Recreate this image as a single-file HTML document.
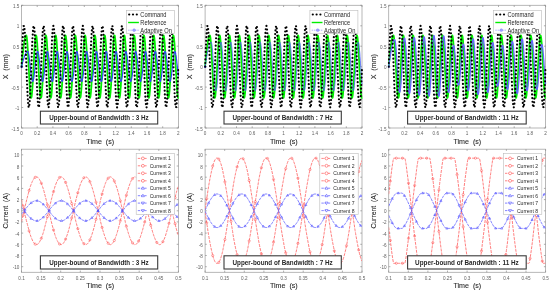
<!DOCTYPE html><html><head><meta charset="utf-8"><style>
html,body{margin:0;padding:0;background:#fff;width:550px;height:293px;overflow:hidden}
svg{display:block;will-change:transform}
text{font-family:"Liberation Sans", sans-serif}
.tk{font-size:4.6px;fill:#606060}
.lab{font-size:7.6px;fill:#2a2a2a;stroke:#2a2a2a;stroke-width:0.1px}
.lg{font-size:6.6px;fill:#2a2a2a}
.lg2{font-size:6.0px;fill:#2a2a2a}
.bx{font-size:6.5px;font-weight:bold;fill:#282828}
</style></head><body>
<svg width="550" height="293" viewBox="0 0 550 293">
<defs>
<filter id="soft" x="0" y="0" width="550" height="293" filterUnits="userSpaceOnUse" color-interpolation-filters="sRGB"><feConvolveMatrix order="3" kernelMatrix="1 2 1 2 4 2 1 2 1" divisor="16" edgeMode="duplicate"/></filter>
<clipPath id="ct0"><rect x="20.5" y="5.3" width="158.9" height="122.7"/></clipPath>
<clipPath id="cb0"><rect x="21.5" y="149.2" width="156.9" height="123.1"/></clipPath>
<clipPath id="ct1"><rect x="204.1" y="5.3" width="158.9" height="122.7"/></clipPath>
<clipPath id="cb1"><rect x="205.1" y="149.2" width="156.9" height="123.1"/></clipPath>
<clipPath id="ct2"><rect x="387.7" y="5.3" width="158.9" height="122.7"/></clipPath>
<clipPath id="cb2"><rect x="388.7" y="149.2" width="156.9" height="123.1"/></clipPath>
</defs>
<g>
<rect width="550" height="293" fill="#fff"/>
<rect x="21.5" y="5.3" width="156.9" height="122.7" fill="none" stroke="#a6a6a6" stroke-width="0.8"/>
<path d="M21.5 128 v-1.7 M21.5 5.3 v1.7 M37.2 128 v-1.7 M37.2 5.3 v1.7 M52.9 128 v-1.7 M52.9 5.3 v1.7 M68.6 128 v-1.7 M68.6 5.3 v1.7 M84.3 128 v-1.7 M84.3 5.3 v1.7 M100 128 v-1.7 M100 5.3 v1.7 M115.6 128 v-1.7 M115.6 5.3 v1.7 M131.3 128 v-1.7 M131.3 5.3 v1.7 M147 128 v-1.7 M147 5.3 v1.7 M162.7 128 v-1.7 M162.7 5.3 v1.7 M178.4 128 v-1.7 M178.4 5.3 v1.7 M21.5 128 h1.7 M178.4 128 h-1.7 M21.5 107.5 h1.7 M178.4 107.5 h-1.7 M21.5 87.1 h1.7 M178.4 87.1 h-1.7 M21.5 66.7 h1.7 M178.4 66.7 h-1.7 M21.5 46.2 h1.7 M178.4 46.2 h-1.7 M21.5 25.8 h1.7 M178.4 25.8 h-1.7 M21.5 5.3 h1.7 M178.4 5.3 h-1.7" stroke="#8c8c8c" stroke-width="0.7" fill="none"/>
<text x="21.5" y="135.3" text-anchor="middle" class="tk">0</text>
<text x="37.2" y="135.3" text-anchor="middle" class="tk">0.2</text>
<text x="52.9" y="135.3" text-anchor="middle" class="tk">0.4</text>
<text x="68.6" y="135.3" text-anchor="middle" class="tk">0.6</text>
<text x="84.3" y="135.3" text-anchor="middle" class="tk">0.8</text>
<text x="100" y="135.3" text-anchor="middle" class="tk">1</text>
<text x="115.6" y="135.3" text-anchor="middle" class="tk">1.2</text>
<text x="131.3" y="135.3" text-anchor="middle" class="tk">1.4</text>
<text x="147" y="135.3" text-anchor="middle" class="tk">1.6</text>
<text x="162.7" y="135.3" text-anchor="middle" class="tk">1.8</text>
<text x="178.4" y="135.3" text-anchor="middle" class="tk">2</text>
<text x="19.3" y="130.5" text-anchor="end" class="tk">-1.5</text>
<text x="19.3" y="110" text-anchor="end" class="tk">-1</text>
<text x="19.3" y="89.6" text-anchor="end" class="tk">-0.5</text>
<text x="19.3" y="69.2" text-anchor="end" class="tk">0</text>
<text x="19.3" y="48.7" text-anchor="end" class="tk">0.5</text>
<text x="19.3" y="28.2" text-anchor="end" class="tk">1</text>
<text x="19.3" y="7.8" text-anchor="end" class="tk">1.5</text>
<text x="100.2" y="144.1" text-anchor="middle" class="lab" textLength="27.8" lengthAdjust="spacingAndGlyphs">Time&#160;&#160;(s)</text>
<text transform="translate(8.3 66.7) rotate(-90)" text-anchor="middle" class="lab" textLength="25.3" lengthAdjust="spacingAndGlyphs">X&#160;&#160;(mm)</text>
<g clip-path="url(#ct0)">
<path d="M21.5 66.7 L21.7 64.1 L22 61.6 L22.2 59.1 L22.5 56.6 L22.7 54.3 L23 52 L23.2 49.8 L23.5 47.7 L23.7 45.7 L24 43.9 L24.2 42.2 L24.4 40.7 L24.7 39.4 L24.9 38.2 L25.2 37.2 L25.4 36.5 L25.7 35.9 L25.9 35.5 L26.2 35.4 L26.4 35.6 L26.6 36.5 L26.9 38.2 L27.1 40.6 L27.4 43.6 L27.6 47.2 L27.9 51.2 L28.1 55.7 L28.4 60.4 L28.6 65.3 L28.9 70.2 L29.1 75 L29.3 79.6 L29.6 83.9 L29.8 87.8 L30.1 91.1 L30.3 93.9 L30.6 96 L30.8 97.3 L31.1 97.9 L31.3 97.7 L31.6 96.8 L31.8 95.1 L32 92.7 L32.3 89.7 L32.5 86.1 L32.8 82.1 L33 77.6 L33.3 72.9 L33.5 68 L33.8 63.1 L34 58.3 L34.2 53.7 L34.5 49.4 L34.7 45.5 L35 42.2 L35.2 39.4 L35.5 37.3 L35.7 36 L36 35.4 L36.2 35.6 L36.5 36.5 L36.7 38.2 L36.9 40.6 L37.2 43.6 L37.4 47.2 L37.7 51.2 L37.9 55.7 L38.2 60.4 L38.4 65.3 L38.7 70.2 L38.9 75 L39.2 79.6 L39.4 83.9 L39.6 87.8 L39.9 91.1 L40.1 93.9 L40.4 96 L40.6 97.3 L40.9 97.9 L41.1 97.7 L41.4 96.8 L41.6 95.1 L41.8 92.7 L42.1 89.7 L42.3 86.1 L42.6 82.1 L42.8 77.6 L43.1 72.9 L43.3 68 L43.6 63.1 L43.8 58.3 L44.1 53.7 L44.3 49.4 L44.5 45.5 L44.8 42.2 L45 39.4 L45.3 37.3 L45.5 36 L45.8 35.4 L46 35.6 L46.3 36.5 L46.5 38.2 L46.8 40.6 L47 43.6 L47.2 47.2 L47.5 51.2 L47.7 55.7 L48 60.4 L48.2 65.3 L48.5 70.2 L48.7 75 L49 79.6 L49.2 83.9 L49.4 87.8 L49.7 91.1 L49.9 93.9 L50.2 96 L50.4 97.3 L50.7 97.9 L50.9 97.7 L51.2 96.8 L51.4 95.1 L51.7 92.7 L51.9 89.7 L52.1 86.1 L52.4 82.1 L52.6 77.6 L52.9 72.9 L53.1 68 L53.4 63.1 L53.6 58.3 L53.9 53.7 L54.1 49.4 L54.4 45.5 L54.6 42.2 L54.8 39.4 L55.1 37.3 L55.3 36 L55.6 35.4 L55.8 35.6 L56.1 36.5 L56.3 38.2 L56.6 40.6 L56.8 43.6 L57 47.2 L57.3 51.2 L57.5 55.7 L57.8 60.4 L58 65.3 L58.3 70.2 L58.5 75 L58.8 79.6 L59 83.9 L59.3 87.8 L59.5 91.1 L59.7 93.9 L60 96 L60.2 97.3 L60.5 97.9 L60.7 97.7 L61 96.8 L61.2 95.1 L61.5 92.7 L61.7 89.7 L62 86.1 L62.2 82.1 L62.4 77.6 L62.7 72.9 L62.9 68 L63.2 63.1 L63.4 58.3 L63.7 53.7 L63.9 49.4 L64.2 45.5 L64.4 42.2 L64.6 39.4 L64.9 37.3 L65.1 36 L65.4 35.4 L65.6 35.6 L65.9 36.5 L66.1 38.2 L66.4 40.6 L66.6 43.6 L66.9 47.2 L67.1 51.2 L67.3 55.7 L67.6 60.4 L67.8 65.3 L68.1 70.2 L68.3 75 L68.6 79.6 L68.8 83.9 L69.1 87.8 L69.3 91.1 L69.6 93.9 L69.8 96 L70 97.3 L70.3 97.9 L70.5 97.7 L70.8 96.8 L71 95.1 L71.3 92.7 L71.5 89.7 L71.8 86.1 L72 82.1 L72.2 77.6 L72.5 72.9 L72.7 68 L73 63.1 L73.2 58.3 L73.5 53.7 L73.7 49.4 L74 45.5 L74.2 42.2 L74.5 39.4 L74.7 37.3 L74.9 36 L75.2 35.4 L75.4 35.6 L75.7 36.5 L75.9 38.2 L76.2 40.6 L76.4 43.6 L76.7 47.2 L76.9 51.2 L77.2 55.7 L77.4 60.4 L77.6 65.3 L77.9 70.2 L78.1 75 L78.4 79.6 L78.6 83.9 L78.9 87.8 L79.1 91.1 L79.4 93.9 L79.6 96 L79.8 97.3 L80.1 97.9 L80.3 97.7 L80.6 96.8 L80.8 95.1 L81.1 92.7 L81.3 89.7 L81.6 86.1 L81.8 82.1 L82.1 77.6 L82.3 72.9 L82.5 68 L82.8 63.1 L83 58.3 L83.3 53.7 L83.5 49.4 L83.8 45.5 L84 42.2 L84.3 39.4 L84.5 37.3 L84.8 36 L85 35.4 L85.2 35.6 L85.5 36.5 L85.7 38.2 L86 40.6 L86.2 43.6 L86.5 47.2 L86.7 51.2 L87 55.7 L87.2 60.4 L87.4 65.3 L87.7 70.2 L87.9 75 L88.2 79.6 L88.4 83.9 L88.7 87.8 L88.9 91.1 L89.2 93.9 L89.4 96 L89.7 97.3 L89.9 97.9 L90.1 97.7 L90.4 96.8 L90.6 95.1 L90.9 92.7 L91.1 89.7 L91.4 86.1 L91.6 82.1 L91.9 77.6 L92.1 72.9 L92.4 68 L92.6 63.1 L92.8 58.3 L93.1 53.7 L93.3 49.4 L93.6 45.5 L93.8 42.2 L94.1 39.4 L94.3 37.3 L94.6 36 L94.8 35.4 L95 35.6 L95.3 36.5 L95.5 38.2 L95.8 40.6 L96 43.6 L96.3 47.2 L96.5 51.2 L96.8 55.7 L97 60.4 L97.3 65.3 L97.5 70.2 L97.7 75 L98 79.6 L98.2 83.9 L98.5 87.8 L98.7 91.1 L99 93.9 L99.2 96 L99.5 97.3 L99.7 97.9 L100 97.7 L100.2 96.8 L100.4 95.1 L100.7 92.7 L100.9 89.7 L101.2 86.1 L101.4 82.1 L101.7 77.6 L101.9 72.9 L102.2 68 L102.4 63.1 L102.6 58.3 L102.9 53.7 L103.1 49.4 L103.4 45.5 L103.6 42.2 L103.9 39.4 L104.1 37.3 L104.4 36 L104.6 35.4 L104.9 35.6 L105.1 36.5 L105.3 38.2 L105.6 40.6 L105.8 43.6 L106.1 47.2 L106.3 51.2 L106.6 55.7 L106.8 60.4 L107.1 65.3 L107.3 70.2 L107.5 75 L107.8 79.6 L108 83.9 L108.3 87.8 L108.5 91.1 L108.8 93.9 L109 96 L109.3 97.3 L109.5 97.9 L109.8 97.7 L110 96.8 L110.2 95.1 L110.5 92.7 L110.7 89.7 L111 86.1 L111.2 82.1 L111.5 77.6 L111.7 72.9 L112 68 L112.2 63.1 L112.5 58.3 L112.7 53.7 L112.9 49.4 L113.2 45.5 L113.4 42.2 L113.7 39.4 L113.9 37.3 L114.2 36 L114.4 35.4 L114.7 35.6 L114.9 36.5 L115.1 38.2 L115.4 40.6 L115.6 43.6 L115.9 47.2 L116.1 51.2 L116.4 55.7 L116.6 60.4 L116.9 65.3 L117.1 70.2 L117.4 75 L117.6 79.6 L117.8 83.9 L118.1 87.8 L118.3 91.1 L118.6 93.9 L118.8 96 L119.1 97.3 L119.3 97.9 L119.6 97.7 L119.8 96.8 L120.1 95.1 L120.3 92.7 L120.5 89.7 L120.8 86.1 L121 82.1 L121.3 77.6 L121.5 72.9 L121.8 68 L122 63.1 L122.3 58.3 L122.5 53.7 L122.7 49.4 L123 45.5 L123.2 42.2 L123.5 39.4 L123.7 37.3 L124 36 L124.2 35.4 L124.5 35.6 L124.7 36.5 L125 38.2 L125.2 40.6 L125.4 43.6 L125.7 47.2 L125.9 51.2 L126.2 55.7 L126.4 60.4 L126.7 65.3 L126.9 70.2 L127.2 75 L127.4 79.6 L127.7 83.9 L127.9 87.8 L128.1 91.1 L128.4 93.9 L128.6 96 L128.9 97.3 L129.1 97.9 L129.4 97.7 L129.6 96.8 L129.9 95.1 L130.1 92.7 L130.3 89.7 L130.6 86.1 L130.8 82.1 L131.1 77.6 L131.3 72.9 L131.6 68 L131.8 63.1 L132.1 58.3 L132.3 53.7 L132.6 49.4 L132.8 45.5 L133 42.2 L133.3 39.4 L133.5 37.3 L133.8 36 L134 35.4 L134.3 35.6 L134.5 36.5 L134.8 38.2 L135 40.6 L135.3 43.6 L135.5 47.2 L135.7 51.2 L136 55.7 L136.2 60.4 L136.5 65.3 L136.7 70.2 L137 75 L137.2 79.6 L137.5 83.9 L137.7 87.8 L137.9 91.1 L138.2 93.9 L138.4 96 L138.7 97.3 L138.9 97.9 L139.2 97.7 L139.4 96.8 L139.7 95.1 L139.9 92.7 L140.2 89.7 L140.4 86.1 L140.6 82.1 L140.9 77.6 L141.1 72.9 L141.4 68 L141.6 63.1 L141.9 58.3 L142.1 53.7 L142.4 49.4 L142.6 45.5 L142.9 42.2 L143.1 39.4 L143.3 37.3 L143.6 36 L143.8 35.4 L144.1 35.6 L144.3 36.5 L144.6 38.2 L144.8 40.6 L145.1 43.6 L145.3 47.2 L145.5 51.2 L145.8 55.7 L146 60.4 L146.3 65.3 L146.5 70.2 L146.8 75 L147 79.6 L147.3 83.9 L147.5 87.8 L147.8 91.1 L148 93.9 L148.2 96 L148.5 97.3 L148.7 97.9 L149 97.7 L149.2 96.8 L149.5 95.1 L149.7 92.7 L150 89.7 L150.2 86.1 L150.5 82.1 L150.7 77.6 L150.9 72.9 L151.2 68 L151.4 63.1 L151.7 58.3 L151.9 53.7 L152.2 49.4 L152.4 45.5 L152.7 42.2 L152.9 39.4 L153.1 37.3 L153.4 36 L153.6 35.4 L153.9 35.6 L154.1 36.5 L154.4 38.2 L154.6 40.6 L154.9 43.6 L155.1 47.2 L155.4 51.2 L155.6 55.7 L155.8 60.4 L156.1 65.3 L156.3 70.2 L156.6 75 L156.8 79.6 L157.1 83.9 L157.3 87.8 L157.6 91.1 L157.8 93.9 L158.1 96 L158.3 97.3 L158.5 97.9 L158.8 97.7 L159 96.8 L159.3 95.1 L159.5 92.7 L159.8 89.7 L160 86.1 L160.3 82.1 L160.5 77.6 L160.7 72.9 L161 68 L161.2 63.1 L161.5 58.3 L161.7 53.7 L162 49.4 L162.2 45.5 L162.5 42.2 L162.7 39.4 L163 37.3 L163.2 36 L163.4 35.4 L163.7 35.6 L163.9 36.5 L164.2 38.2 L164.4 40.6 L164.7 43.6 L164.9 47.2 L165.2 51.2 L165.4 55.7 L165.7 60.4 L165.9 65.3 L166.1 70.2 L166.4 75 L166.6 79.6 L166.9 83.9 L167.1 87.8 L167.4 91.1 L167.6 93.9 L167.9 96 L168.1 97.3 L168.3 97.9 L168.6 97.7 L168.8 96.8 L169.1 95.1 L169.3 92.7 L169.6 89.7 L169.8 86.1 L170.1 82.1 L170.3 77.6 L170.6 72.9 L170.8 68 L171 63.1 L171.3 58.3 L171.5 53.7 L171.8 49.4 L172 45.5 L172.3 42.2 L172.5 39.4 L172.8 37.3 L173 36 L173.3 35.4 L173.5 35.6 L173.7 36.5 L174 38.2 L174.2 40.6 L174.5 43.6 L174.7 47.2 L175 51.2 L175.2 55.7 L175.5 60.4 L175.7 65.3 L175.9 70.2 L176.2 75 L176.4 79.6 L176.7 83.9 L176.9 87.8 L177.2 91.1 L177.4 93.9 L177.7 96 L177.9 97.3 L178.2 97.9 L178.4 97.7" stroke="#00ee00" stroke-width="1.8" fill="none" stroke-linejoin="round"/>
<path d="M21.5 66.7 L21.7 65.7 L22 64.8 L22.2 63.9 L22.5 63 L22.7 62.1 L23 61.2 L23.2 60.4 L23.5 59.5 L23.7 58.7 L24 58 L24.2 57.2 L24.4 56.5 L24.7 55.8 L24.9 55.2 L25.2 54.6 L25.4 54.1 L25.7 53.6 L25.9 53.2 L26.2 52.8 L26.4 52.4 L26.6 52.1 L26.9 51.9 L27.1 51.7 L27.4 51.6 L27.6 51.5 L27.9 51.5 L28.1 51.8 L28.4 52.5 L28.6 53.5 L28.9 54.9 L29.1 56.5 L29.3 58.4 L29.6 60.5 L29.8 62.7 L30.1 65 L30.3 67.4 L30.6 69.7 L30.8 71.9 L31.1 74 L31.3 75.9 L31.6 77.6 L31.8 79 L32 80.1 L32.3 80.9 L32.5 81.3 L32.8 81.4 L33 81.1 L33.3 80.4 L33.5 79.4 L33.8 78.1 L34 76.5 L34.2 74.7 L34.5 72.7 L34.7 70.5 L35 68.2 L35.2 65.9 L35.5 63.5 L35.7 61.3 L36 59.1 L36.2 57.2 L36.5 55.4 L36.7 54 L36.9 52.8 L37.2 52 L37.4 51.6 L37.7 51.5 L37.9 51.8 L38.2 52.5 L38.4 53.5 L38.7 54.9 L38.9 56.5 L39.2 58.4 L39.4 60.5 L39.6 62.7 L39.9 65 L40.1 67.4 L40.4 69.7 L40.6 71.9 L40.9 74 L41.1 75.9 L41.4 77.6 L41.6 79 L41.8 80.1 L42.1 80.9 L42.3 81.3 L42.6 81.4 L42.8 81.1 L43.1 80.4 L43.3 79.4 L43.6 78.1 L43.8 76.5 L44.1 74.7 L44.3 72.7 L44.5 70.5 L44.8 68.2 L45 65.9 L45.3 63.5 L45.5 61.3 L45.8 59.1 L46 57.2 L46.3 55.4 L46.5 54 L46.8 52.8 L47 52 L47.2 51.6 L47.5 51.5 L47.7 51.8 L48 52.5 L48.2 53.5 L48.5 54.9 L48.7 56.5 L49 58.4 L49.2 60.5 L49.4 62.7 L49.7 65 L49.9 67.4 L50.2 69.7 L50.4 71.9 L50.7 74 L50.9 75.9 L51.2 77.6 L51.4 79 L51.7 80.1 L51.9 80.9 L52.1 81.3 L52.4 81.4 L52.6 81.1 L52.9 80.4 L53.1 79.4 L53.4 78.1 L53.6 76.5 L53.9 74.7 L54.1 72.7 L54.4 70.5 L54.6 68.2 L54.8 65.9 L55.1 63.5 L55.3 61.3 L55.6 59.1 L55.8 57.2 L56.1 55.4 L56.3 54 L56.6 52.8 L56.8 52 L57 51.6 L57.3 51.5 L57.5 51.8 L57.8 52.5 L58 53.5 L58.3 54.9 L58.5 56.5 L58.8 58.4 L59 60.5 L59.3 62.7 L59.5 65 L59.7 67.4 L60 69.7 L60.2 71.9 L60.5 74 L60.7 75.9 L61 77.6 L61.2 79 L61.5 80.1 L61.7 80.9 L62 81.3 L62.2 81.4 L62.4 81.1 L62.7 80.4 L62.9 79.4 L63.2 78.1 L63.4 76.5 L63.7 74.7 L63.9 72.7 L64.2 70.5 L64.4 68.2 L64.6 65.9 L64.9 63.5 L65.1 61.3 L65.4 59.1 L65.6 57.2 L65.9 55.4 L66.1 54 L66.4 52.8 L66.6 52 L66.9 51.6 L67.1 51.5 L67.3 51.8 L67.6 52.5 L67.8 53.5 L68.1 54.9 L68.3 56.5 L68.6 58.4 L68.8 60.5 L69.1 62.7 L69.3 65 L69.6 67.4 L69.8 69.7 L70 71.9 L70.3 74 L70.5 75.9 L70.8 77.6 L71 79 L71.3 80.1 L71.5 80.9 L71.8 81.3 L72 81.4 L72.2 81.1 L72.5 80.4 L72.7 79.4 L73 78.1 L73.2 76.5 L73.5 74.7 L73.7 72.7 L74 70.5 L74.2 68.2 L74.5 65.9 L74.7 63.5 L74.9 61.3 L75.2 59.1 L75.4 57.2 L75.7 55.4 L75.9 54 L76.2 52.8 L76.4 52 L76.7 51.6 L76.9 51.5 L77.2 51.8 L77.4 52.5 L77.6 53.5 L77.9 54.9 L78.1 56.5 L78.4 58.4 L78.6 60.5 L78.9 62.7 L79.1 65 L79.4 67.4 L79.6 69.7 L79.8 71.9 L80.1 74 L80.3 75.9 L80.6 77.6 L80.8 79 L81.1 80.1 L81.3 80.9 L81.6 81.3 L81.8 81.4 L82.1 81.1 L82.3 80.4 L82.5 79.4 L82.8 78.1 L83 76.5 L83.3 74.7 L83.5 72.7 L83.8 70.5 L84 68.2 L84.3 65.9 L84.5 63.5 L84.8 61.3 L85 59.1 L85.2 57.2 L85.5 55.4 L85.7 54 L86 52.8 L86.2 52 L86.5 51.6 L86.7 51.5 L87 51.8 L87.2 52.5 L87.4 53.5 L87.7 54.9 L87.9 56.5 L88.2 58.4 L88.4 60.5 L88.7 62.7 L88.9 65 L89.2 67.4 L89.4 69.7 L89.7 71.9 L89.9 74 L90.1 75.9 L90.4 77.6 L90.6 79 L90.9 80.1 L91.1 80.9 L91.4 81.3 L91.6 81.4 L91.9 81.1 L92.1 80.4 L92.4 79.4 L92.6 78.1 L92.8 76.5 L93.1 74.7 L93.3 72.7 L93.6 70.5 L93.8 68.2 L94.1 65.9 L94.3 63.5 L94.6 61.3 L94.8 59.1 L95 57.2 L95.3 55.4 L95.5 54 L95.8 52.8 L96 52 L96.3 51.6 L96.5 51.5 L96.8 51.8 L97 52.5 L97.3 53.5 L97.5 54.9 L97.7 56.5 L98 58.4 L98.2 60.5 L98.5 62.7 L98.7 65 L99 67.4 L99.2 69.7 L99.5 71.9 L99.7 74 L100 75.9 L100.2 77.6 L100.4 79 L100.7 80.1 L100.9 80.9 L101.2 81.3 L101.4 81.4 L101.7 81.1 L101.9 80.4 L102.2 79.4 L102.4 78.1 L102.6 76.5 L102.9 74.7 L103.1 72.7 L103.4 70.5 L103.6 68.2 L103.9 65.9 L104.1 63.5 L104.4 61.3 L104.6 59.1 L104.9 57.2 L105.1 55.4 L105.3 54 L105.6 52.8 L105.8 52 L106.1 51.6 L106.3 51.5 L106.6 51.8 L106.8 52.5 L107.1 53.5 L107.3 54.9 L107.5 56.5 L107.8 58.4 L108 60.5 L108.3 62.7 L108.5 65 L108.8 67.4 L109 69.7 L109.3 71.9 L109.5 74 L109.8 75.9 L110 77.6 L110.2 79 L110.5 80.1 L110.7 80.9 L111 81.3 L111.2 81.4 L111.5 81.1 L111.7 80.4 L112 79.4 L112.2 78.1 L112.5 76.5 L112.7 74.7 L112.9 72.7 L113.2 70.5 L113.4 68.2 L113.7 65.9 L113.9 63.5 L114.2 61.3 L114.4 59.1 L114.7 57.2 L114.9 55.4 L115.1 54 L115.4 52.8 L115.6 52 L115.9 51.6 L116.1 51.5 L116.4 51.8 L116.6 52.5 L116.9 53.5 L117.1 54.9 L117.4 56.5 L117.6 58.4 L117.8 60.5 L118.1 62.7 L118.3 65 L118.6 67.4 L118.8 69.7 L119.1 71.9 L119.3 74 L119.6 75.9 L119.8 77.6 L120.1 79 L120.3 80.1 L120.5 80.9 L120.8 81.3 L121 81.4 L121.3 81.1 L121.5 80.4 L121.8 79.4 L122 78.1 L122.3 76.5 L122.5 74.7 L122.7 72.7 L123 70.5 L123.2 68.2 L123.5 65.9 L123.7 63.5 L124 61.3 L124.2 59.1 L124.5 57.2 L124.7 55.4 L125 54 L125.2 52.8 L125.4 52 L125.7 51.6 L125.9 51.5 L126.2 51.8 L126.4 52.5 L126.7 53.5 L126.9 54.9 L127.2 56.5 L127.4 58.4 L127.7 60.5 L127.9 62.7 L128.1 65 L128.4 67.4 L128.6 69.7 L128.9 71.9 L129.1 74 L129.4 75.9 L129.6 77.6 L129.9 79 L130.1 80.1 L130.3 80.9 L130.6 81.3 L130.8 81.4 L131.1 81.1 L131.3 80.4 L131.6 79.4 L131.8 78.1 L132.1 76.5 L132.3 74.7 L132.6 72.7 L132.8 70.5 L133 68.2 L133.3 65.9 L133.5 63.5 L133.8 61.3 L134 59.1 L134.3 57.2 L134.5 55.4 L134.8 54 L135 52.8 L135.3 52 L135.5 51.6 L135.7 51.5 L136 51.8 L136.2 52.5 L136.5 53.5 L136.7 54.9 L137 56.5 L137.2 58.4 L137.5 60.5 L137.7 62.7 L137.9 65 L138.2 67.4 L138.4 69.7 L138.7 71.9 L138.9 74 L139.2 75.9 L139.4 77.6 L139.7 79 L139.9 80.1 L140.2 80.9 L140.4 81.3 L140.6 81.4 L140.9 81.1 L141.1 80.4 L141.4 79.4 L141.6 78.1 L141.9 76.5 L142.1 74.7 L142.4 72.7 L142.6 70.5 L142.9 68.2 L143.1 65.9 L143.3 63.5 L143.6 61.3 L143.8 59.1 L144.1 57.2 L144.3 55.4 L144.6 54 L144.8 52.8 L145.1 52 L145.3 51.6 L145.5 51.5 L145.8 51.8 L146 52.5 L146.3 53.5 L146.5 54.9 L146.8 56.5 L147 58.4 L147.3 60.5 L147.5 62.7 L147.8 65 L148 67.4 L148.2 69.7 L148.5 71.9 L148.7 74 L149 75.9 L149.2 77.6 L149.5 79 L149.7 80.1 L150 80.9 L150.2 81.3 L150.5 81.4 L150.7 81.1 L150.9 80.4 L151.2 79.4 L151.4 78.1 L151.7 76.5 L151.9 74.7 L152.2 72.7 L152.4 70.5 L152.7 68.2 L152.9 65.9 L153.1 63.5 L153.4 61.3 L153.6 59.1 L153.9 57.2 L154.1 55.4 L154.4 54 L154.6 52.8 L154.9 52 L155.1 51.6 L155.4 51.5 L155.6 51.8 L155.8 52.5 L156.1 53.5 L156.3 54.9 L156.6 56.5 L156.8 58.4 L157.1 60.5 L157.3 62.7 L157.6 65 L157.8 67.4 L158.1 69.7 L158.3 71.9 L158.5 74 L158.8 75.9 L159 77.6 L159.3 79 L159.5 80.1 L159.8 80.9 L160 81.3 L160.3 81.4 L160.5 81.1 L160.7 80.4 L161 79.4 L161.2 78.1 L161.5 76.5 L161.7 74.7 L162 72.7 L162.2 70.5 L162.5 68.2 L162.7 65.9 L163 63.5 L163.2 61.3 L163.4 59.1 L163.7 57.2 L163.9 55.4 L164.2 54 L164.4 52.8 L164.7 52 L164.9 51.6 L165.2 51.5 L165.4 51.8 L165.7 52.5 L165.9 53.5 L166.1 54.9 L166.4 56.5 L166.6 58.4 L166.9 60.5 L167.1 62.7 L167.4 65 L167.6 67.4 L167.9 69.7 L168.1 71.9 L168.3 74 L168.6 75.9 L168.8 77.6 L169.1 79 L169.3 80.1 L169.6 80.9 L169.8 81.3 L170.1 81.4 L170.3 81.1 L170.6 80.4 L170.8 79.4 L171 78.1 L171.3 76.5 L171.5 74.7 L171.8 72.7 L172 70.5 L172.3 68.2 L172.5 65.9 L172.8 63.5 L173 61.3 L173.3 59.1 L173.5 57.2 L173.7 55.4 L174 54 L174.2 52.8 L174.5 52 L174.7 51.6 L175 51.5 L175.2 51.8 L175.5 52.5 L175.7 53.5 L175.9 54.9 L176.2 56.5 L176.4 58.4 L176.7 60.5 L176.9 62.7 L177.2 65 L177.4 67.4 L177.7 69.7 L177.9 71.9 L178.2 74 L178.4 75.9" stroke="#3040ff" stroke-width="1.1" fill="none" stroke-linejoin="round"/>
<circle cx="21.5" cy="66.7" r="1.3" fill="#3040ff"/>
<path d="M21.5 66.7 L21.7 60.3 L22 54 L22.2 48.1 L22.5 42.6 L22.7 37.7 L23 33.6 L23.2 30.2 L23.5 27.8 L23.7 26.3 L24 25.8 L24.2 26.3 L24.4 27.8 L24.7 30.2 L24.9 33.6 L25.2 37.7 L25.4 42.6 L25.7 48.1 L25.9 54 L26.2 60.3 L26.4 66.6 L26.6 73 L26.9 79.3 L27.1 85.2 L27.4 90.7 L27.6 95.6 L27.9 99.7 L28.1 103.1 L28.4 105.5 L28.6 107 L28.9 107.5 L29.1 107 L29.3 105.5 L29.6 103.1 L29.8 99.7 L30.1 95.6 L30.3 90.7 L30.6 85.2 L30.8 79.3 L31.1 73 L31.3 66.7 L31.6 60.3 L31.8 54 L32 48.1 L32.3 42.6 L32.5 37.7 L32.8 33.6 L33 30.2 L33.3 27.8 L33.5 26.3 L33.8 25.8 L34 26.3 L34.2 27.8 L34.5 30.2 L34.7 33.6 L35 37.7 L35.2 42.6 L35.5 48.1 L35.7 54 L36 60.3 L36.2 66.6 L36.5 73 L36.7 79.3 L36.9 85.2 L37.2 90.7 L37.4 95.6 L37.7 99.7 L37.9 103.1 L38.2 105.5 L38.4 107 L38.7 107.5 L38.9 107 L39.2 105.5 L39.4 103.1 L39.6 99.7 L39.9 95.6 L40.1 90.7 L40.4 85.2 L40.6 79.3 L40.9 73 L41.1 66.7 L41.4 60.3 L41.6 54 L41.8 48.1 L42.1 42.6 L42.3 37.7 L42.6 33.6 L42.8 30.2 L43.1 27.8 L43.3 26.3 L43.6 25.8 L43.8 26.3 L44.1 27.8 L44.3 30.2 L44.5 33.6 L44.8 37.7 L45 42.6 L45.3 48.1 L45.5 54 L45.8 60.3 L46 66.6 L46.3 73 L46.5 79.3 L46.8 85.2 L47 90.7 L47.2 95.6 L47.5 99.7 L47.7 103.1 L48 105.5 L48.2 107 L48.5 107.5 L48.7 107 L49 105.5 L49.2 103.1 L49.4 99.7 L49.7 95.6 L49.9 90.7 L50.2 85.2 L50.4 79.3 L50.7 73 L50.9 66.7 L51.2 60.3 L51.4 54 L51.7 48.1 L51.9 42.6 L52.1 37.7 L52.4 33.6 L52.6 30.2 L52.9 27.8 L53.1 26.3 L53.4 25.8 L53.6 26.3 L53.9 27.8 L54.1 30.2 L54.4 33.6 L54.6 37.7 L54.8 42.6 L55.1 48.1 L55.3 54 L55.6 60.3 L55.8 66.6 L56.1 73 L56.3 79.3 L56.6 85.2 L56.8 90.7 L57 95.6 L57.3 99.7 L57.5 103.1 L57.8 105.5 L58 107 L58.3 107.5 L58.5 107 L58.8 105.5 L59 103.1 L59.3 99.7 L59.5 95.6 L59.7 90.7 L60 85.2 L60.2 79.3 L60.5 73 L60.7 66.7 L61 60.3 L61.2 54 L61.5 48.1 L61.7 42.6 L62 37.7 L62.2 33.6 L62.4 30.2 L62.7 27.8 L62.9 26.3 L63.2 25.8 L63.4 26.3 L63.7 27.8 L63.9 30.2 L64.2 33.6 L64.4 37.7 L64.6 42.6 L64.9 48.1 L65.1 54 L65.4 60.3 L65.6 66.6 L65.9 73 L66.1 79.3 L66.4 85.2 L66.6 90.7 L66.9 95.6 L67.1 99.7 L67.3 103.1 L67.6 105.5 L67.8 107 L68.1 107.5 L68.3 107 L68.6 105.5 L68.8 103.1 L69.1 99.7 L69.3 95.6 L69.6 90.7 L69.8 85.2 L70 79.3 L70.3 73 L70.5 66.7 L70.8 60.3 L71 54 L71.3 48.1 L71.5 42.6 L71.8 37.7 L72 33.6 L72.2 30.2 L72.5 27.8 L72.7 26.3 L73 25.8 L73.2 26.3 L73.5 27.8 L73.7 30.2 L74 33.6 L74.2 37.7 L74.5 42.6 L74.7 48.1 L74.9 54 L75.2 60.3 L75.4 66.6 L75.7 73 L75.9 79.3 L76.2 85.2 L76.4 90.7 L76.7 95.6 L76.9 99.7 L77.2 103.1 L77.4 105.5 L77.6 107 L77.9 107.5 L78.1 107 L78.4 105.5 L78.6 103.1 L78.9 99.7 L79.1 95.6 L79.4 90.7 L79.6 85.2 L79.8 79.3 L80.1 73 L80.3 66.7 L80.6 60.3 L80.8 54 L81.1 48.1 L81.3 42.6 L81.6 37.7 L81.8 33.6 L82.1 30.2 L82.3 27.8 L82.5 26.3 L82.8 25.8 L83 26.3 L83.3 27.8 L83.5 30.2 L83.8 33.6 L84 37.7 L84.3 42.6 L84.5 48.1 L84.8 54 L85 60.3 L85.2 66.7 L85.5 73 L85.7 79.3 L86 85.2 L86.2 90.7 L86.5 95.6 L86.7 99.7 L87 103.1 L87.2 105.5 L87.4 107 L87.7 107.5 L87.9 107 L88.2 105.5 L88.4 103.1 L88.7 99.7 L88.9 95.6 L89.2 90.7 L89.4 85.2 L89.7 79.3 L89.9 73 L90.1 66.7 L90.4 60.3 L90.6 54 L90.9 48.1 L91.1 42.6 L91.4 37.7 L91.6 33.6 L91.9 30.2 L92.1 27.8 L92.4 26.3 L92.6 25.8 L92.8 26.3 L93.1 27.8 L93.3 30.2 L93.6 33.6 L93.8 37.7 L94.1 42.6 L94.3 48.1 L94.6 54 L94.8 60.3 L95 66.6 L95.3 73 L95.5 79.3 L95.8 85.2 L96 90.7 L96.3 95.6 L96.5 99.7 L96.8 103.1 L97 105.5 L97.3 107 L97.5 107.5 L97.7 107 L98 105.5 L98.2 103.1 L98.5 99.7 L98.7 95.6 L99 90.7 L99.2 85.2 L99.5 79.3 L99.7 73 L100 66.7 L100.2 60.3 L100.4 54 L100.7 48.1 L100.9 42.6 L101.2 37.7 L101.4 33.6 L101.7 30.2 L101.9 27.8 L102.2 26.3 L102.4 25.8 L102.6 26.3 L102.9 27.8 L103.1 30.2 L103.4 33.6 L103.6 37.7 L103.9 42.6 L104.1 48.1 L104.4 54 L104.6 60.3 L104.9 66.7 L105.1 73 L105.3 79.3 L105.6 85.2 L105.8 90.7 L106.1 95.6 L106.3 99.7 L106.6 103.1 L106.8 105.5 L107.1 107 L107.3 107.5 L107.5 107 L107.8 105.5 L108 103.1 L108.3 99.7 L108.5 95.6 L108.8 90.7 L109 85.2 L109.3 79.3 L109.5 73 L109.8 66.7 L110 60.3 L110.2 54 L110.5 48.1 L110.7 42.6 L111 37.7 L111.2 33.6 L111.5 30.2 L111.7 27.8 L112 26.3 L112.2 25.8 L112.5 26.3 L112.7 27.8 L112.9 30.2 L113.2 33.6 L113.4 37.7 L113.7 42.6 L113.9 48.1 L114.2 54 L114.4 60.3 L114.7 66.6 L114.9 73 L115.1 79.3 L115.4 85.2 L115.6 90.7 L115.9 95.6 L116.1 99.7 L116.4 103.1 L116.6 105.5 L116.9 107 L117.1 107.5 L117.4 107 L117.6 105.5 L117.8 103.1 L118.1 99.7 L118.3 95.6 L118.6 90.7 L118.8 85.2 L119.1 79.3 L119.3 73 L119.6 66.7 L119.8 60.3 L120.1 54 L120.3 48.1 L120.5 42.6 L120.8 37.7 L121 33.6 L121.3 30.2 L121.5 27.8 L121.8 26.3 L122 25.8 L122.3 26.3 L122.5 27.8 L122.7 30.2 L123 33.6 L123.2 37.7 L123.5 42.6 L123.7 48.1 L124 54 L124.2 60.3 L124.5 66.7 L124.7 73 L125 79.3 L125.2 85.2 L125.4 90.7 L125.7 95.6 L125.9 99.7 L126.2 103.1 L126.4 105.5 L126.7 107 L126.9 107.5 L127.2 107 L127.4 105.5 L127.7 103.1 L127.9 99.7 L128.1 95.6 L128.4 90.7 L128.6 85.2 L128.9 79.3 L129.1 73 L129.4 66.7 L129.6 60.3 L129.9 54 L130.1 48.1 L130.3 42.6 L130.6 37.7 L130.8 33.6 L131.1 30.2 L131.3 27.8 L131.6 26.3 L131.8 25.8 L132.1 26.3 L132.3 27.8 L132.6 30.2 L132.8 33.6 L133 37.7 L133.3 42.6 L133.5 48.1 L133.8 54 L134 60.3 L134.3 66.6 L134.5 73 L134.8 79.3 L135 85.2 L135.3 90.7 L135.5 95.6 L135.7 99.7 L136 103.1 L136.2 105.5 L136.5 107 L136.7 107.5 L137 107 L137.2 105.5 L137.5 103.1 L137.7 99.7 L137.9 95.6 L138.2 90.7 L138.4 85.2 L138.7 79.3 L138.9 73 L139.2 66.7 L139.4 60.3 L139.7 54 L139.9 48.1 L140.2 42.6 L140.4 37.7 L140.6 33.6 L140.9 30.2 L141.1 27.8 L141.4 26.3 L141.6 25.8 L141.9 26.3 L142.1 27.8 L142.4 30.2 L142.6 33.6 L142.9 37.7 L143.1 42.6 L143.3 48.1 L143.6 54 L143.8 60.3 L144.1 66.7 L144.3 73 L144.6 79.3 L144.8 85.2 L145.1 90.7 L145.3 95.6 L145.5 99.7 L145.8 103.1 L146 105.5 L146.3 107 L146.5 107.5 L146.8 107 L147 105.5 L147.3 103.1 L147.5 99.7 L147.8 95.6 L148 90.7 L148.2 85.2 L148.5 79.3 L148.7 73 L149 66.6 L149.2 60.3 L149.5 54 L149.7 48.1 L150 42.6 L150.2 37.7 L150.5 33.6 L150.7 30.2 L150.9 27.8 L151.2 26.3 L151.4 25.8 L151.7 26.3 L151.9 27.8 L152.2 30.2 L152.4 33.6 L152.7 37.7 L152.9 42.6 L153.1 48.1 L153.4 54 L153.6 60.3 L153.9 66.6 L154.1 73 L154.4 79.3 L154.6 85.2 L154.9 90.7 L155.1 95.6 L155.4 99.7 L155.6 103.1 L155.8 105.5 L156.1 107 L156.3 107.5 L156.6 107 L156.8 105.5 L157.1 103.1 L157.3 99.7 L157.6 95.6 L157.8 90.7 L158.1 85.2 L158.3 79.3 L158.5 73 L158.8 66.7 L159 60.3 L159.3 54 L159.5 48.1 L159.8 42.6 L160 37.7 L160.3 33.6 L160.5 30.2 L160.7 27.8 L161 26.3 L161.2 25.8 L161.5 26.3 L161.7 27.8 L162 30.2 L162.2 33.6 L162.5 37.7 L162.7 42.6 L163 48.1 L163.2 54 L163.4 60.3 L163.7 66.7 L163.9 73 L164.2 79.3 L164.4 85.2 L164.7 90.7 L164.9 95.6 L165.2 99.7 L165.4 103.1 L165.7 105.5 L165.9 107 L166.1 107.5 L166.4 107 L166.6 105.5 L166.9 103.1 L167.1 99.7 L167.4 95.6 L167.6 90.7 L167.9 85.2 L168.1 79.3 L168.3 73 L168.6 66.7 L168.8 60.3 L169.1 54 L169.3 48.1 L169.6 42.6 L169.8 37.7 L170.1 33.6 L170.3 30.2 L170.6 27.8 L170.8 26.3 L171 25.8 L171.3 26.3 L171.5 27.8 L171.8 30.2 L172 33.6 L172.3 37.7 L172.5 42.6 L172.8 48.1 L173 54 L173.3 60.3 L173.5 66.6 L173.7 73 L174 79.3 L174.2 85.2 L174.5 90.7 L174.7 95.6 L175 99.7 L175.2 103.1 L175.5 105.5 L175.7 107 L175.9 107.5 L176.2 107 L176.4 105.5 L176.7 103.1 L176.9 99.7 L177.2 95.6 L177.4 90.7 L177.7 85.2 L177.9 79.3 L178.2 73 L178.4 66.7" stroke="#000" stroke-width="2.2" fill="none" stroke-linecap="round" stroke-dasharray="0 3.7"/>
</g>
<rect x="126.3" y="10.3" width="48" height="23.3" fill="#fff" stroke="#bbb" stroke-width="0.6"/>
<circle cx="129.2" cy="14.5" r="1.1" fill="#000"/>
<circle cx="133" cy="14.5" r="1.1" fill="#000"/>
<circle cx="136.8" cy="14.5" r="1.1" fill="#000"/>
<path d="M128.1 22.5 H138.9" stroke="#00ee00" stroke-width="1.4"/>
<path d="M128.1 30.2 H138.9" stroke="#8080ff" stroke-width="0.6" stroke-dasharray="1.5 0.8"/>
<circle cx="134.1" cy="30.2" r="1.4" fill="#a0a0ff" stroke="#8080ff" stroke-width="0.4"/>
<text x="140.3" y="16.8" class="lg" textLength="26.2" lengthAdjust="spacingAndGlyphs">Command</text>
<text x="140.3" y="24.8" class="lg" textLength="26.2" lengthAdjust="spacingAndGlyphs">Reference</text>
<text x="140.3" y="32.5" class="lg" textLength="31.6" lengthAdjust="spacingAndGlyphs">Adaptive On</text>
<rect x="40.4" y="111.2" width="117.3" height="12.8" fill="#fff" stroke="#3a3a3a" stroke-width="1.1"/>
<text x="99" y="120.3" text-anchor="middle" class="bx" textLength="99.3" lengthAdjust="spacingAndGlyphs">Upper-bound of Bandwidth : 3 Hz</text>
<rect x="21.5" y="149.2" width="156.9" height="123.1" fill="none" stroke="#a6a6a6" stroke-width="0.8"/>
<path d="M21.5 272.3 v-1.7 M21.5 149.2 v1.7 M41.1 272.3 v-1.7 M41.1 149.2 v1.7 M60.7 272.3 v-1.7 M60.7 149.2 v1.7 M80.3 272.3 v-1.7 M80.3 149.2 v1.7 M100 272.3 v-1.7 M100 149.2 v1.7 M119.6 272.3 v-1.7 M119.6 149.2 v1.7 M139.2 272.3 v-1.7 M139.2 149.2 v1.7 M158.8 272.3 v-1.7 M158.8 149.2 v1.7 M178.4 272.3 v-1.7 M178.4 149.2 v1.7 M21.5 266.7 h1.7 M178.4 266.7 h-1.7 M21.5 255.5 h1.7 M178.4 255.5 h-1.7 M21.5 244.3 h1.7 M178.4 244.3 h-1.7 M21.5 233.1 h1.7 M178.4 233.1 h-1.7 M21.5 221.9 h1.7 M178.4 221.9 h-1.7 M21.5 210.8 h1.7 M178.4 210.8 h-1.7 M21.5 199.6 h1.7 M178.4 199.6 h-1.7 M21.5 188.4 h1.7 M178.4 188.4 h-1.7 M21.5 177.2 h1.7 M178.4 177.2 h-1.7 M21.5 166 h1.7 M178.4 166 h-1.7 M21.5 154.8 h1.7 M178.4 154.8 h-1.7" stroke="#8c8c8c" stroke-width="0.7" fill="none"/>
<text x="21.5" y="279.6" text-anchor="middle" class="tk">0.1</text>
<text x="41.1" y="279.6" text-anchor="middle" class="tk">0.15</text>
<text x="60.7" y="279.6" text-anchor="middle" class="tk">0.2</text>
<text x="80.3" y="279.6" text-anchor="middle" class="tk">0.25</text>
<text x="100" y="279.6" text-anchor="middle" class="tk">0.3</text>
<text x="119.6" y="279.6" text-anchor="middle" class="tk">0.35</text>
<text x="139.2" y="279.6" text-anchor="middle" class="tk">0.4</text>
<text x="158.8" y="279.6" text-anchor="middle" class="tk">0.45</text>
<text x="178.4" y="279.6" text-anchor="middle" class="tk">0.5</text>
<text x="19.3" y="269.2" text-anchor="end" class="tk">-10</text>
<text x="19.3" y="258" text-anchor="end" class="tk">-8</text>
<text x="19.3" y="246.8" text-anchor="end" class="tk">-6</text>
<text x="19.3" y="235.6" text-anchor="end" class="tk">-4</text>
<text x="19.3" y="224.4" text-anchor="end" class="tk">-2</text>
<text x="19.3" y="213.2" text-anchor="end" class="tk">0</text>
<text x="19.3" y="202.1" text-anchor="end" class="tk">2</text>
<text x="19.3" y="190.9" text-anchor="end" class="tk">4</text>
<text x="19.3" y="179.7" text-anchor="end" class="tk">6</text>
<text x="19.3" y="168.5" text-anchor="end" class="tk">8</text>
<text x="19.3" y="157.3" text-anchor="end" class="tk">10</text>
<text x="100.2" y="288.4" text-anchor="middle" class="lab" textLength="27.8" lengthAdjust="spacingAndGlyphs">Time&#160;&#160;(s)</text>
<text transform="translate(8.3 210.8) rotate(-90)" text-anchor="middle" class="lab" textLength="35.6" lengthAdjust="spacingAndGlyphs">Current&#160;&#160;(A)</text>
<g clip-path="url(#cb0)">
<path d="M21.5 221.9 L22 219.8 L22.5 217.8 L23 215.7 L23.5 213.6 L24 211.5 L24.4 209.4 L24.9 207.3 L25.4 205.2 L25.9 203.1 L26.4 201 L26.9 199 L27.4 197.1 L27.9 195.2 L28.4 193.3 L28.9 191.5 L29.3 189.8 L29.8 188.2 L30.3 186.7 L30.8 185.2 L31.3 183.9 L31.8 182.7 L32.3 181.5 L32.8 180.5 L33.3 179.6 L33.8 178.9 L34.2 178.2 L34.7 177.7 L35.2 177.3 L35.7 177 L36.2 176.9 L36.7 176.9 L37.2 177.1 L37.7 177.3 L38.2 177.7 L38.7 178.2 L39.2 178.9 L39.6 179.7 L40.1 180.6 L40.6 181.6 L41.1 182.7 L41.6 184 L42.1 185.3 L42.6 186.8 L43.1 188.3 L43.6 189.9 L44.1 191.6 L44.5 193.4 L45 195.3 L45.5 197.2 L46 199.1 L46.5 201.1 L47 203.2 L47.5 205.3 L48 207.4 L48.5 209.5 L49 211.6 L49.4 213.7 L49.9 215.8 L50.4 217.9 L50.9 219.9 L51.4 222 L51.9 223.9 L52.4 225.9 L52.9 227.7 L53.4 229.5 L53.9 231.2 L54.4 232.9 L54.8 234.4 L55.3 235.9 L55.8 237.3 L56.3 238.5 L56.8 239.7 L57.3 240.7 L57.8 241.7 L58.3 242.5 L58.8 243.1 L59.3 243.7 L59.7 244.1 L60.2 244.4 L60.7 244.6 L61.2 244.6 L61.7 244.5 L62.2 244.3 L62.7 243.9 L63.2 243.4 L63.7 242.8 L64.2 242 L64.6 241.2 L65.1 240.2 L65.6 239.1 L66.1 237.9 L66.6 236.5 L67.1 235.1 L67.6 233.6 L68.1 232 L68.6 230.3 L69.1 228.5 L69.6 226.7 L70 224.8 L70.5 222.9 L71 220.9 L71.5 218.8 L72 216.8 L72.5 214.7 L73 212.6 L73.5 210.4 L74 208.3 L74.5 206.2 L74.9 204.1 L75.4 202.1 L75.9 200 L76.4 198.1 L76.9 196.1 L77.4 194.2 L77.9 192.4 L78.4 190.7 L78.9 189 L79.4 187.4 L79.8 186 L80.3 184.6 L80.8 183.3 L81.3 182.1 L81.8 181 L82.3 180.1 L82.8 179.2 L83.3 178.5 L83.8 177.9 L84.3 177.5 L84.8 177.2 L85.2 177 L85.7 176.9 L86.2 177 L86.7 177.2 L87.2 177.5 L87.7 178 L88.2 178.6 L88.7 179.3 L89.2 180.1 L89.7 181.1 L90.1 182.1 L90.6 183.3 L91.1 184.6 L91.6 186 L92.1 187.5 L92.6 189.1 L93.1 190.8 L93.6 192.5 L94.1 194.3 L94.6 196.2 L95 198.1 L95.5 200.1 L96 202.2 L96.5 204.2 L97 206.3 L97.5 208.4 L98 210.5 L98.5 212.6 L99 214.8 L99.5 216.8 L100 218.9 L100.4 221 L100.9 223 L101.4 224.9 L101.9 226.8 L102.4 228.6 L102.9 230.4 L103.4 232.1 L103.9 233.7 L104.4 235.2 L104.9 236.6 L105.3 237.9 L105.8 239.1 L106.3 240.2 L106.8 241.2 L107.3 242.1 L107.8 242.8 L108.3 243.4 L108.8 243.9 L109.3 244.3 L109.8 244.5 L110.2 244.6 L110.7 244.6 L111.2 244.4 L111.7 244.1 L112.2 243.7 L112.7 243.1 L113.2 242.4 L113.7 241.6 L114.2 240.7 L114.7 239.6 L115.1 238.5 L115.6 237.2 L116.1 235.8 L116.6 234.4 L117.1 232.8 L117.6 231.2 L118.1 229.4 L118.6 227.6 L119.1 225.8 L119.6 223.8 L120.1 221.9 L120.5 219.9 L121 217.8 L121.5 215.7 L122 213.6 L122.5 211.5 L123 209.4 L123.5 207.3 L124 205.2 L124.5 203.1 L125 201.1 L125.4 199 L125.9 197.1 L126.4 195.2 L126.9 193.3 L127.4 191.6 L127.9 189.8 L128.4 188.2 L128.9 186.7 L129.4 185.2 L129.9 183.9 L130.3 182.7 L130.8 181.5 L131.3 180.5 L131.8 179.6 L132.3 178.9 L132.8 178.2 L133.3 177.7 L133.8 177.3 L134.3 177 L134.8 176.9 L135.3 176.9 L135.7 177.1 L136.2 177.3 L136.7 177.7 L137.2 178.2 L137.7 178.9 L138.2 179.7 L138.7 180.6 L139.2 181.6 L139.7 182.7 L140.2 184 L140.6 185.3 L141.1 186.7 L141.6 188.3 L142.1 189.9 L142.6 191.6 L143.1 193.4 L143.6 195.3 L144.1 197.2 L144.6 199.1 L145.1 201.1 L145.5 203.2 L146 205.3 L146.5 207.4 L147 209.5 L147.5 211.6 L148 213.7 L148.5 215.8 L149 217.9 L149.5 219.9 L150 222 L150.5 223.9 L150.9 225.8 L151.4 227.7 L151.9 229.5 L152.4 231.2 L152.9 232.9 L153.4 234.4 L153.9 235.9 L154.4 237.3 L154.9 238.5 L155.4 239.7 L155.8 240.7 L156.3 241.6 L156.8 242.5 L157.3 243.1 L157.8 243.7 L158.3 244.1 L158.8 244.4 L159.3 244.6 L159.8 244.6 L160.3 244.5 L160.7 244.3 L161.2 243.9 L161.7 243.4 L162.2 242.8 L162.7 242 L163.2 241.2 L163.7 240.2 L164.2 239.1 L164.7 237.9 L165.2 236.5 L165.7 235.1 L166.1 233.6 L166.6 232 L167.1 230.3 L167.6 228.6 L168.1 226.7 L168.6 224.8 L169.1 222.9 L169.6 220.9 L170.1 218.8 L170.6 216.8 L171 214.7 L171.5 212.6 L172 210.4 L172.5 208.3 L173 206.2 L173.5 204.1 L174 202.1 L174.5 200.1 L175 198.1 L175.5 196.1 L175.9 194.2 L176.4 192.4 L176.9 190.7 L177.4 189 L177.9 187.4 L178.4 186" stroke="#ff7070" stroke-width="0.9" fill="none" stroke-dasharray="3 1"/>
<path d="M21.5 199.6 L22 201.7 L22.5 203.7 L23 205.8 L23.5 207.9 L24 210 L24.4 212.1 L24.9 214.2 L25.4 216.3 L25.9 218.4 L26.4 220.5 L26.9 222.5 L27.4 224.4 L27.9 226.3 L28.4 228.2 L28.9 230 L29.3 231.7 L29.8 233.3 L30.3 234.8 L30.8 236.3 L31.3 237.6 L31.8 238.8 L32.3 240 L32.8 241 L33.3 241.9 L33.8 242.6 L34.2 243.3 L34.7 243.8 L35.2 244.2 L35.7 244.5 L36.2 244.6 L36.7 244.6 L37.2 244.4 L37.7 244.2 L38.2 243.8 L38.7 243.3 L39.2 242.6 L39.6 241.8 L40.1 240.9 L40.6 239.9 L41.1 238.8 L41.6 237.5 L42.1 236.2 L42.6 234.7 L43.1 233.2 L43.6 231.6 L44.1 229.9 L44.5 228.1 L45 226.2 L45.5 224.3 L46 222.4 L46.5 220.4 L47 218.3 L47.5 216.2 L48 214.1 L48.5 212 L49 209.9 L49.4 207.8 L49.9 205.7 L50.4 203.6 L50.9 201.6 L51.4 199.5 L51.9 197.6 L52.4 195.6 L52.9 193.8 L53.4 192 L53.9 190.3 L54.4 188.6 L54.8 187.1 L55.3 185.6 L55.8 184.2 L56.3 183 L56.8 181.8 L57.3 180.8 L57.8 179.8 L58.3 179 L58.8 178.4 L59.3 177.8 L59.7 177.4 L60.2 177.1 L60.7 176.9 L61.2 176.9 L61.7 177 L62.2 177.2 L62.7 177.6 L63.2 178.1 L63.7 178.7 L64.2 179.5 L64.6 180.3 L65.1 181.3 L65.6 182.4 L66.1 183.6 L66.6 185 L67.1 186.4 L67.6 187.9 L68.1 189.5 L68.6 191.2 L69.1 193 L69.6 194.8 L70 196.7 L70.5 198.6 L71 200.6 L71.5 202.7 L72 204.7 L72.5 206.8 L73 208.9 L73.5 211.1 L74 213.2 L74.5 215.3 L74.9 217.4 L75.4 219.4 L75.9 221.5 L76.4 223.4 L76.9 225.4 L77.4 227.3 L77.9 229.1 L78.4 230.8 L78.9 232.5 L79.4 234.1 L79.8 235.5 L80.3 236.9 L80.8 238.2 L81.3 239.4 L81.8 240.5 L82.3 241.4 L82.8 242.3 L83.3 243 L83.8 243.6 L84.3 244 L84.8 244.3 L85.2 244.5 L85.7 244.6 L86.2 244.5 L86.7 244.3 L87.2 244 L87.7 243.5 L88.2 242.9 L88.7 242.2 L89.2 241.4 L89.7 240.4 L90.1 239.4 L90.6 238.2 L91.1 236.9 L91.6 235.5 L92.1 234 L92.6 232.4 L93.1 230.7 L93.6 229 L94.1 227.2 L94.6 225.3 L95 223.4 L95.5 221.4 L96 219.3 L96.5 217.3 L97 215.2 L97.5 213.1 L98 211 L98.5 208.9 L99 206.7 L99.5 204.7 L100 202.6 L100.4 200.5 L100.9 198.5 L101.4 196.6 L101.9 194.7 L102.4 192.9 L102.9 191.1 L103.4 189.4 L103.9 187.8 L104.4 186.3 L104.9 184.9 L105.3 183.6 L105.8 182.4 L106.3 181.3 L106.8 180.3 L107.3 179.4 L107.8 178.7 L108.3 178.1 L108.8 177.6 L109.3 177.2 L109.8 177 L110.2 176.9 L110.7 176.9 L111.2 177.1 L111.7 177.4 L112.2 177.8 L112.7 178.4 L113.2 179.1 L113.7 179.9 L114.2 180.8 L114.7 181.9 L115.1 183 L115.6 184.3 L116.1 185.7 L116.6 187.1 L117.1 188.7 L117.6 190.3 L118.1 192.1 L118.6 193.9 L119.1 195.7 L119.6 197.7 L120.1 199.6 L120.5 201.6 L121 203.7 L121.5 205.8 L122 207.9 L122.5 210 L123 212.1 L123.5 214.2 L124 216.3 L124.5 218.4 L125 220.4 L125.4 222.5 L125.9 224.4 L126.4 226.3 L126.9 228.2 L127.4 229.9 L127.9 231.7 L128.4 233.3 L128.9 234.8 L129.4 236.3 L129.9 237.6 L130.3 238.8 L130.8 240 L131.3 241 L131.8 241.9 L132.3 242.6 L132.8 243.3 L133.3 243.8 L133.8 244.2 L134.3 244.5 L134.8 244.6 L135.3 244.6 L135.7 244.4 L136.2 244.2 L136.7 243.8 L137.2 243.3 L137.7 242.6 L138.2 241.8 L138.7 240.9 L139.2 239.9 L139.7 238.8 L140.2 237.5 L140.6 236.2 L141.1 234.8 L141.6 233.2 L142.1 231.6 L142.6 229.9 L143.1 228.1 L143.6 226.2 L144.1 224.3 L144.6 222.4 L145.1 220.4 L145.5 218.3 L146 216.2 L146.5 214.1 L147 212 L147.5 209.9 L148 207.8 L148.5 205.7 L149 203.6 L149.5 201.6 L150 199.5 L150.5 197.6 L150.9 195.7 L151.4 193.8 L151.9 192 L152.4 190.3 L152.9 188.6 L153.4 187.1 L153.9 185.6 L154.4 184.2 L154.9 183 L155.4 181.8 L155.8 180.8 L156.3 179.9 L156.8 179 L157.3 178.4 L157.8 177.8 L158.3 177.4 L158.8 177.1 L159.3 176.9 L159.8 176.9 L160.3 177 L160.7 177.2 L161.2 177.6 L161.7 178.1 L162.2 178.7 L162.7 179.5 L163.2 180.3 L163.7 181.3 L164.2 182.4 L164.7 183.6 L165.2 185 L165.7 186.4 L166.1 187.9 L166.6 189.5 L167.1 191.2 L167.6 192.9 L168.1 194.8 L168.6 196.7 L169.1 198.6 L169.6 200.6 L170.1 202.7 L170.6 204.7 L171 206.8 L171.5 208.9 L172 211.1 L172.5 213.2 L173 215.3 L173.5 217.4 L174 219.4 L174.5 221.4 L175 223.4 L175.5 225.4 L175.9 227.3 L176.4 229.1 L176.9 230.8 L177.4 232.5 L177.9 234.1 L178.4 235.5" stroke="#ff7070" stroke-width="0.9" fill="none" stroke-dasharray="3 1"/>
<path d="M21.5 214.1 L22 213.5 L22.5 212.8 L23 212.2 L23.5 211.6 L24 211 L24.4 210.3 L24.9 209.7 L25.4 209.1 L25.9 208.5 L26.4 207.9 L26.9 207.3 L27.4 206.7 L27.9 206.1 L28.4 205.6 L28.9 205 L29.3 204.5 L29.8 204 L30.3 203.6 L30.8 203.2 L31.3 202.8 L31.8 202.4 L32.3 202.1 L32.8 201.8 L33.3 201.5 L33.8 201.3 L34.2 201.1 L34.7 200.9 L35.2 200.8 L35.7 200.7 L36.2 200.7 L36.7 200.7 L37.2 200.7 L37.7 200.8 L38.2 200.9 L38.7 201.1 L39.2 201.3 L39.6 201.5 L40.1 201.8 L40.6 202.1 L41.1 202.4 L41.6 202.8 L42.1 203.2 L42.6 203.6 L43.1 204.1 L43.6 204.6 L44.1 205.1 L44.5 205.6 L45 206.1 L45.5 206.7 L46 207.3 L46.5 207.9 L47 208.5 L47.5 209.1 L48 209.7 L48.5 210.4 L49 211 L49.4 211.6 L49.9 212.3 L50.4 212.9 L50.9 213.5 L51.4 214.1 L51.9 214.7 L52.4 215.2 L52.9 215.8 L53.4 216.3 L53.9 216.8 L54.4 217.3 L54.8 217.8 L55.3 218.2 L55.8 218.6 L56.3 219 L56.8 219.4 L57.3 219.7 L57.8 219.9 L58.3 220.2 L58.8 220.4 L59.3 220.5 L59.7 220.7 L60.2 220.8 L60.7 220.8 L61.2 220.8 L61.7 220.8 L62.2 220.7 L62.7 220.6 L63.2 220.5 L63.7 220.3 L64.2 220.1 L64.6 219.8 L65.1 219.5 L65.6 219.2 L66.1 218.8 L66.6 218.4 L67.1 218 L67.6 217.5 L68.1 217.1 L68.6 216.6 L69.1 216 L69.6 215.5 L70 214.9 L70.5 214.4 L71 213.8 L71.5 213.2 L72 212.5 L72.5 211.9 L73 211.3 L73.5 210.7 L74 210 L74.5 209.4 L74.9 208.8 L75.4 208.2 L75.9 207.6 L76.4 207 L76.9 206.4 L77.4 205.8 L77.9 205.3 L78.4 204.8 L78.9 204.3 L79.4 203.8 L79.8 203.4 L80.3 203 L80.8 202.6 L81.3 202.2 L81.8 201.9 L82.3 201.6 L82.8 201.4 L83.3 201.2 L83.8 201 L84.3 200.9 L84.8 200.8 L85.2 200.7 L85.7 200.7 L86.2 200.7 L86.7 200.8 L87.2 200.9 L87.7 201 L88.2 201.2 L88.7 201.4 L89.2 201.6 L89.7 201.9 L90.1 202.2 L90.6 202.6 L91.1 203 L91.6 203.4 L92.1 203.8 L92.6 204.3 L93.1 204.8 L93.6 205.3 L94.1 205.9 L94.6 206.4 L95 207 L95.5 207.6 L96 208.2 L96.5 208.8 L97 209.4 L97.5 210.1 L98 210.7 L98.5 211.3 L99 211.9 L99.5 212.6 L100 213.2 L100.4 213.8 L100.9 214.4 L101.4 215 L101.9 215.5 L102.4 216.1 L102.9 216.6 L103.4 217.1 L103.9 217.6 L104.4 218 L104.9 218.4 L105.3 218.8 L105.8 219.2 L106.3 219.5 L106.8 219.8 L107.3 220.1 L107.8 220.3 L108.3 220.5 L108.8 220.6 L109.3 220.7 L109.8 220.8 L110.2 220.8 L110.7 220.8 L111.2 220.8 L111.7 220.7 L112.2 220.5 L112.7 220.4 L113.2 220.2 L113.7 219.9 L114.2 219.7 L114.7 219.3 L115.1 219 L115.6 218.6 L116.1 218.2 L116.6 217.8 L117.1 217.3 L117.6 216.8 L118.1 216.3 L118.6 215.8 L119.1 215.2 L119.6 214.6 L120.1 214.1 L120.5 213.5 L121 212.8 L121.5 212.2 L122 211.6 L122.5 211 L123 210.3 L123.5 209.7 L124 209.1 L124.5 208.5 L125 207.9 L125.4 207.3 L125.9 206.7 L126.4 206.1 L126.9 205.6 L127.4 205 L127.9 204.5 L128.4 204 L128.9 203.6 L129.4 203.2 L129.9 202.8 L130.3 202.4 L130.8 202.1 L131.3 201.8 L131.8 201.5 L132.3 201.3 L132.8 201.1 L133.3 200.9 L133.8 200.8 L134.3 200.7 L134.8 200.7 L135.3 200.7 L135.7 200.7 L136.2 200.8 L136.7 200.9 L137.2 201.1 L137.7 201.3 L138.2 201.5 L138.7 201.8 L139.2 202.1 L139.7 202.4 L140.2 202.8 L140.6 203.2 L141.1 203.6 L141.6 204.1 L142.1 204.6 L142.6 205.1 L143.1 205.6 L143.6 206.1 L144.1 206.7 L144.6 207.3 L145.1 207.9 L145.5 208.5 L146 209.1 L146.5 209.7 L147 210.4 L147.5 211 L148 211.6 L148.5 212.3 L149 212.9 L149.5 213.5 L150 214.1 L150.5 214.7 L150.9 215.2 L151.4 215.8 L151.9 216.3 L152.4 216.8 L152.9 217.3 L153.4 217.8 L153.9 218.2 L154.4 218.6 L154.9 219 L155.4 219.4 L155.8 219.7 L156.3 219.9 L156.8 220.2 L157.3 220.4 L157.8 220.5 L158.3 220.7 L158.8 220.8 L159.3 220.8 L159.8 220.8 L160.3 220.8 L160.7 220.7 L161.2 220.6 L161.7 220.5 L162.2 220.3 L162.7 220.1 L163.2 219.8 L163.7 219.5 L164.2 219.2 L164.7 218.8 L165.2 218.4 L165.7 218 L166.1 217.6 L166.6 217.1 L167.1 216.6 L167.6 216 L168.1 215.5 L168.6 214.9 L169.1 214.4 L169.6 213.8 L170.1 213.2 L170.6 212.5 L171 211.9 L171.5 211.3 L172 210.7 L172.5 210 L173 209.4 L173.5 208.8 L174 208.2 L174.5 207.6 L175 207 L175.5 206.4 L175.9 205.8 L176.4 205.3 L176.9 204.8 L177.4 204.3 L177.9 203.8 L178.4 203.4" stroke="#5a5aff" stroke-width="0.8" fill="none" stroke-dasharray="3 0.9"/>
<path d="M21.5 207.4 L22 208 L22.5 208.7 L23 209.3 L23.5 209.9 L24 210.5 L24.4 211.2 L24.9 211.8 L25.4 212.4 L25.9 213 L26.4 213.6 L26.9 214.2 L27.4 214.8 L27.9 215.4 L28.4 215.9 L28.9 216.5 L29.3 217 L29.8 217.5 L30.3 217.9 L30.8 218.3 L31.3 218.7 L31.8 219.1 L32.3 219.4 L32.8 219.7 L33.3 220 L33.8 220.2 L34.2 220.4 L34.7 220.6 L35.2 220.7 L35.7 220.8 L36.2 220.8 L36.7 220.8 L37.2 220.8 L37.7 220.7 L38.2 220.6 L38.7 220.4 L39.2 220.2 L39.6 220 L40.1 219.7 L40.6 219.4 L41.1 219.1 L41.6 218.7 L42.1 218.3 L42.6 217.9 L43.1 217.4 L43.6 216.9 L44.1 216.4 L44.5 215.9 L45 215.4 L45.5 214.8 L46 214.2 L46.5 213.6 L47 213 L47.5 212.4 L48 211.8 L48.5 211.1 L49 210.5 L49.4 209.9 L49.9 209.2 L50.4 208.6 L50.9 208 L51.4 207.4 L51.9 206.8 L52.4 206.3 L52.9 205.7 L53.4 205.2 L53.9 204.7 L54.4 204.2 L54.8 203.7 L55.3 203.3 L55.8 202.9 L56.3 202.5 L56.8 202.1 L57.3 201.8 L57.8 201.6 L58.3 201.3 L58.8 201.1 L59.3 201 L59.7 200.8 L60.2 200.7 L60.7 200.7 L61.2 200.7 L61.7 200.7 L62.2 200.8 L62.7 200.9 L63.2 201 L63.7 201.2 L64.2 201.4 L64.6 201.7 L65.1 202 L65.6 202.3 L66.1 202.7 L66.6 203.1 L67.1 203.5 L67.6 204 L68.1 204.4 L68.6 204.9 L69.1 205.5 L69.6 206 L70 206.6 L70.5 207.1 L71 207.7 L71.5 208.3 L72 209 L72.5 209.6 L73 210.2 L73.5 210.8 L74 211.5 L74.5 212.1 L74.9 212.7 L75.4 213.3 L75.9 213.9 L76.4 214.5 L76.9 215.1 L77.4 215.7 L77.9 216.2 L78.4 216.7 L78.9 217.2 L79.4 217.7 L79.8 218.1 L80.3 218.5 L80.8 218.9 L81.3 219.3 L81.8 219.6 L82.3 219.9 L82.8 220.1 L83.3 220.3 L83.8 220.5 L84.3 220.6 L84.8 220.7 L85.2 220.8 L85.7 220.8 L86.2 220.8 L86.7 220.7 L87.2 220.6 L87.7 220.5 L88.2 220.3 L88.7 220.1 L89.2 219.9 L89.7 219.6 L90.1 219.3 L90.6 218.9 L91.1 218.5 L91.6 218.1 L92.1 217.7 L92.6 217.2 L93.1 216.7 L93.6 216.2 L94.1 215.6 L94.6 215.1 L95 214.5 L95.5 213.9 L96 213.3 L96.5 212.7 L97 212.1 L97.5 211.4 L98 210.8 L98.5 210.2 L99 209.6 L99.5 208.9 L100 208.3 L100.4 207.7 L100.9 207.1 L101.4 206.5 L101.9 206 L102.4 205.4 L102.9 204.9 L103.4 204.4 L103.9 203.9 L104.4 203.5 L104.9 203.1 L105.3 202.7 L105.8 202.3 L106.3 202 L106.8 201.7 L107.3 201.4 L107.8 201.2 L108.3 201 L108.8 200.9 L109.3 200.8 L109.8 200.7 L110.2 200.7 L110.7 200.7 L111.2 200.7 L111.7 200.8 L112.2 201 L112.7 201.1 L113.2 201.3 L113.7 201.6 L114.2 201.8 L114.7 202.2 L115.1 202.5 L115.6 202.9 L116.1 203.3 L116.6 203.7 L117.1 204.2 L117.6 204.7 L118.1 205.2 L118.6 205.7 L119.1 206.3 L119.6 206.9 L120.1 207.4 L120.5 208 L121 208.7 L121.5 209.3 L122 209.9 L122.5 210.5 L123 211.2 L123.5 211.8 L124 212.4 L124.5 213 L125 213.6 L125.4 214.2 L125.9 214.8 L126.4 215.4 L126.9 215.9 L127.4 216.5 L127.9 217 L128.4 217.5 L128.9 217.9 L129.4 218.3 L129.9 218.7 L130.3 219.1 L130.8 219.4 L131.3 219.7 L131.8 220 L132.3 220.2 L132.8 220.4 L133.3 220.6 L133.8 220.7 L134.3 220.8 L134.8 220.8 L135.3 220.8 L135.7 220.8 L136.2 220.7 L136.7 220.6 L137.2 220.4 L137.7 220.2 L138.2 220 L138.7 219.7 L139.2 219.4 L139.7 219.1 L140.2 218.7 L140.6 218.3 L141.1 217.9 L141.6 217.4 L142.1 216.9 L142.6 216.4 L143.1 215.9 L143.6 215.4 L144.1 214.8 L144.6 214.2 L145.1 213.6 L145.5 213 L146 212.4 L146.5 211.8 L147 211.1 L147.5 210.5 L148 209.9 L148.5 209.2 L149 208.6 L149.5 208 L150 207.4 L150.5 206.8 L150.9 206.3 L151.4 205.7 L151.9 205.2 L152.4 204.7 L152.9 204.2 L153.4 203.7 L153.9 203.3 L154.4 202.9 L154.9 202.5 L155.4 202.1 L155.8 201.8 L156.3 201.6 L156.8 201.3 L157.3 201.1 L157.8 201 L158.3 200.8 L158.8 200.7 L159.3 200.7 L159.8 200.7 L160.3 200.7 L160.7 200.8 L161.2 200.9 L161.7 201 L162.2 201.2 L162.7 201.4 L163.2 201.7 L163.7 202 L164.2 202.3 L164.7 202.7 L165.2 203.1 L165.7 203.5 L166.1 203.9 L166.6 204.4 L167.1 204.9 L167.6 205.5 L168.1 206 L168.6 206.6 L169.1 207.1 L169.6 207.7 L170.1 208.3 L170.6 209 L171 209.6 L171.5 210.2 L172 210.8 L172.5 211.5 L173 212.1 L173.5 212.7 L174 213.3 L174.5 213.9 L175 214.5 L175.5 215.1 L175.9 215.7 L176.4 216.2 L176.9 216.7 L177.4 217.2 L177.9 217.7 L178.4 218.1" stroke="#5a5aff" stroke-width="0.8" fill="none" stroke-dasharray="3 0.9"/>
<g fill="none" stroke="#ff5050" stroke-width="0.5"><circle cx="23.1" cy="215.3" r="1.1"/><circle cx="23.1" cy="206.2" r="1.1"/><circle cx="29.1" cy="190.5" r="1.1"/><circle cx="29.1" cy="231" r="1.1"/><circle cx="35.2" cy="177.3" r="1.1"/><circle cx="35.2" cy="244.2" r="1.1"/><circle cx="41.3" cy="183.2" r="1.1"/><circle cx="41.3" cy="238.3" r="1.1"/><circle cx="47.4" cy="204.9" r="1.1"/><circle cx="47.4" cy="216.6" r="1.1"/><circle cx="53.5" cy="229.9" r="1.1"/><circle cx="53.5" cy="191.6" r="1.1"/><circle cx="59.5" cy="244" r="1.1"/><circle cx="59.5" cy="177.5" r="1.1"/><circle cx="65.6" cy="239.1" r="1.1"/><circle cx="65.6" cy="182.4" r="1.1"/><circle cx="71.7" cy="218" r="1.1"/><circle cx="71.7" cy="203.5" r="1.1"/><circle cx="77.8" cy="192.8" r="1.1"/><circle cx="77.8" cy="228.7" r="1.1"/><circle cx="83.9" cy="177.8" r="1.1"/><circle cx="83.9" cy="243.7" r="1.1"/><circle cx="89.9" cy="181.7" r="1.1"/><circle cx="89.9" cy="239.8" r="1.1"/><circle cx="96" cy="202.2" r="1.1"/><circle cx="96" cy="219.3" r="1.1"/><circle cx="102.1" cy="227.5" r="1.1"/><circle cx="102.1" cy="194" r="1.1"/><circle cx="108.2" cy="243.3" r="1.1"/><circle cx="108.2" cy="178.2" r="1.1"/><circle cx="114.3" cy="240.5" r="1.1"/><circle cx="114.3" cy="181" r="1.1"/><circle cx="120.3" cy="220.7" r="1.1"/><circle cx="120.3" cy="200.8" r="1.1"/><circle cx="126.4" cy="195.2" r="1.1"/><circle cx="126.4" cy="226.3" r="1.1"/><circle cx="132.5" cy="178.6" r="1.1"/><circle cx="132.5" cy="242.9" r="1.1"/><circle cx="138.6" cy="180.4" r="1.1"/><circle cx="138.6" cy="241.1" r="1.1"/><circle cx="144.7" cy="199.5" r="1.1"/><circle cx="144.7" cy="222" r="1.1"/><circle cx="150.7" cy="225.1" r="1.1"/><circle cx="150.7" cy="196.4" r="1.1"/><circle cx="156.8" cy="242.5" r="1.1"/><circle cx="156.8" cy="179" r="1.1"/><circle cx="162.9" cy="241.7" r="1.1"/><circle cx="162.9" cy="179.8" r="1.1"/><circle cx="169" cy="223.3" r="1.1"/><circle cx="169" cy="198.2" r="1.1"/><circle cx="175.1" cy="197.7" r="1.1"/><circle cx="175.1" cy="223.8" r="1.1"/><circle cx="181.1" cy="179.6" r="1.1"/><circle cx="181.1" cy="241.9" r="1.1"/></g>
<path d="M25 208.4 l1.1 1.9 h-2.2 z M25 210.7 l1.1 1.9 h-2.2 z M31.1 201.7 l1.1 1.9 h-2.2 z M31.1 217.4 l1.1 1.9 h-2.2 z M37.2 199.5 l1.1 1.9 h-2.2 z M37.2 219.6 l1.1 1.9 h-2.2 z M43.3 203.1 l1.1 1.9 h-2.2 z M43.3 216 l1.1 1.9 h-2.2 z M49.3 210.3 l1.1 1.9 h-2.2 z M49.3 208.8 l1.1 1.9 h-2.2 z M55.4 217.1 l1.1 1.9 h-2.2 z M55.4 202 l1.1 1.9 h-2.2 z M61.5 219.6 l1.1 1.9 h-2.2 z M61.5 199.5 l1.1 1.9 h-2.2 z M67.6 216.3 l1.1 1.9 h-2.2 z M67.6 202.8 l1.1 1.9 h-2.2 z M73.7 209.2 l1.1 1.9 h-2.2 z M73.7 209.9 l1.1 1.9 h-2.2 z M79.7 202.3 l1.1 1.9 h-2.2 z M79.7 216.8 l1.1 1.9 h-2.2 z M85.8 199.5 l1.1 1.9 h-2.2 z M85.8 219.6 l1.1 1.9 h-2.2 z M91.9 202.5 l1.1 1.9 h-2.2 z M91.9 216.6 l1.1 1.9 h-2.2 z M98 209.5 l1.1 1.9 h-2.2 z M98 209.6 l1.1 1.9 h-2.2 z M104.1 216.6 l1.1 1.9 h-2.2 z M104.1 202.5 l1.1 1.9 h-2.2 z M110.1 219.6 l1.1 1.9 h-2.2 z M110.1 199.5 l1.1 1.9 h-2.2 z M116.2 216.9 l1.1 1.9 h-2.2 z M116.2 202.2 l1.1 1.9 h-2.2 z M122.3 210 l1.1 1.9 h-2.2 z M122.3 209.1 l1.1 1.9 h-2.2 z M128.4 202.8 l1.1 1.9 h-2.2 z M128.4 216.3 l1.1 1.9 h-2.2 z M134.5 199.5 l1.1 1.9 h-2.2 z M134.5 219.6 l1.1 1.9 h-2.2 z M140.5 201.9 l1.1 1.9 h-2.2 z M140.5 217.2 l1.1 1.9 h-2.2 z M146.6 208.7 l1.1 1.9 h-2.2 z M146.6 210.4 l1.1 1.9 h-2.2 z M152.7 215.9 l1.1 1.9 h-2.2 z M152.7 203.2 l1.1 1.9 h-2.2 z M158.8 219.6 l1.1 1.9 h-2.2 z M158.8 199.5 l1.1 1.9 h-2.2 z M164.9 217.5 l1.1 1.9 h-2.2 z M164.9 201.6 l1.1 1.9 h-2.2 z M170.9 210.8 l1.1 1.9 h-2.2 z M170.9 208.3 l1.1 1.9 h-2.2 z M177 203.5 l1.1 1.9 h-2.2 z M177 215.6 l1.1 1.9 h-2.2 z M183.1 199.6 l1.1 1.9 h-2.2 z M183.1 219.5 l1.1 1.9 h-2.2 z" fill="none" stroke="#4a4aff" stroke-width="0.5"/>
</g>
<rect x="136.2" y="153.5" width="38.4" height="60.8" fill="#fff" stroke="#bbb" stroke-width="0.6"/>
<path d="M137.8 158.4 H147" stroke="#ff5050" stroke-width="0.7" stroke-dasharray="2.4 0.8"/>
<circle cx="142.9" cy="158.4" r="1.45" fill="#fff" stroke="#ff5050" stroke-width="0.6"/>
<text x="149.7" y="160.4" class="lg2" textLength="21.2" lengthAdjust="spacingAndGlyphs">Current 1</text>
<path d="M137.8 165.8 H147" stroke="#ff5050" stroke-width="0.7" stroke-dasharray="2.4 0.8"/>
<circle cx="142.9" cy="165.8" r="1.45" fill="#fff" stroke="#ff5050" stroke-width="0.6"/>
<text x="149.7" y="167.8" class="lg2" textLength="21.2" lengthAdjust="spacingAndGlyphs">Current 2</text>
<path d="M137.8 173.3 H147" stroke="#ff5050" stroke-width="0.7" stroke-dasharray="2.4 0.8"/>
<circle cx="142.9" cy="173.3" r="1.45" fill="#fff" stroke="#ff5050" stroke-width="0.6"/>
<text x="149.7" y="175.3" class="lg2" textLength="21.2" lengthAdjust="spacingAndGlyphs">Current 3</text>
<path d="M137.8 180.8 H147" stroke="#ff5050" stroke-width="0.7" stroke-dasharray="2.4 0.8"/>
<circle cx="142.9" cy="180.8" r="1.45" fill="#fff" stroke="#ff5050" stroke-width="0.6"/>
<text x="149.7" y="182.8" class="lg2" textLength="21.2" lengthAdjust="spacingAndGlyphs">Current 4</text>
<path d="M137.8 188.2 H147" stroke="#5050ff" stroke-width="0.7" stroke-dasharray="2.4 0.8"/>
<path d="M142.9 186.7 l1.5 2.5 h-3 z" fill="#fff" stroke="#5050ff" stroke-width="0.6"/>
<text x="149.7" y="190.2" class="lg2" textLength="21.2" lengthAdjust="spacingAndGlyphs">Current 5</text>
<path d="M137.8 195.7 H147" stroke="#5050ff" stroke-width="0.7" stroke-dasharray="2.4 0.8"/>
<path d="M142.9 194.2 l1.5 2.5 h-3 z" fill="#fff" stroke="#5050ff" stroke-width="0.6"/>
<text x="149.7" y="197.7" class="lg2" textLength="21.2" lengthAdjust="spacingAndGlyphs">Current 6</text>
<path d="M137.8 203.1 H147" stroke="#5050ff" stroke-width="0.7" stroke-dasharray="2.4 0.8"/>
<path d="M142.9 204.6 l1.5 -2.5 h-3 z" fill="#fff" stroke="#5050ff" stroke-width="0.6"/>
<text x="149.7" y="205.1" class="lg2" textLength="21.2" lengthAdjust="spacingAndGlyphs">Current 7</text>
<path d="M137.8 210.6 H147" stroke="#5050ff" stroke-width="0.7" stroke-dasharray="2.4 0.8"/>
<path d="M142.9 212.1 l1.5 -2.5 h-3 z" fill="#fff" stroke="#5050ff" stroke-width="0.6"/>
<text x="149.7" y="212.6" class="lg2" textLength="21.2" lengthAdjust="spacingAndGlyphs">Current 8</text>
<rect x="40.4" y="255.8" width="117.3" height="13.2" fill="#fff" stroke="#3a3a3a" stroke-width="1.1"/>
<text x="99" y="265.1" text-anchor="middle" class="bx" textLength="99.3" lengthAdjust="spacingAndGlyphs">Upper-bound of Bandwidth : 3 Hz</text>
<rect x="205.1" y="5.3" width="156.9" height="122.7" fill="none" stroke="#a6a6a6" stroke-width="0.8"/>
<path d="M205.1 128 v-1.7 M205.1 5.3 v1.7 M220.8 128 v-1.7 M220.8 5.3 v1.7 M236.5 128 v-1.7 M236.5 5.3 v1.7 M252.2 128 v-1.7 M252.2 5.3 v1.7 M267.9 128 v-1.7 M267.9 5.3 v1.7 M283.6 128 v-1.7 M283.6 5.3 v1.7 M299.2 128 v-1.7 M299.2 5.3 v1.7 M314.9 128 v-1.7 M314.9 5.3 v1.7 M330.6 128 v-1.7 M330.6 5.3 v1.7 M346.3 128 v-1.7 M346.3 5.3 v1.7 M362 128 v-1.7 M362 5.3 v1.7 M205.1 128 h1.7 M362 128 h-1.7 M205.1 107.5 h1.7 M362 107.5 h-1.7 M205.1 87.1 h1.7 M362 87.1 h-1.7 M205.1 66.7 h1.7 M362 66.7 h-1.7 M205.1 46.2 h1.7 M362 46.2 h-1.7 M205.1 25.8 h1.7 M362 25.8 h-1.7 M205.1 5.3 h1.7 M362 5.3 h-1.7" stroke="#8c8c8c" stroke-width="0.7" fill="none"/>
<text x="205.1" y="135.3" text-anchor="middle" class="tk">0</text>
<text x="220.8" y="135.3" text-anchor="middle" class="tk">0.2</text>
<text x="236.5" y="135.3" text-anchor="middle" class="tk">0.4</text>
<text x="252.2" y="135.3" text-anchor="middle" class="tk">0.6</text>
<text x="267.9" y="135.3" text-anchor="middle" class="tk">0.8</text>
<text x="283.6" y="135.3" text-anchor="middle" class="tk">1</text>
<text x="299.2" y="135.3" text-anchor="middle" class="tk">1.2</text>
<text x="314.9" y="135.3" text-anchor="middle" class="tk">1.4</text>
<text x="330.6" y="135.3" text-anchor="middle" class="tk">1.6</text>
<text x="346.3" y="135.3" text-anchor="middle" class="tk">1.8</text>
<text x="362" y="135.3" text-anchor="middle" class="tk">2</text>
<text x="202.9" y="130.5" text-anchor="end" class="tk">-1.5</text>
<text x="202.9" y="110" text-anchor="end" class="tk">-1</text>
<text x="202.9" y="89.6" text-anchor="end" class="tk">-0.5</text>
<text x="202.9" y="69.2" text-anchor="end" class="tk">0</text>
<text x="202.9" y="48.7" text-anchor="end" class="tk">0.5</text>
<text x="202.9" y="28.2" text-anchor="end" class="tk">1</text>
<text x="202.9" y="7.8" text-anchor="end" class="tk">1.5</text>
<text x="283.8" y="144.1" text-anchor="middle" class="lab" textLength="27.8" lengthAdjust="spacingAndGlyphs">Time&#160;&#160;(s)</text>
<text transform="translate(191.9 66.7) rotate(-90)" text-anchor="middle" class="lab" textLength="25.3" lengthAdjust="spacingAndGlyphs">X&#160;&#160;(mm)</text>
<g clip-path="url(#ct1)">
<path d="M205.1 66.7 L205.3 64.1 L205.6 61.6 L205.8 59.1 L206.1 56.6 L206.3 54.3 L206.6 52 L206.8 49.8 L207.1 47.7 L207.3 45.7 L207.6 43.9 L207.8 42.2 L208 40.7 L208.3 39.4 L208.5 38.2 L208.8 37.2 L209 36.5 L209.3 35.9 L209.5 35.5 L209.8 35.4 L210 35.6 L210.2 36.5 L210.5 38.2 L210.7 40.6 L211 43.6 L211.2 47.2 L211.5 51.2 L211.7 55.7 L212 60.4 L212.2 65.3 L212.5 70.2 L212.7 75 L212.9 79.6 L213.2 83.9 L213.4 87.8 L213.7 91.1 L213.9 93.9 L214.2 96 L214.4 97.3 L214.7 97.9 L214.9 97.7 L215.2 96.8 L215.4 95.1 L215.6 92.7 L215.9 89.7 L216.1 86.1 L216.4 82.1 L216.6 77.6 L216.9 72.9 L217.1 68 L217.4 63.1 L217.6 58.3 L217.8 53.7 L218.1 49.4 L218.3 45.5 L218.6 42.2 L218.8 39.4 L219.1 37.3 L219.3 36 L219.6 35.4 L219.8 35.6 L220.1 36.5 L220.3 38.2 L220.5 40.6 L220.8 43.6 L221 47.2 L221.3 51.2 L221.5 55.7 L221.8 60.4 L222 65.3 L222.3 70.2 L222.5 75 L222.8 79.6 L223 83.9 L223.2 87.8 L223.5 91.1 L223.7 93.9 L224 96 L224.2 97.3 L224.5 97.9 L224.7 97.7 L225 96.8 L225.2 95.1 L225.4 92.7 L225.7 89.7 L225.9 86.1 L226.2 82.1 L226.4 77.6 L226.7 72.9 L226.9 68 L227.2 63.1 L227.4 58.3 L227.7 53.7 L227.9 49.4 L228.1 45.5 L228.4 42.2 L228.6 39.4 L228.9 37.3 L229.1 36 L229.4 35.4 L229.6 35.6 L229.9 36.5 L230.1 38.2 L230.4 40.6 L230.6 43.6 L230.8 47.2 L231.1 51.2 L231.3 55.7 L231.6 60.4 L231.8 65.3 L232.1 70.2 L232.3 75 L232.6 79.6 L232.8 83.9 L233 87.8 L233.3 91.1 L233.5 93.9 L233.8 96 L234 97.3 L234.3 97.9 L234.5 97.7 L234.8 96.8 L235 95.1 L235.3 92.7 L235.5 89.7 L235.7 86.1 L236 82.1 L236.2 77.6 L236.5 72.9 L236.7 68 L237 63.1 L237.2 58.3 L237.5 53.7 L237.7 49.4 L238 45.5 L238.2 42.2 L238.4 39.4 L238.7 37.3 L238.9 36 L239.2 35.4 L239.4 35.6 L239.7 36.5 L239.9 38.2 L240.2 40.6 L240.4 43.6 L240.6 47.2 L240.9 51.2 L241.1 55.7 L241.4 60.4 L241.6 65.3 L241.9 70.2 L242.1 75 L242.4 79.6 L242.6 83.9 L242.9 87.8 L243.1 91.1 L243.3 93.9 L243.6 96 L243.8 97.3 L244.1 97.9 L244.3 97.7 L244.6 96.8 L244.8 95.1 L245.1 92.7 L245.3 89.7 L245.6 86.1 L245.8 82.1 L246 77.6 L246.3 72.9 L246.5 68 L246.8 63.1 L247 58.3 L247.3 53.7 L247.5 49.4 L247.8 45.5 L248 42.2 L248.2 39.4 L248.5 37.3 L248.7 36 L249 35.4 L249.2 35.6 L249.5 36.5 L249.7 38.2 L250 40.6 L250.2 43.6 L250.5 47.2 L250.7 51.2 L250.9 55.7 L251.2 60.4 L251.4 65.3 L251.7 70.2 L251.9 75 L252.2 79.6 L252.4 83.9 L252.7 87.8 L252.9 91.1 L253.2 93.9 L253.4 96 L253.6 97.3 L253.9 97.9 L254.1 97.7 L254.4 96.8 L254.6 95.1 L254.9 92.7 L255.1 89.7 L255.4 86.1 L255.6 82.1 L255.8 77.6 L256.1 72.9 L256.3 68 L256.6 63.1 L256.8 58.3 L257.1 53.7 L257.3 49.4 L257.6 45.5 L257.8 42.2 L258.1 39.4 L258.3 37.3 L258.5 36 L258.8 35.4 L259 35.6 L259.3 36.5 L259.5 38.2 L259.8 40.6 L260 43.6 L260.3 47.2 L260.5 51.2 L260.8 55.7 L261 60.4 L261.2 65.3 L261.5 70.2 L261.7 75 L262 79.6 L262.2 83.9 L262.5 87.8 L262.7 91.1 L263 93.9 L263.2 96 L263.4 97.3 L263.7 97.9 L263.9 97.7 L264.2 96.8 L264.4 95.1 L264.7 92.7 L264.9 89.7 L265.2 86.1 L265.4 82.1 L265.7 77.6 L265.9 72.9 L266.1 68 L266.4 63.1 L266.6 58.3 L266.9 53.7 L267.1 49.4 L267.4 45.5 L267.6 42.2 L267.9 39.4 L268.1 37.3 L268.4 36 L268.6 35.4 L268.8 35.6 L269.1 36.5 L269.3 38.2 L269.6 40.6 L269.8 43.6 L270.1 47.2 L270.3 51.2 L270.6 55.7 L270.8 60.4 L271 65.3 L271.3 70.2 L271.5 75 L271.8 79.6 L272 83.9 L272.3 87.8 L272.5 91.1 L272.8 93.9 L273 96 L273.3 97.3 L273.5 97.9 L273.7 97.7 L274 96.8 L274.2 95.1 L274.5 92.7 L274.7 89.7 L275 86.1 L275.2 82.1 L275.5 77.6 L275.7 72.9 L276 68 L276.2 63.1 L276.4 58.3 L276.7 53.7 L276.9 49.4 L277.2 45.5 L277.4 42.2 L277.7 39.4 L277.9 37.3 L278.2 36 L278.4 35.4 L278.6 35.6 L278.9 36.5 L279.1 38.2 L279.4 40.6 L279.6 43.6 L279.9 47.2 L280.1 51.2 L280.4 55.7 L280.6 60.4 L280.9 65.3 L281.1 70.2 L281.3 75 L281.6 79.6 L281.8 83.9 L282.1 87.8 L282.3 91.1 L282.6 93.9 L282.8 96 L283.1 97.3 L283.3 97.9 L283.6 97.7 L283.8 96.8 L284 95.1 L284.3 92.7 L284.5 89.7 L284.8 86.1 L285 82.1 L285.3 77.6 L285.5 72.9 L285.8 68 L286 63.1 L286.2 58.3 L286.5 53.7 L286.7 49.4 L287 45.5 L287.2 42.2 L287.5 39.4 L287.7 37.3 L288 36 L288.2 35.4 L288.5 35.6 L288.7 36.5 L288.9 38.2 L289.2 40.6 L289.4 43.6 L289.7 47.2 L289.9 51.2 L290.2 55.7 L290.4 60.4 L290.7 65.3 L290.9 70.2 L291.1 75 L291.4 79.6 L291.6 83.9 L291.9 87.8 L292.1 91.1 L292.4 93.9 L292.6 96 L292.9 97.3 L293.1 97.9 L293.4 97.7 L293.6 96.8 L293.8 95.1 L294.1 92.7 L294.3 89.7 L294.6 86.1 L294.8 82.1 L295.1 77.6 L295.3 72.9 L295.6 68 L295.8 63.1 L296.1 58.3 L296.3 53.7 L296.5 49.4 L296.8 45.5 L297 42.2 L297.3 39.4 L297.5 37.3 L297.8 36 L298 35.4 L298.3 35.6 L298.5 36.5 L298.7 38.2 L299 40.6 L299.2 43.6 L299.5 47.2 L299.7 51.2 L300 55.7 L300.2 60.4 L300.5 65.3 L300.7 70.2 L301 75 L301.2 79.6 L301.4 83.9 L301.7 87.8 L301.9 91.1 L302.2 93.9 L302.4 96 L302.7 97.3 L302.9 97.9 L303.2 97.7 L303.4 96.8 L303.7 95.1 L303.9 92.7 L304.1 89.7 L304.4 86.1 L304.6 82.1 L304.9 77.6 L305.1 72.9 L305.4 68 L305.6 63.1 L305.9 58.3 L306.1 53.7 L306.3 49.4 L306.6 45.5 L306.8 42.2 L307.1 39.4 L307.3 37.3 L307.6 36 L307.8 35.4 L308.1 35.6 L308.3 36.5 L308.6 38.2 L308.8 40.6 L309 43.6 L309.3 47.2 L309.5 51.2 L309.8 55.7 L310 60.4 L310.3 65.3 L310.5 70.2 L310.8 75 L311 79.6 L311.3 83.9 L311.5 87.8 L311.7 91.1 L312 93.9 L312.2 96 L312.5 97.3 L312.7 97.9 L313 97.7 L313.2 96.8 L313.5 95.1 L313.7 92.7 L313.9 89.7 L314.2 86.1 L314.4 82.1 L314.7 77.6 L314.9 72.9 L315.2 68 L315.4 63.1 L315.7 58.3 L315.9 53.7 L316.2 49.4 L316.4 45.5 L316.6 42.2 L316.9 39.4 L317.1 37.3 L317.4 36 L317.6 35.4 L317.9 35.6 L318.1 36.5 L318.4 38.2 L318.6 40.6 L318.9 43.6 L319.1 47.2 L319.3 51.2 L319.6 55.7 L319.8 60.4 L320.1 65.3 L320.3 70.2 L320.6 75 L320.8 79.6 L321.1 83.9 L321.3 87.8 L321.5 91.1 L321.8 93.9 L322 96 L322.3 97.3 L322.5 97.9 L322.8 97.7 L323 96.8 L323.3 95.1 L323.5 92.7 L323.8 89.7 L324 86.1 L324.2 82.1 L324.5 77.6 L324.7 72.9 L325 68 L325.2 63.1 L325.5 58.3 L325.7 53.7 L326 49.4 L326.2 45.5 L326.5 42.2 L326.7 39.4 L326.9 37.3 L327.2 36 L327.4 35.4 L327.7 35.6 L327.9 36.5 L328.2 38.2 L328.4 40.6 L328.7 43.6 L328.9 47.2 L329.1 51.2 L329.4 55.7 L329.6 60.4 L329.9 65.3 L330.1 70.2 L330.4 75 L330.6 79.6 L330.9 83.9 L331.1 87.8 L331.4 91.1 L331.6 93.9 L331.8 96 L332.1 97.3 L332.3 97.9 L332.6 97.7 L332.8 96.8 L333.1 95.1 L333.3 92.7 L333.6 89.7 L333.8 86.1 L334.1 82.1 L334.3 77.6 L334.5 72.9 L334.8 68 L335 63.1 L335.3 58.3 L335.5 53.7 L335.8 49.4 L336 45.5 L336.3 42.2 L336.5 39.4 L336.7 37.3 L337 36 L337.2 35.4 L337.5 35.6 L337.7 36.5 L338 38.2 L338.2 40.6 L338.5 43.6 L338.7 47.2 L339 51.2 L339.2 55.7 L339.4 60.4 L339.7 65.3 L339.9 70.2 L340.2 75 L340.4 79.6 L340.7 83.9 L340.9 87.8 L341.2 91.1 L341.4 93.9 L341.7 96 L341.9 97.3 L342.1 97.9 L342.4 97.7 L342.6 96.8 L342.9 95.1 L343.1 92.7 L343.4 89.7 L343.6 86.1 L343.9 82.1 L344.1 77.6 L344.3 72.9 L344.6 68 L344.8 63.1 L345.1 58.3 L345.3 53.7 L345.6 49.4 L345.8 45.5 L346.1 42.2 L346.3 39.4 L346.6 37.3 L346.8 36 L347 35.4 L347.3 35.6 L347.5 36.5 L347.8 38.2 L348 40.6 L348.3 43.6 L348.5 47.2 L348.8 51.2 L349 55.7 L349.3 60.4 L349.5 65.3 L349.7 70.2 L350 75 L350.2 79.6 L350.5 83.9 L350.7 87.8 L351 91.1 L351.2 93.9 L351.5 96 L351.7 97.3 L351.9 97.9 L352.2 97.7 L352.4 96.8 L352.7 95.1 L352.9 92.7 L353.2 89.7 L353.4 86.1 L353.7 82.1 L353.9 77.6 L354.2 72.9 L354.4 68 L354.6 63.1 L354.9 58.3 L355.1 53.7 L355.4 49.4 L355.6 45.5 L355.9 42.2 L356.1 39.4 L356.4 37.3 L356.6 36 L356.9 35.4 L357.1 35.6 L357.3 36.5 L357.6 38.2 L357.8 40.6 L358.1 43.6 L358.3 47.2 L358.6 51.2 L358.8 55.7 L359.1 60.4 L359.3 65.3 L359.5 70.2 L359.8 75 L360 79.6 L360.3 83.9 L360.5 87.8 L360.8 91.1 L361 93.9 L361.3 96 L361.5 97.3 L361.8 97.9 L362 97.7" stroke="#00ee00" stroke-width="1.8" fill="none" stroke-linejoin="round"/>
<path d="M205.1 66.7 L205.3 65.1 L205.6 63.5 L205.8 62 L206.1 60.5 L206.3 59 L206.6 57.5 L206.8 56.1 L207.1 54.7 L207.3 53.4 L207.6 52.1 L207.8 50.9 L208 49.7 L208.3 48.6 L208.5 47.6 L208.8 46.6 L209 45.8 L209.3 45 L209.5 44.3 L209.8 43.7 L210 43.2 L210.2 42.8 L210.5 42.5 L210.7 42.3 L211 42.1 L211.2 42.1 L211.5 42.6 L211.7 43.7 L212 45.3 L212.2 47.5 L212.5 50.1 L212.7 53.1 L212.9 56.5 L213.2 60.1 L213.4 63.9 L213.7 67.7 L213.9 71.5 L214.2 75.1 L214.4 78.5 L214.7 81.7 L214.9 84.4 L215.2 86.8 L215.4 88.6 L215.6 89.9 L215.9 90.6 L216.1 90.8 L216.4 90.3 L216.6 89.2 L216.9 87.6 L217.1 85.5 L217.4 82.9 L217.6 80 L217.8 76.6 L218.1 73.1 L218.3 69.4 L218.6 65.6 L218.8 61.7 L219.1 58 L219.3 54.6 L219.6 51.4 L219.8 48.6 L220.1 46.2 L220.3 44.3 L220.5 43 L220.8 42.3 L221 42.1 L221.3 42.6 L221.5 43.7 L221.8 45.3 L222 47.5 L222.3 50.1 L222.5 53.1 L222.8 56.5 L223 60.1 L223.2 63.9 L223.5 67.7 L223.7 71.5 L224 75.1 L224.2 78.5 L224.5 81.7 L224.7 84.4 L225 86.8 L225.2 88.6 L225.4 89.9 L225.7 90.6 L225.9 90.8 L226.2 90.3 L226.4 89.2 L226.7 87.6 L226.9 85.5 L227.2 82.9 L227.4 80 L227.7 76.6 L227.9 73.1 L228.1 69.4 L228.4 65.6 L228.6 61.7 L228.9 58 L229.1 54.6 L229.4 51.4 L229.6 48.6 L229.9 46.2 L230.1 44.3 L230.4 43 L230.6 42.3 L230.8 42.1 L231.1 42.6 L231.3 43.7 L231.6 45.3 L231.8 47.5 L232.1 50.1 L232.3 53.1 L232.6 56.5 L232.8 60.1 L233 63.9 L233.3 67.7 L233.5 71.5 L233.8 75.1 L234 78.5 L234.3 81.7 L234.5 84.4 L234.8 86.8 L235 88.6 L235.3 89.9 L235.5 90.6 L235.7 90.8 L236 90.3 L236.2 89.2 L236.5 87.6 L236.7 85.5 L237 82.9 L237.2 80 L237.5 76.6 L237.7 73.1 L238 69.4 L238.2 65.6 L238.4 61.7 L238.7 58 L238.9 54.6 L239.2 51.4 L239.4 48.6 L239.7 46.2 L239.9 44.3 L240.2 43 L240.4 42.3 L240.6 42.1 L240.9 42.6 L241.1 43.7 L241.4 45.3 L241.6 47.5 L241.9 50.1 L242.1 53.1 L242.4 56.5 L242.6 60.1 L242.9 63.9 L243.1 67.7 L243.3 71.5 L243.6 75.1 L243.8 78.5 L244.1 81.7 L244.3 84.4 L244.6 86.8 L244.8 88.6 L245.1 89.9 L245.3 90.6 L245.6 90.8 L245.8 90.3 L246 89.2 L246.3 87.6 L246.5 85.5 L246.8 82.9 L247 80 L247.3 76.6 L247.5 73.1 L247.8 69.4 L248 65.6 L248.2 61.7 L248.5 58 L248.7 54.6 L249 51.4 L249.2 48.6 L249.5 46.2 L249.7 44.3 L250 43 L250.2 42.3 L250.5 42.1 L250.7 42.6 L250.9 43.7 L251.2 45.3 L251.4 47.5 L251.7 50.1 L251.9 53.1 L252.2 56.5 L252.4 60.1 L252.7 63.9 L252.9 67.7 L253.2 71.5 L253.4 75.1 L253.6 78.5 L253.9 81.7 L254.1 84.4 L254.4 86.8 L254.6 88.6 L254.9 89.9 L255.1 90.6 L255.4 90.8 L255.6 90.3 L255.8 89.2 L256.1 87.6 L256.3 85.5 L256.6 82.9 L256.8 80 L257.1 76.6 L257.3 73.1 L257.6 69.4 L257.8 65.6 L258.1 61.7 L258.3 58 L258.5 54.6 L258.8 51.4 L259 48.6 L259.3 46.2 L259.5 44.3 L259.8 43 L260 42.3 L260.3 42.1 L260.5 42.6 L260.8 43.7 L261 45.3 L261.2 47.5 L261.5 50.1 L261.7 53.1 L262 56.5 L262.2 60.1 L262.5 63.9 L262.7 67.7 L263 71.5 L263.2 75.1 L263.4 78.5 L263.7 81.7 L263.9 84.4 L264.2 86.8 L264.4 88.6 L264.7 89.9 L264.9 90.6 L265.2 90.8 L265.4 90.3 L265.7 89.2 L265.9 87.6 L266.1 85.5 L266.4 82.9 L266.6 80 L266.9 76.6 L267.1 73.1 L267.4 69.4 L267.6 65.6 L267.9 61.7 L268.1 58 L268.4 54.6 L268.6 51.4 L268.8 48.6 L269.1 46.2 L269.3 44.3 L269.6 43 L269.8 42.3 L270.1 42.1 L270.3 42.6 L270.6 43.7 L270.8 45.3 L271 47.5 L271.3 50.1 L271.5 53.1 L271.8 56.5 L272 60.1 L272.3 63.9 L272.5 67.7 L272.8 71.5 L273 75.1 L273.3 78.5 L273.5 81.7 L273.7 84.4 L274 86.8 L274.2 88.6 L274.5 89.9 L274.7 90.6 L275 90.8 L275.2 90.3 L275.5 89.2 L275.7 87.6 L276 85.5 L276.2 82.9 L276.4 80 L276.7 76.6 L276.9 73.1 L277.2 69.4 L277.4 65.6 L277.7 61.7 L277.9 58 L278.2 54.6 L278.4 51.4 L278.6 48.6 L278.9 46.2 L279.1 44.3 L279.4 43 L279.6 42.3 L279.9 42.1 L280.1 42.6 L280.4 43.7 L280.6 45.3 L280.9 47.5 L281.1 50.1 L281.3 53.1 L281.6 56.5 L281.8 60.1 L282.1 63.9 L282.3 67.7 L282.6 71.5 L282.8 75.1 L283.1 78.5 L283.3 81.7 L283.6 84.4 L283.8 86.8 L284 88.6 L284.3 89.9 L284.5 90.6 L284.8 90.8 L285 90.3 L285.3 89.2 L285.5 87.6 L285.8 85.5 L286 82.9 L286.2 80 L286.5 76.6 L286.7 73.1 L287 69.4 L287.2 65.6 L287.5 61.7 L287.7 58 L288 54.6 L288.2 51.4 L288.5 48.6 L288.7 46.2 L288.9 44.3 L289.2 43 L289.4 42.3 L289.7 42.1 L289.9 42.6 L290.2 43.7 L290.4 45.3 L290.7 47.5 L290.9 50.1 L291.1 53.1 L291.4 56.5 L291.6 60.1 L291.9 63.9 L292.1 67.7 L292.4 71.5 L292.6 75.1 L292.9 78.5 L293.1 81.7 L293.4 84.4 L293.6 86.8 L293.8 88.6 L294.1 89.9 L294.3 90.6 L294.6 90.8 L294.8 90.3 L295.1 89.2 L295.3 87.6 L295.6 85.5 L295.8 82.9 L296.1 80 L296.3 76.6 L296.5 73.1 L296.8 69.4 L297 65.6 L297.3 61.7 L297.5 58 L297.8 54.6 L298 51.4 L298.3 48.6 L298.5 46.2 L298.7 44.3 L299 43 L299.2 42.3 L299.5 42.1 L299.7 42.6 L300 43.7 L300.2 45.3 L300.5 47.5 L300.7 50.1 L301 53.1 L301.2 56.5 L301.4 60.1 L301.7 63.9 L301.9 67.7 L302.2 71.5 L302.4 75.1 L302.7 78.5 L302.9 81.7 L303.2 84.4 L303.4 86.8 L303.7 88.6 L303.9 89.9 L304.1 90.6 L304.4 90.8 L304.6 90.3 L304.9 89.2 L305.1 87.6 L305.4 85.5 L305.6 82.9 L305.9 80 L306.1 76.6 L306.3 73.1 L306.6 69.4 L306.8 65.6 L307.1 61.7 L307.3 58 L307.6 54.6 L307.8 51.4 L308.1 48.6 L308.3 46.2 L308.6 44.3 L308.8 43 L309 42.3 L309.3 42.1 L309.5 42.6 L309.8 43.7 L310 45.3 L310.3 47.5 L310.5 50.1 L310.8 53.1 L311 56.5 L311.3 60.1 L311.5 63.9 L311.7 67.7 L312 71.5 L312.2 75.1 L312.5 78.5 L312.7 81.7 L313 84.4 L313.2 86.8 L313.5 88.6 L313.7 89.9 L313.9 90.6 L314.2 90.8 L314.4 90.3 L314.7 89.2 L314.9 87.6 L315.2 85.5 L315.4 82.9 L315.7 80 L315.9 76.6 L316.2 73.1 L316.4 69.4 L316.6 65.6 L316.9 61.7 L317.1 58 L317.4 54.6 L317.6 51.4 L317.9 48.6 L318.1 46.2 L318.4 44.3 L318.6 43 L318.9 42.3 L319.1 42.1 L319.3 42.6 L319.6 43.7 L319.8 45.3 L320.1 47.5 L320.3 50.1 L320.6 53.1 L320.8 56.5 L321.1 60.1 L321.3 63.9 L321.5 67.7 L321.8 71.5 L322 75.1 L322.3 78.5 L322.5 81.7 L322.8 84.4 L323 86.8 L323.3 88.6 L323.5 89.9 L323.8 90.6 L324 90.8 L324.2 90.3 L324.5 89.2 L324.7 87.6 L325 85.5 L325.2 82.9 L325.5 80 L325.7 76.6 L326 73.1 L326.2 69.4 L326.5 65.6 L326.7 61.7 L326.9 58 L327.2 54.6 L327.4 51.4 L327.7 48.6 L327.9 46.2 L328.2 44.3 L328.4 43 L328.7 42.3 L328.9 42.1 L329.1 42.6 L329.4 43.7 L329.6 45.3 L329.9 47.5 L330.1 50.1 L330.4 53.1 L330.6 56.5 L330.9 60.1 L331.1 63.9 L331.4 67.7 L331.6 71.5 L331.8 75.1 L332.1 78.5 L332.3 81.7 L332.6 84.4 L332.8 86.8 L333.1 88.6 L333.3 89.9 L333.6 90.6 L333.8 90.8 L334.1 90.3 L334.3 89.2 L334.5 87.6 L334.8 85.5 L335 82.9 L335.3 80 L335.5 76.6 L335.8 73.1 L336 69.4 L336.3 65.6 L336.5 61.7 L336.7 58 L337 54.6 L337.2 51.4 L337.5 48.6 L337.7 46.2 L338 44.3 L338.2 43 L338.5 42.3 L338.7 42.1 L339 42.6 L339.2 43.7 L339.4 45.3 L339.7 47.5 L339.9 50.1 L340.2 53.1 L340.4 56.5 L340.7 60.1 L340.9 63.9 L341.2 67.7 L341.4 71.5 L341.7 75.1 L341.9 78.5 L342.1 81.7 L342.4 84.4 L342.6 86.8 L342.9 88.6 L343.1 89.9 L343.4 90.6 L343.6 90.8 L343.9 90.3 L344.1 89.2 L344.3 87.6 L344.6 85.5 L344.8 82.9 L345.1 80 L345.3 76.6 L345.6 73.1 L345.8 69.4 L346.1 65.6 L346.3 61.7 L346.6 58 L346.8 54.6 L347 51.4 L347.3 48.6 L347.5 46.2 L347.8 44.3 L348 43 L348.3 42.3 L348.5 42.1 L348.8 42.6 L349 43.7 L349.3 45.3 L349.5 47.5 L349.7 50.1 L350 53.1 L350.2 56.5 L350.5 60.1 L350.7 63.9 L351 67.7 L351.2 71.5 L351.5 75.1 L351.7 78.5 L351.9 81.7 L352.2 84.4 L352.4 86.8 L352.7 88.6 L352.9 89.9 L353.2 90.6 L353.4 90.8 L353.7 90.3 L353.9 89.2 L354.2 87.6 L354.4 85.5 L354.6 82.9 L354.9 80 L355.1 76.6 L355.4 73.1 L355.6 69.4 L355.9 65.6 L356.1 61.7 L356.4 58 L356.6 54.6 L356.9 51.4 L357.1 48.6 L357.3 46.2 L357.6 44.3 L357.8 43 L358.1 42.3 L358.3 42.1 L358.6 42.6 L358.8 43.7 L359.1 45.3 L359.3 47.5 L359.5 50.1 L359.8 53.1 L360 56.5 L360.3 60.1 L360.5 63.9 L360.8 67.7 L361 71.5 L361.3 75.1 L361.5 78.5 L361.8 81.7 L362 84.4" stroke="#4a5aff" stroke-width="0.8" fill="none" stroke-linejoin="round"/>
<circle cx="205.1" cy="66.7" r="1.3" fill="#3040ff"/>
<path d="M205.1 66.7 L205.3 60.3 L205.6 54 L205.8 48.1 L206.1 42.6 L206.3 37.7 L206.6 33.6 L206.8 30.2 L207.1 27.8 L207.3 26.3 L207.6 25.8 L207.8 26.3 L208 27.8 L208.3 30.2 L208.5 33.6 L208.8 37.7 L209 42.6 L209.3 48.1 L209.5 54 L209.8 60.3 L210 66.6 L210.2 73 L210.5 79.3 L210.7 85.2 L211 90.7 L211.2 95.6 L211.5 99.7 L211.7 103.1 L212 105.5 L212.2 107 L212.5 107.5 L212.7 107 L212.9 105.5 L213.2 103.1 L213.4 99.7 L213.7 95.6 L213.9 90.7 L214.2 85.2 L214.4 79.3 L214.7 73 L214.9 66.7 L215.2 60.3 L215.4 54 L215.6 48.1 L215.9 42.6 L216.1 37.7 L216.4 33.6 L216.6 30.2 L216.9 27.8 L217.1 26.3 L217.4 25.8 L217.6 26.3 L217.8 27.8 L218.1 30.2 L218.3 33.6 L218.6 37.7 L218.8 42.6 L219.1 48.1 L219.3 54 L219.6 60.3 L219.8 66.6 L220.1 73 L220.3 79.3 L220.5 85.2 L220.8 90.7 L221 95.6 L221.3 99.7 L221.5 103.1 L221.8 105.5 L222 107 L222.3 107.5 L222.5 107 L222.8 105.5 L223 103.1 L223.2 99.7 L223.5 95.6 L223.7 90.7 L224 85.2 L224.2 79.3 L224.5 73 L224.7 66.7 L225 60.3 L225.2 54 L225.4 48.1 L225.7 42.6 L225.9 37.7 L226.2 33.6 L226.4 30.2 L226.7 27.8 L226.9 26.3 L227.2 25.8 L227.4 26.3 L227.7 27.8 L227.9 30.2 L228.1 33.6 L228.4 37.7 L228.6 42.6 L228.9 48.1 L229.1 54 L229.4 60.3 L229.6 66.6 L229.9 73 L230.1 79.3 L230.4 85.2 L230.6 90.7 L230.8 95.6 L231.1 99.7 L231.3 103.1 L231.6 105.5 L231.8 107 L232.1 107.5 L232.3 107 L232.6 105.5 L232.8 103.1 L233 99.7 L233.3 95.6 L233.5 90.7 L233.8 85.2 L234 79.3 L234.3 73 L234.5 66.7 L234.8 60.3 L235 54 L235.3 48.1 L235.5 42.6 L235.7 37.7 L236 33.6 L236.2 30.2 L236.5 27.8 L236.7 26.3 L237 25.8 L237.2 26.3 L237.5 27.8 L237.7 30.2 L238 33.6 L238.2 37.7 L238.4 42.6 L238.7 48.1 L238.9 54 L239.2 60.3 L239.4 66.6 L239.7 73 L239.9 79.3 L240.2 85.2 L240.4 90.7 L240.6 95.6 L240.9 99.7 L241.1 103.1 L241.4 105.5 L241.6 107 L241.9 107.5 L242.1 107 L242.4 105.5 L242.6 103.1 L242.9 99.7 L243.1 95.6 L243.3 90.7 L243.6 85.2 L243.8 79.3 L244.1 73 L244.3 66.7 L244.6 60.3 L244.8 54 L245.1 48.1 L245.3 42.6 L245.6 37.7 L245.8 33.6 L246 30.2 L246.3 27.8 L246.5 26.3 L246.8 25.8 L247 26.3 L247.3 27.8 L247.5 30.2 L247.8 33.6 L248 37.7 L248.2 42.6 L248.5 48.1 L248.7 54 L249 60.3 L249.2 66.6 L249.5 73 L249.7 79.3 L250 85.2 L250.2 90.7 L250.5 95.6 L250.7 99.7 L250.9 103.1 L251.2 105.5 L251.4 107 L251.7 107.5 L251.9 107 L252.2 105.5 L252.4 103.1 L252.7 99.7 L252.9 95.6 L253.2 90.7 L253.4 85.2 L253.6 79.3 L253.9 73 L254.1 66.7 L254.4 60.3 L254.6 54 L254.9 48.1 L255.1 42.6 L255.4 37.7 L255.6 33.6 L255.8 30.2 L256.1 27.8 L256.3 26.3 L256.6 25.8 L256.8 26.3 L257.1 27.8 L257.3 30.2 L257.6 33.6 L257.8 37.7 L258.1 42.6 L258.3 48.1 L258.5 54 L258.8 60.3 L259 66.6 L259.3 73 L259.5 79.3 L259.8 85.2 L260 90.7 L260.3 95.6 L260.5 99.7 L260.8 103.1 L261 105.5 L261.2 107 L261.5 107.5 L261.7 107 L262 105.5 L262.2 103.1 L262.5 99.7 L262.7 95.6 L263 90.7 L263.2 85.2 L263.4 79.3 L263.7 73 L263.9 66.7 L264.2 60.3 L264.4 54 L264.7 48.1 L264.9 42.6 L265.2 37.7 L265.4 33.6 L265.7 30.2 L265.9 27.8 L266.1 26.3 L266.4 25.8 L266.6 26.3 L266.9 27.8 L267.1 30.2 L267.4 33.6 L267.6 37.7 L267.9 42.6 L268.1 48.1 L268.4 54 L268.6 60.3 L268.8 66.7 L269.1 73 L269.3 79.3 L269.6 85.2 L269.8 90.7 L270.1 95.6 L270.3 99.7 L270.6 103.1 L270.8 105.5 L271 107 L271.3 107.5 L271.5 107 L271.8 105.5 L272 103.1 L272.3 99.7 L272.5 95.6 L272.8 90.7 L273 85.2 L273.3 79.3 L273.5 73 L273.7 66.7 L274 60.3 L274.2 54 L274.5 48.1 L274.7 42.6 L275 37.7 L275.2 33.6 L275.5 30.2 L275.7 27.8 L276 26.3 L276.2 25.8 L276.4 26.3 L276.7 27.8 L276.9 30.2 L277.2 33.6 L277.4 37.7 L277.7 42.6 L277.9 48.1 L278.2 54 L278.4 60.3 L278.6 66.6 L278.9 73 L279.1 79.3 L279.4 85.2 L279.6 90.7 L279.9 95.6 L280.1 99.7 L280.4 103.1 L280.6 105.5 L280.9 107 L281.1 107.5 L281.3 107 L281.6 105.5 L281.8 103.1 L282.1 99.7 L282.3 95.6 L282.6 90.7 L282.8 85.2 L283.1 79.3 L283.3 73 L283.6 66.7 L283.8 60.3 L284 54 L284.3 48.1 L284.5 42.6 L284.8 37.7 L285 33.6 L285.3 30.2 L285.5 27.8 L285.8 26.3 L286 25.8 L286.2 26.3 L286.5 27.8 L286.7 30.2 L287 33.6 L287.2 37.7 L287.5 42.6 L287.7 48.1 L288 54 L288.2 60.3 L288.5 66.7 L288.7 73 L288.9 79.3 L289.2 85.2 L289.4 90.7 L289.7 95.6 L289.9 99.7 L290.2 103.1 L290.4 105.5 L290.7 107 L290.9 107.5 L291.1 107 L291.4 105.5 L291.6 103.1 L291.9 99.7 L292.1 95.6 L292.4 90.7 L292.6 85.2 L292.9 79.3 L293.1 73 L293.4 66.7 L293.6 60.3 L293.8 54 L294.1 48.1 L294.3 42.6 L294.6 37.7 L294.8 33.6 L295.1 30.2 L295.3 27.8 L295.6 26.3 L295.8 25.8 L296.1 26.3 L296.3 27.8 L296.5 30.2 L296.8 33.6 L297 37.7 L297.3 42.6 L297.5 48.1 L297.8 54 L298 60.3 L298.3 66.6 L298.5 73 L298.7 79.3 L299 85.2 L299.2 90.7 L299.5 95.6 L299.7 99.7 L300 103.1 L300.2 105.5 L300.5 107 L300.7 107.5 L301 107 L301.2 105.5 L301.4 103.1 L301.7 99.7 L301.9 95.6 L302.2 90.7 L302.4 85.2 L302.7 79.3 L302.9 73 L303.2 66.7 L303.4 60.3 L303.7 54 L303.9 48.1 L304.1 42.6 L304.4 37.7 L304.6 33.6 L304.9 30.2 L305.1 27.8 L305.4 26.3 L305.6 25.8 L305.9 26.3 L306.1 27.8 L306.3 30.2 L306.6 33.6 L306.8 37.7 L307.1 42.6 L307.3 48.1 L307.6 54 L307.8 60.3 L308.1 66.7 L308.3 73 L308.6 79.3 L308.8 85.2 L309 90.7 L309.3 95.6 L309.5 99.7 L309.8 103.1 L310 105.5 L310.3 107 L310.5 107.5 L310.8 107 L311 105.5 L311.3 103.1 L311.5 99.7 L311.7 95.6 L312 90.7 L312.2 85.2 L312.5 79.3 L312.7 73 L313 66.7 L313.2 60.3 L313.5 54 L313.7 48.1 L313.9 42.6 L314.2 37.7 L314.4 33.6 L314.7 30.2 L314.9 27.8 L315.2 26.3 L315.4 25.8 L315.7 26.3 L315.9 27.8 L316.2 30.2 L316.4 33.6 L316.6 37.7 L316.9 42.6 L317.1 48.1 L317.4 54 L317.6 60.3 L317.9 66.6 L318.1 73 L318.4 79.3 L318.6 85.2 L318.9 90.7 L319.1 95.6 L319.3 99.7 L319.6 103.1 L319.8 105.5 L320.1 107 L320.3 107.5 L320.6 107 L320.8 105.5 L321.1 103.1 L321.3 99.7 L321.5 95.6 L321.8 90.7 L322 85.2 L322.3 79.3 L322.5 73 L322.8 66.7 L323 60.3 L323.3 54 L323.5 48.1 L323.8 42.6 L324 37.7 L324.2 33.6 L324.5 30.2 L324.7 27.8 L325 26.3 L325.2 25.8 L325.5 26.3 L325.7 27.8 L326 30.2 L326.2 33.6 L326.5 37.7 L326.7 42.6 L326.9 48.1 L327.2 54 L327.4 60.3 L327.7 66.7 L327.9 73 L328.2 79.3 L328.4 85.2 L328.7 90.7 L328.9 95.6 L329.1 99.7 L329.4 103.1 L329.6 105.5 L329.9 107 L330.1 107.5 L330.4 107 L330.6 105.5 L330.9 103.1 L331.1 99.7 L331.4 95.6 L331.6 90.7 L331.8 85.2 L332.1 79.3 L332.3 73 L332.6 66.6 L332.8 60.3 L333.1 54 L333.3 48.1 L333.6 42.6 L333.8 37.7 L334.1 33.6 L334.3 30.2 L334.5 27.8 L334.8 26.3 L335 25.8 L335.3 26.3 L335.5 27.8 L335.8 30.2 L336 33.6 L336.3 37.7 L336.5 42.6 L336.7 48.1 L337 54 L337.2 60.3 L337.5 66.6 L337.7 73 L338 79.3 L338.2 85.2 L338.5 90.7 L338.7 95.6 L339 99.7 L339.2 103.1 L339.4 105.5 L339.7 107 L339.9 107.5 L340.2 107 L340.4 105.5 L340.7 103.1 L340.9 99.7 L341.2 95.6 L341.4 90.7 L341.7 85.2 L341.9 79.3 L342.1 73 L342.4 66.7 L342.6 60.3 L342.9 54 L343.1 48.1 L343.4 42.6 L343.6 37.7 L343.9 33.6 L344.1 30.2 L344.3 27.8 L344.6 26.3 L344.8 25.8 L345.1 26.3 L345.3 27.8 L345.6 30.2 L345.8 33.6 L346.1 37.7 L346.3 42.6 L346.6 48.1 L346.8 54 L347 60.3 L347.3 66.7 L347.5 73 L347.8 79.3 L348 85.2 L348.3 90.7 L348.5 95.6 L348.8 99.7 L349 103.1 L349.3 105.5 L349.5 107 L349.7 107.5 L350 107 L350.2 105.5 L350.5 103.1 L350.7 99.7 L351 95.6 L351.2 90.7 L351.5 85.2 L351.7 79.3 L351.9 73 L352.2 66.7 L352.4 60.3 L352.7 54 L352.9 48.1 L353.2 42.6 L353.4 37.7 L353.7 33.6 L353.9 30.2 L354.2 27.8 L354.4 26.3 L354.6 25.8 L354.9 26.3 L355.1 27.8 L355.4 30.2 L355.6 33.6 L355.9 37.7 L356.1 42.6 L356.4 48.1 L356.6 54 L356.9 60.3 L357.1 66.6 L357.3 73 L357.6 79.3 L357.8 85.2 L358.1 90.7 L358.3 95.6 L358.6 99.7 L358.8 103.1 L359.1 105.5 L359.3 107 L359.5 107.5 L359.8 107 L360 105.5 L360.3 103.1 L360.5 99.7 L360.8 95.6 L361 90.7 L361.3 85.2 L361.5 79.3 L361.8 73 L362 66.7" stroke="#000" stroke-width="2.2" fill="none" stroke-linecap="round" stroke-dasharray="0 3.7"/>
</g>
<rect x="309.9" y="10.3" width="48" height="23.3" fill="#fff" stroke="#bbb" stroke-width="0.6"/>
<circle cx="312.8" cy="14.5" r="1.1" fill="#000"/>
<circle cx="316.6" cy="14.5" r="1.1" fill="#000"/>
<circle cx="320.4" cy="14.5" r="1.1" fill="#000"/>
<path d="M311.7 22.5 H322.5" stroke="#00ee00" stroke-width="1.4"/>
<path d="M311.7 30.2 H322.5" stroke="#8080ff" stroke-width="0.6" stroke-dasharray="1.5 0.8"/>
<circle cx="317.7" cy="30.2" r="1.4" fill="#a0a0ff" stroke="#8080ff" stroke-width="0.4"/>
<text x="323.9" y="16.8" class="lg" textLength="26.2" lengthAdjust="spacingAndGlyphs">Command</text>
<text x="323.9" y="24.8" class="lg" textLength="26.2" lengthAdjust="spacingAndGlyphs">Reference</text>
<text x="323.9" y="32.5" class="lg" textLength="31.6" lengthAdjust="spacingAndGlyphs">Adaptive On</text>
<rect x="224" y="111.2" width="117.3" height="12.8" fill="#fff" stroke="#3a3a3a" stroke-width="1.1"/>
<text x="282.6" y="120.3" text-anchor="middle" class="bx" textLength="100.1" lengthAdjust="spacingAndGlyphs">Upper-bound of Bandwidth : 7 Hz</text>
<rect x="205.1" y="149.2" width="156.9" height="123.1" fill="none" stroke="#a6a6a6" stroke-width="0.8"/>
<path d="M205.1 272.3 v-1.7 M205.1 149.2 v1.7 M224.7 272.3 v-1.7 M224.7 149.2 v1.7 M244.3 272.3 v-1.7 M244.3 149.2 v1.7 M263.9 272.3 v-1.7 M263.9 149.2 v1.7 M283.6 272.3 v-1.7 M283.6 149.2 v1.7 M303.2 272.3 v-1.7 M303.2 149.2 v1.7 M322.8 272.3 v-1.7 M322.8 149.2 v1.7 M342.4 272.3 v-1.7 M342.4 149.2 v1.7 M362 272.3 v-1.7 M362 149.2 v1.7 M205.1 266.7 h1.7 M362 266.7 h-1.7 M205.1 255.5 h1.7 M362 255.5 h-1.7 M205.1 244.3 h1.7 M362 244.3 h-1.7 M205.1 233.1 h1.7 M362 233.1 h-1.7 M205.1 221.9 h1.7 M362 221.9 h-1.7 M205.1 210.8 h1.7 M362 210.8 h-1.7 M205.1 199.6 h1.7 M362 199.6 h-1.7 M205.1 188.4 h1.7 M362 188.4 h-1.7 M205.1 177.2 h1.7 M362 177.2 h-1.7 M205.1 166 h1.7 M362 166 h-1.7 M205.1 154.8 h1.7 M362 154.8 h-1.7" stroke="#8c8c8c" stroke-width="0.7" fill="none"/>
<text x="205.1" y="279.6" text-anchor="middle" class="tk">0.1</text>
<text x="224.7" y="279.6" text-anchor="middle" class="tk">0.15</text>
<text x="244.3" y="279.6" text-anchor="middle" class="tk">0.2</text>
<text x="263.9" y="279.6" text-anchor="middle" class="tk">0.25</text>
<text x="283.6" y="279.6" text-anchor="middle" class="tk">0.3</text>
<text x="303.2" y="279.6" text-anchor="middle" class="tk">0.35</text>
<text x="322.8" y="279.6" text-anchor="middle" class="tk">0.4</text>
<text x="342.4" y="279.6" text-anchor="middle" class="tk">0.45</text>
<text x="362" y="279.6" text-anchor="middle" class="tk">0.5</text>
<text x="202.9" y="269.2" text-anchor="end" class="tk">-10</text>
<text x="202.9" y="258" text-anchor="end" class="tk">-8</text>
<text x="202.9" y="246.8" text-anchor="end" class="tk">-6</text>
<text x="202.9" y="235.6" text-anchor="end" class="tk">-4</text>
<text x="202.9" y="224.4" text-anchor="end" class="tk">-2</text>
<text x="202.9" y="213.2" text-anchor="end" class="tk">0</text>
<text x="202.9" y="202.1" text-anchor="end" class="tk">2</text>
<text x="202.9" y="190.9" text-anchor="end" class="tk">4</text>
<text x="202.9" y="179.7" text-anchor="end" class="tk">6</text>
<text x="202.9" y="168.5" text-anchor="end" class="tk">8</text>
<text x="202.9" y="157.3" text-anchor="end" class="tk">10</text>
<text x="283.8" y="288.4" text-anchor="middle" class="lab" textLength="27.8" lengthAdjust="spacingAndGlyphs">Time&#160;&#160;(s)</text>
<text transform="translate(191.9 210.8) rotate(-90)" text-anchor="middle" class="lab" textLength="35.6" lengthAdjust="spacingAndGlyphs">Current&#160;&#160;(A)</text>
<g clip-path="url(#cb1)">
<path d="M205.1 209.2 L205.6 205.9 L206.1 202.6 L206.6 199.4 L207.1 196.1 L207.6 193 L208 189.9 L208.5 186.9 L209 184 L209.5 181.2 L210 178.5 L210.5 175.9 L211 173.5 L211.5 171.2 L212 169.1 L212.5 167.1 L212.9 165.3 L213.4 163.7 L213.9 162.3 L214.4 161.1 L214.9 160 L215.4 159.2 L215.9 158.6 L216.4 158.2 L216.9 158.2 L217.4 158.2 L217.8 158.2 L218.3 158.5 L218.8 159.1 L219.3 159.9 L219.8 160.9 L220.3 162.1 L220.8 163.5 L221.3 165.1 L221.8 166.9 L222.3 168.8 L222.8 170.9 L223.2 173.2 L223.7 175.6 L224.2 178.1 L224.7 180.8 L225.2 183.6 L225.7 186.5 L226.2 189.5 L226.7 192.5 L227.2 195.7 L227.7 198.9 L228.1 202.2 L228.6 205.4 L229.1 208.8 L229.6 212.1 L230.1 215.4 L230.6 218.7 L231.1 221.9 L231.6 225.2 L232.1 228.3 L232.6 231.4 L233 234.4 L233.5 237.3 L234 240.2 L234.5 242.9 L235 245.4 L235.5 247.9 L236 250.2 L236.5 252.3 L237 254.3 L237.5 256.1 L238 257.7 L238.4 259.1 L238.9 260.4 L239.4 261.4 L239.9 262.3 L240.4 262.9 L240.9 263.3 L241.4 263.3 L241.9 263.3 L242.4 263.3 L242.9 263 L243.3 262.4 L243.8 261.7 L244.3 260.7 L244.8 259.5 L245.3 258.1 L245.8 256.5 L246.3 254.7 L246.8 252.8 L247.3 250.7 L247.8 248.5 L248.2 246.1 L248.7 243.5 L249.2 240.9 L249.7 238.1 L250.2 235.2 L250.7 232.2 L251.2 229.1 L251.7 226 L252.2 222.8 L252.7 219.5 L253.2 216.3 L253.6 212.9 L254.1 209.6 L254.6 206.3 L255.1 203 L255.6 199.8 L256.1 196.5 L256.6 193.4 L257.1 190.3 L257.6 187.3 L258.1 184.3 L258.5 181.5 L259 178.8 L259.5 176.2 L260 173.8 L260.5 171.5 L261 169.3 L261.5 167.4 L262 165.5 L262.5 163.9 L263 162.5 L263.4 161.2 L263.9 160.2 L264.4 159.3 L264.9 158.6 L265.4 158.2 L265.9 158.2 L266.4 158.2 L266.9 158.2 L267.4 158.4 L267.9 159 L268.4 159.8 L268.8 160.8 L269.3 162 L269.8 163.3 L270.3 164.9 L270.8 166.6 L271.3 168.6 L271.8 170.6 L272.3 172.9 L272.8 175.3 L273.3 177.8 L273.7 180.4 L274.2 183.2 L274.7 186.1 L275.2 189.1 L275.7 192.2 L276.2 195.3 L276.7 198.5 L277.2 201.8 L277.7 205 L278.2 208.3 L278.6 211.7 L279.1 215 L279.6 218.3 L280.1 221.5 L280.6 224.8 L281.1 227.9 L281.6 231 L282.1 234.1 L282.6 237 L283.1 239.8 L283.6 242.5 L284 245.1 L284.5 247.6 L285 249.9 L285.5 252 L286 254 L286.5 255.8 L287 257.5 L287.5 258.9 L288 260.2 L288.5 261.3 L288.9 262.2 L289.4 262.8 L289.9 263.3 L290.4 263.3 L290.9 263.3 L291.4 263.3 L291.9 263.1 L292.4 262.5 L292.9 261.8 L293.4 260.8 L293.8 259.6 L294.3 258.3 L294.8 256.7 L295.3 255 L295.8 253.1 L296.3 251 L296.8 248.8 L297.3 246.4 L297.8 243.9 L298.3 241.2 L298.7 238.5 L299.2 235.6 L299.7 232.6 L300.2 229.5 L300.7 226.4 L301.2 223.2 L301.7 220 L302.2 216.7 L302.7 213.4 L303.2 210 L303.7 206.7 L304.1 203.4 L304.6 200.2 L305.1 196.9 L305.6 193.8 L306.1 190.7 L306.6 187.6 L307.1 184.7 L307.6 181.9 L308.1 179.1 L308.6 176.5 L309 174.1 L309.5 171.8 L310 169.6 L310.5 167.6 L311 165.8 L311.5 164.1 L312 162.6 L312.5 161.4 L313 160.3 L313.5 159.4 L313.9 158.7 L314.4 158.2 L314.9 158.2 L315.4 158.2 L315.9 158.2 L316.4 158.4 L316.9 158.9 L317.4 159.7 L317.9 160.6 L318.4 161.8 L318.9 163.2 L319.3 164.7 L319.8 166.4 L320.3 168.3 L320.8 170.4 L321.3 172.6 L321.8 175 L322.3 177.5 L322.8 180.1 L323.3 182.9 L323.8 185.7 L324.2 188.7 L324.7 191.8 L325.2 194.9 L325.7 198.1 L326.2 201.3 L326.7 204.6 L327.2 207.9 L327.7 211.2 L328.2 214.6 L328.7 217.9 L329.1 221.1 L329.6 224.4 L330.1 227.5 L330.6 230.7 L331.1 233.7 L331.6 236.6 L332.1 239.5 L332.6 242.2 L333.1 244.8 L333.6 247.3 L334.1 249.6 L334.5 251.8 L335 253.8 L335.5 255.6 L336 257.3 L336.5 258.8 L337 260.1 L337.5 261.2 L338 262.1 L338.5 262.8 L339 263.3 L339.4 263.3 L339.9 263.3 L340.4 263.3 L340.9 263.2 L341.4 262.6 L341.9 261.9 L342.4 260.9 L342.9 259.8 L343.4 258.4 L343.9 256.9 L344.3 255.2 L344.8 253.3 L345.3 251.3 L345.8 249.1 L346.3 246.7 L346.8 244.2 L347.3 241.6 L347.8 238.8 L348.3 235.9 L348.8 233 L349.3 229.9 L349.7 226.8 L350.2 223.6 L350.7 220.4 L351.2 217.1 L351.7 213.8 L352.2 210.5 L352.7 207.1 L353.2 203.8 L353.7 200.6 L354.2 197.3 L354.6 194.2 L355.1 191 L355.6 188 L356.1 185.1 L356.6 182.2 L357.1 179.5 L357.6 176.9 L358.1 174.4 L358.6 172 L359.1 169.9 L359.5 167.8 L360 166 L360.5 164.3 L361 162.8 L361.5 161.5 L362 160.4" stroke="#ff7070" stroke-width="0.9" fill="none" stroke-dasharray="3 1"/>
<path d="M205.1 212.3 L205.6 215.6 L206.1 218.9 L206.6 222.1 L207.1 225.4 L207.6 228.5 L208 231.6 L208.5 234.6 L209 237.5 L209.5 240.3 L210 243 L210.5 245.6 L211 248 L211.5 250.3 L212 252.4 L212.5 254.4 L212.9 256.2 L213.4 257.8 L213.9 259.2 L214.4 260.4 L214.9 261.5 L215.4 262.3 L215.9 262.9 L216.4 263.3 L216.9 263.3 L217.4 263.3 L217.8 263.3 L218.3 263 L218.8 262.4 L219.3 261.6 L219.8 260.6 L220.3 259.4 L220.8 258 L221.3 256.4 L221.8 254.6 L222.3 252.7 L222.8 250.6 L223.2 248.3 L223.7 245.9 L224.2 243.4 L224.7 240.7 L225.2 237.9 L225.7 235 L226.2 232 L226.7 229 L227.2 225.8 L227.7 222.6 L228.1 219.3 L228.6 216.1 L229.1 212.7 L229.6 209.4 L230.1 206.1 L230.6 202.8 L231.1 199.6 L231.6 196.3 L232.1 193.2 L232.6 190.1 L233 187.1 L233.5 184.2 L234 181.3 L234.5 178.6 L235 176.1 L235.5 173.6 L236 171.3 L236.5 169.2 L237 167.2 L237.5 165.4 L238 163.8 L238.4 162.4 L238.9 161.1 L239.4 160.1 L239.9 159.2 L240.4 158.6 L240.9 158.2 L241.4 158.2 L241.9 158.2 L242.4 158.2 L242.9 158.5 L243.3 159.1 L243.8 159.8 L244.3 160.8 L244.8 162 L245.3 163.4 L245.8 165 L246.3 166.8 L246.8 168.7 L247.3 170.8 L247.8 173 L248.2 175.4 L248.7 178 L249.2 180.6 L249.7 183.4 L250.2 186.3 L250.7 189.3 L251.2 192.4 L251.7 195.5 L252.2 198.7 L252.7 202 L253.2 205.2 L253.6 208.6 L254.1 211.9 L254.6 215.2 L255.1 218.5 L255.6 221.7 L256.1 225 L256.6 228.1 L257.1 231.2 L257.6 234.2 L258.1 237.2 L258.5 240 L259 242.7 L259.5 245.3 L260 247.7 L260.5 250 L261 252.2 L261.5 254.1 L262 256 L262.5 257.6 L263 259 L263.4 260.3 L263.9 261.3 L264.4 262.2 L264.9 262.9 L265.4 263.3 L265.9 263.3 L266.4 263.3 L266.9 263.3 L267.4 263.1 L267.9 262.5 L268.4 261.7 L268.8 260.7 L269.3 259.5 L269.8 258.2 L270.3 256.6 L270.8 254.9 L271.3 252.9 L271.8 250.9 L272.3 248.6 L272.8 246.2 L273.3 243.7 L273.7 241.1 L274.2 238.3 L274.7 235.4 L275.2 232.4 L275.7 229.3 L276.2 226.2 L276.7 223 L277.2 219.7 L277.7 216.5 L278.2 213.2 L278.6 209.8 L279.1 206.5 L279.6 203.2 L280.1 200 L280.6 196.7 L281.1 193.6 L281.6 190.5 L282.1 187.4 L282.6 184.5 L283.1 181.7 L283.6 179 L284 176.4 L284.5 173.9 L285 171.6 L285.5 169.5 L286 167.5 L286.5 165.7 L287 164 L287.5 162.6 L288 161.3 L288.5 160.2 L288.9 159.3 L289.4 158.7 L289.9 158.2 L290.4 158.2 L290.9 158.2 L291.4 158.2 L291.9 158.4 L292.4 159 L292.9 159.7 L293.4 160.7 L293.8 161.9 L294.3 163.2 L294.8 164.8 L295.3 166.5 L295.8 168.4 L296.3 170.5 L296.8 172.7 L297.3 175.1 L297.8 177.6 L298.3 180.3 L298.7 183 L299.2 185.9 L299.7 188.9 L300.2 192 L300.7 195.1 L301.2 198.3 L301.7 201.5 L302.2 204.8 L302.7 208.1 L303.2 211.5 L303.7 214.8 L304.1 218.1 L304.6 221.3 L305.1 224.6 L305.6 227.7 L306.1 230.8 L306.6 233.9 L307.1 236.8 L307.6 239.6 L308.1 242.4 L308.6 245 L309 247.4 L309.5 249.7 L310 251.9 L310.5 253.9 L311 255.7 L311.5 257.4 L312 258.9 L312.5 260.1 L313 261.2 L313.5 262.1 L313.9 262.8 L314.4 263.3 L314.9 263.3 L315.4 263.3 L315.9 263.3 L316.4 263.1 L316.9 262.6 L317.4 261.8 L317.9 260.9 L318.4 259.7 L318.9 258.3 L319.3 256.8 L319.8 255.1 L320.3 253.2 L320.8 251.1 L321.3 248.9 L321.8 246.5 L322.3 244 L322.8 241.4 L323.3 238.6 L323.8 235.8 L324.2 232.8 L324.7 229.7 L325.2 226.6 L325.7 223.4 L326.2 220.2 L326.7 216.9 L327.2 213.6 L327.7 210.3 L328.2 206.9 L328.7 203.6 L329.1 200.4 L329.6 197.1 L330.1 194 L330.6 190.8 L331.1 187.8 L331.6 184.9 L332.1 182 L332.6 179.3 L333.1 176.7 L333.6 174.2 L334.1 171.9 L334.5 169.7 L335 167.7 L335.5 165.9 L336 164.2 L336.5 162.7 L337 161.4 L337.5 160.3 L338 159.4 L338.5 158.7 L339 158.2 L339.4 158.2 L339.9 158.2 L340.4 158.2 L340.9 158.3 L341.4 158.9 L341.9 159.6 L342.4 160.6 L342.9 161.7 L343.4 163.1 L343.9 164.6 L344.3 166.3 L344.8 168.2 L345.3 170.2 L345.8 172.4 L346.3 174.8 L346.8 177.3 L347.3 179.9 L347.8 182.7 L348.3 185.6 L348.8 188.5 L349.3 191.6 L349.7 194.7 L350.2 197.9 L350.7 201.1 L351.2 204.4 L351.7 207.7 L352.2 211 L352.7 214.4 L353.2 217.7 L353.7 220.9 L354.2 224.2 L354.6 227.3 L355.1 230.5 L355.6 233.5 L356.1 236.4 L356.6 239.3 L357.1 242 L357.6 244.6 L358.1 247.1 L358.6 249.5 L359.1 251.6 L359.5 253.7 L360 255.5 L360.5 257.2 L361 258.7 L361.5 260 L362 261.1" stroke="#ff7070" stroke-width="0.9" fill="none" stroke-dasharray="3 1"/>
<path d="M205.1 210.3 L205.6 209.2 L206.1 208.2 L206.6 207.1 L207.1 206.1 L207.6 205.1 L208 204.1 L208.5 203.2 L209 202.2 L209.5 201.4 L210 200.5 L210.5 199.7 L211 198.9 L211.5 198.2 L212 197.5 L212.5 196.9 L212.9 196.3 L213.4 195.8 L213.9 195.4 L214.4 195 L214.9 194.6 L215.4 194.4 L215.9 194.2 L216.4 194 L216.9 194 L217.4 194 L217.8 194 L218.3 194.2 L218.8 194.4 L219.3 194.6 L219.8 194.9 L220.3 195.3 L220.8 195.8 L221.3 196.3 L221.8 196.8 L222.3 197.4 L222.8 198.1 L223.2 198.8 L223.7 199.6 L224.2 200.4 L224.7 201.2 L225.2 202.1 L225.7 203 L226.2 204 L226.7 205 L227.2 206 L227.7 207 L228.1 208 L228.6 209.1 L229.1 210.1 L229.6 211.2 L230.1 212.2 L230.6 213.3 L231.1 214.3 L231.6 215.3 L232.1 216.3 L232.6 217.3 L233 218.3 L233.5 219.2 L234 220.1 L234.5 220.9 L235 221.8 L235.5 222.5 L236 223.3 L236.5 223.9 L237 224.6 L237.5 225.1 L238 225.6 L238.4 226.1 L238.9 226.5 L239.4 226.8 L239.9 227.1 L240.4 227.3 L240.9 227.4 L241.4 227.5 L241.9 227.5 L242.4 227.5 L242.9 227.4 L243.3 227.2 L243.8 226.9 L244.3 226.6 L244.8 226.2 L245.3 225.8 L245.8 225.3 L246.3 224.7 L246.8 224.1 L247.3 223.4 L247.8 222.7 L248.2 222 L248.7 221.2 L249.2 220.3 L249.7 219.4 L250.2 218.5 L250.7 217.6 L251.2 216.6 L251.7 215.6 L252.2 214.6 L252.7 213.5 L253.2 212.5 L253.6 211.4 L254.1 210.4 L254.6 209.3 L255.1 208.3 L255.6 207.3 L256.1 206.2 L256.6 205.2 L257.1 204.2 L257.6 203.3 L258.1 202.4 L258.5 201.5 L259 200.6 L259.5 199.8 L260 199 L260.5 198.3 L261 197.6 L261.5 197 L262 196.4 L262.5 195.9 L263 195.4 L263.4 195 L263.9 194.7 L264.4 194.4 L264.9 194.2 L265.4 194.1 L265.9 194 L266.4 194 L266.9 194 L267.4 194.1 L267.9 194.3 L268.4 194.6 L268.8 194.9 L269.3 195.3 L269.8 195.7 L270.3 196.2 L270.8 196.7 L271.3 197.4 L271.8 198 L272.3 198.7 L272.8 199.5 L273.3 200.3 L273.7 201.1 L274.2 202 L274.7 202.9 L275.2 203.9 L275.7 204.8 L276.2 205.8 L276.7 206.9 L277.2 207.9 L277.7 208.9 L278.2 210 L278.6 211 L279.1 212.1 L279.6 213.1 L280.1 214.2 L280.6 215.2 L281.1 216.2 L281.6 217.2 L282.1 218.1 L282.6 219.1 L283.1 220 L283.6 220.8 L284 221.7 L284.5 222.4 L285 223.2 L285.5 223.9 L286 224.5 L286.5 225.1 L287 225.6 L287.5 226.1 L288 226.5 L288.5 226.8 L288.9 227.1 L289.4 227.3 L289.9 227.4 L290.4 227.5 L290.9 227.5 L291.4 227.5 L291.9 227.4 L292.4 227.2 L292.9 226.9 L293.4 226.6 L293.8 226.3 L294.3 225.8 L294.8 225.3 L295.3 224.8 L295.8 224.2 L296.3 223.5 L296.8 222.8 L297.3 222.1 L297.8 221.3 L298.3 220.4 L298.7 219.5 L299.2 218.6 L299.7 217.7 L300.2 216.7 L300.7 215.7 L301.2 214.7 L301.7 213.7 L302.2 212.6 L302.7 211.6 L303.2 210.5 L303.7 209.5 L304.1 208.4 L304.6 207.4 L305.1 206.4 L305.6 205.4 L306.1 204.4 L306.6 203.4 L307.1 202.5 L307.6 201.6 L308.1 200.7 L308.6 199.9 L309 199.1 L309.5 198.4 L310 197.7 L310.5 197.1 L311 196.5 L311.5 195.9 L312 195.5 L312.5 195.1 L313 194.7 L313.5 194.4 L313.9 194.2 L314.4 194.1 L314.9 194 L315.4 194 L315.9 194 L316.4 194.1 L316.9 194.3 L317.4 194.5 L317.9 194.8 L318.4 195.2 L318.9 195.6 L319.3 196.1 L319.8 196.7 L320.3 197.3 L320.8 197.9 L321.3 198.6 L321.8 199.4 L322.3 200.2 L322.8 201 L323.3 201.9 L323.8 202.8 L324.2 203.8 L324.7 204.7 L325.2 205.7 L325.7 206.7 L326.2 207.8 L326.7 208.8 L327.2 209.9 L327.7 210.9 L328.2 212 L328.7 213 L329.1 214 L329.6 215.1 L330.1 216.1 L330.6 217.1 L331.1 218 L331.6 219 L332.1 219.9 L332.6 220.7 L333.1 221.6 L333.6 222.3 L334.1 223.1 L334.5 223.8 L335 224.4 L335.5 225 L336 225.5 L336.5 226 L337 226.4 L337.5 226.8 L338 227 L338.5 227.3 L339 227.4 L339.4 227.5 L339.9 227.5 L340.4 227.5 L340.9 227.4 L341.4 227.2 L341.9 227 L342.4 226.7 L342.9 226.3 L343.4 225.9 L343.9 225.4 L344.3 224.9 L344.8 224.3 L345.3 223.6 L345.8 222.9 L346.3 222.2 L346.8 221.4 L347.3 220.5 L347.8 219.7 L348.3 218.7 L348.8 217.8 L349.3 216.8 L349.7 215.8 L350.2 214.8 L350.7 213.8 L351.2 212.8 L351.7 211.7 L352.2 210.7 L352.7 209.6 L353.2 208.6 L353.7 207.5 L354.2 206.5 L354.6 205.5 L355.1 204.5 L355.6 203.5 L356.1 202.6 L356.6 201.7 L357.1 200.8 L357.6 200 L358.1 199.2 L358.6 198.5 L359.1 197.8 L359.5 197.1 L360 196.5 L360.5 196 L361 195.5 L361.5 195.1 L362 194.8" stroke="#5a5aff" stroke-width="0.8" fill="none" stroke-dasharray="3 0.9"/>
<path d="M205.1 211.2 L205.6 212.3 L206.1 213.3 L206.6 214.4 L207.1 215.4 L207.6 216.4 L208 217.4 L208.5 218.3 L209 219.3 L209.5 220.1 L210 221 L210.5 221.8 L211 222.6 L211.5 223.3 L212 224 L212.5 224.6 L212.9 225.2 L213.4 225.7 L213.9 226.1 L214.4 226.5 L214.9 226.9 L215.4 227.1 L215.9 227.3 L216.4 227.5 L216.9 227.5 L217.4 227.5 L217.8 227.5 L218.3 227.3 L218.8 227.1 L219.3 226.9 L219.8 226.6 L220.3 226.2 L220.8 225.7 L221.3 225.2 L221.8 224.7 L222.3 224.1 L222.8 223.4 L223.2 222.7 L223.7 221.9 L224.2 221.1 L224.7 220.3 L225.2 219.4 L225.7 218.5 L226.2 217.5 L226.7 216.5 L227.2 215.5 L227.7 214.5 L228.1 213.5 L228.6 212.4 L229.1 211.4 L229.6 210.3 L230.1 209.3 L230.6 208.2 L231.1 207.2 L231.6 206.2 L232.1 205.2 L232.6 204.2 L233 203.2 L233.5 202.3 L234 201.4 L234.5 200.6 L235 199.7 L235.5 199 L236 198.2 L236.5 197.6 L237 196.9 L237.5 196.4 L238 195.9 L238.4 195.4 L238.9 195 L239.4 194.7 L239.9 194.4 L240.4 194.2 L240.9 194.1 L241.4 194 L241.9 194 L242.4 194 L242.9 194.1 L243.3 194.3 L243.8 194.6 L244.3 194.9 L244.8 195.3 L245.3 195.7 L245.8 196.2 L246.3 196.8 L246.8 197.4 L247.3 198.1 L247.8 198.8 L248.2 199.5 L248.7 200.3 L249.2 201.2 L249.7 202.1 L250.2 203 L250.7 203.9 L251.2 204.9 L251.7 205.9 L252.2 206.9 L252.7 208 L253.2 209 L253.6 210.1 L254.1 211.1 L254.6 212.2 L255.1 213.2 L255.6 214.2 L256.1 215.3 L256.6 216.3 L257.1 217.3 L257.6 218.2 L258.1 219.1 L258.5 220 L259 220.9 L259.5 221.7 L260 222.5 L260.5 223.2 L261 223.9 L261.5 224.5 L262 225.1 L262.5 225.6 L263 226.1 L263.4 226.5 L263.9 226.8 L264.4 227.1 L264.9 227.3 L265.4 227.4 L265.9 227.5 L266.4 227.5 L266.9 227.5 L267.4 227.4 L267.9 227.2 L268.4 226.9 L268.8 226.6 L269.3 226.2 L269.8 225.8 L270.3 225.3 L270.8 224.8 L271.3 224.1 L271.8 223.5 L272.3 222.8 L272.8 222 L273.3 221.2 L273.7 220.4 L274.2 219.5 L274.7 218.6 L275.2 217.6 L275.7 216.7 L276.2 215.7 L276.7 214.6 L277.2 213.6 L277.7 212.6 L278.2 211.5 L278.6 210.5 L279.1 209.4 L279.6 208.4 L280.1 207.3 L280.6 206.3 L281.1 205.3 L281.6 204.3 L282.1 203.4 L282.6 202.4 L283.1 201.5 L283.6 200.7 L284 199.8 L284.5 199.1 L285 198.3 L285.5 197.6 L286 197 L286.5 196.4 L287 195.9 L287.5 195.4 L288 195 L288.5 194.7 L288.9 194.4 L289.4 194.2 L289.9 194.1 L290.4 194 L290.9 194 L291.4 194 L291.9 194.1 L292.4 194.3 L292.9 194.6 L293.4 194.9 L293.8 195.2 L294.3 195.7 L294.8 196.2 L295.3 196.7 L295.8 197.3 L296.3 198 L296.8 198.7 L297.3 199.4 L297.8 200.2 L298.3 201.1 L298.7 202 L299.2 202.9 L299.7 203.8 L300.2 204.8 L300.7 205.8 L301.2 206.8 L301.7 207.8 L302.2 208.9 L302.7 209.9 L303.2 211 L303.7 212 L304.1 213.1 L304.6 214.1 L305.1 215.1 L305.6 216.1 L306.1 217.1 L306.6 218.1 L307.1 219 L307.6 219.9 L308.1 220.8 L308.6 221.6 L309 222.4 L309.5 223.1 L310 223.8 L310.5 224.4 L311 225 L311.5 225.6 L312 226 L312.5 226.4 L313 226.8 L313.5 227.1 L313.9 227.3 L314.4 227.4 L314.9 227.5 L315.4 227.5 L315.9 227.5 L316.4 227.4 L316.9 227.2 L317.4 227 L317.9 226.7 L318.4 226.3 L318.9 225.9 L319.3 225.4 L319.8 224.8 L320.3 224.2 L320.8 223.6 L321.3 222.9 L321.8 222.1 L322.3 221.3 L322.8 220.5 L323.3 219.6 L323.8 218.7 L324.2 217.7 L324.7 216.8 L325.2 215.8 L325.7 214.8 L326.2 213.7 L326.7 212.7 L327.2 211.6 L327.7 210.6 L328.2 209.5 L328.7 208.5 L329.1 207.5 L329.6 206.4 L330.1 205.4 L330.6 204.4 L331.1 203.5 L331.6 202.5 L332.1 201.6 L332.6 200.8 L333.1 199.9 L333.6 199.2 L334.1 198.4 L334.5 197.7 L335 197.1 L335.5 196.5 L336 196 L336.5 195.5 L337 195.1 L337.5 194.7 L338 194.5 L338.5 194.2 L339 194.1 L339.4 194 L339.9 194 L340.4 194 L340.9 194.1 L341.4 194.3 L341.9 194.5 L342.4 194.8 L342.9 195.2 L343.4 195.6 L343.9 196.1 L344.3 196.6 L344.8 197.2 L345.3 197.9 L345.8 198.6 L346.3 199.3 L346.8 200.1 L347.3 201 L347.8 201.8 L348.3 202.8 L348.8 203.7 L349.3 204.7 L349.7 205.7 L350.2 206.7 L350.7 207.7 L351.2 208.7 L351.7 209.8 L352.2 210.8 L352.7 211.9 L353.2 212.9 L353.7 214 L354.2 215 L354.6 216 L355.1 217 L355.6 218 L356.1 218.9 L356.6 219.8 L357.1 220.7 L357.6 221.5 L358.1 222.3 L358.6 223 L359.1 223.7 L359.5 224.4 L360 225 L360.5 225.5 L361 226 L361.5 226.4 L362 226.7" stroke="#5a5aff" stroke-width="0.8" fill="none" stroke-dasharray="3 0.9"/>
<g fill="none" stroke="#ff5050" stroke-width="0.5"><circle cx="206.7" cy="198.7" r="1.1"/><circle cx="206.7" cy="222.8" r="1.1"/><circle cx="212.7" cy="166" r="1.1"/><circle cx="212.7" cy="255.5" r="1.1"/><circle cx="218.8" cy="159.1" r="1.1"/><circle cx="218.8" cy="262.4" r="1.1"/><circle cx="224.9" cy="181.9" r="1.1"/><circle cx="224.9" cy="239.6" r="1.1"/><circle cx="231" cy="221.3" r="1.1"/><circle cx="231" cy="200.2" r="1.1"/><circle cx="237.1" cy="254.6" r="1.1"/><circle cx="237.1" cy="166.9" r="1.1"/><circle cx="243.1" cy="262.7" r="1.1"/><circle cx="243.1" cy="158.8" r="1.1"/><circle cx="249.2" cy="240.9" r="1.1"/><circle cx="249.2" cy="180.6" r="1.1"/><circle cx="255.3" cy="201.7" r="1.1"/><circle cx="255.3" cy="219.8" r="1.1"/><circle cx="261.4" cy="167.7" r="1.1"/><circle cx="261.4" cy="253.8" r="1.1"/><circle cx="267.5" cy="158.5" r="1.1"/><circle cx="267.5" cy="263" r="1.1"/><circle cx="273.5" cy="179.4" r="1.1"/><circle cx="273.5" cy="242.1" r="1.1"/><circle cx="279.6" cy="218.3" r="1.1"/><circle cx="279.6" cy="203.2" r="1.1"/><circle cx="285.7" cy="252.8" r="1.1"/><circle cx="285.7" cy="168.7" r="1.1"/><circle cx="291.8" cy="263.2" r="1.1"/><circle cx="291.8" cy="158.3" r="1.1"/><circle cx="297.9" cy="243.4" r="1.1"/><circle cx="297.9" cy="178.1" r="1.1"/><circle cx="303.9" cy="204.7" r="1.1"/><circle cx="303.9" cy="216.8" r="1.1"/><circle cx="310" cy="169.6" r="1.1"/><circle cx="310" cy="251.9" r="1.1"/><circle cx="316.1" cy="158.2" r="1.1"/><circle cx="316.1" cy="263.3" r="1.1"/><circle cx="322.2" cy="177" r="1.1"/><circle cx="322.2" cy="244.5" r="1.1"/><circle cx="328.3" cy="215.2" r="1.1"/><circle cx="328.3" cy="206.3" r="1.1"/><circle cx="334.3" cy="250.9" r="1.1"/><circle cx="334.3" cy="170.6" r="1.1"/><circle cx="340.4" cy="263.3" r="1.1"/><circle cx="340.4" cy="158.2" r="1.1"/><circle cx="346.5" cy="245.7" r="1.1"/><circle cx="346.5" cy="175.8" r="1.1"/><circle cx="352.6" cy="207.8" r="1.1"/><circle cx="352.6" cy="213.7" r="1.1"/><circle cx="358.7" cy="171.6" r="1.1"/><circle cx="358.7" cy="249.9" r="1.1"/><circle cx="364.7" cy="158.2" r="1.1"/><circle cx="364.7" cy="263.3" r="1.1"/></g>
<path d="M208.6 201.8 l1.1 1.9 h-2.2 z M208.6 217.3 l1.1 1.9 h-2.2 z M214.7 193.6 l1.1 1.9 h-2.2 z M214.7 225.5 l1.1 1.9 h-2.2 z M220.8 194.6 l1.1 1.9 h-2.2 z M220.8 224.5 l1.1 1.9 h-2.2 z M226.9 204.2 l1.1 1.9 h-2.2 z M226.9 214.9 l1.1 1.9 h-2.2 z M232.9 216.9 l1.1 1.9 h-2.2 z M232.9 202.2 l1.1 1.9 h-2.2 z M239 225.4 l1.1 1.9 h-2.2 z M239 193.7 l1.1 1.9 h-2.2 z M245.1 224.8 l1.1 1.9 h-2.2 z M245.1 194.3 l1.1 1.9 h-2.2 z M251.2 215.4 l1.1 1.9 h-2.2 z M251.2 203.7 l1.1 1.9 h-2.2 z M257.3 202.7 l1.1 1.9 h-2.2 z M257.3 216.4 l1.1 1.9 h-2.2 z M263.3 193.9 l1.1 1.9 h-2.2 z M263.3 225.2 l1.1 1.9 h-2.2 z M269.4 194.1 l1.1 1.9 h-2.2 z M269.4 225 l1.1 1.9 h-2.2 z M275.5 203.3 l1.1 1.9 h-2.2 z M275.5 215.8 l1.1 1.9 h-2.2 z M281.6 216 l1.1 1.9 h-2.2 z M281.6 203.1 l1.1 1.9 h-2.2 z M287.7 225 l1.1 1.9 h-2.2 z M287.7 194.1 l1.1 1.9 h-2.2 z M293.7 225.1 l1.1 1.9 h-2.2 z M293.7 194 l1.1 1.9 h-2.2 z M299.8 216.3 l1.1 1.9 h-2.2 z M299.8 202.8 l1.1 1.9 h-2.2 z M305.9 203.6 l1.1 1.9 h-2.2 z M305.9 215.5 l1.1 1.9 h-2.2 z M312 194.3 l1.1 1.9 h-2.2 z M312 224.8 l1.1 1.9 h-2.2 z M318.1 193.8 l1.1 1.9 h-2.2 z M318.1 225.3 l1.1 1.9 h-2.2 z M324.1 202.4 l1.1 1.9 h-2.2 z M324.1 216.7 l1.1 1.9 h-2.2 z M330.2 215.1 l1.1 1.9 h-2.2 z M330.2 204 l1.1 1.9 h-2.2 z M336.3 224.6 l1.1 1.9 h-2.2 z M336.3 194.5 l1.1 1.9 h-2.2 z M342.4 225.5 l1.1 1.9 h-2.2 z M342.4 193.6 l1.1 1.9 h-2.2 z M348.5 217.2 l1.1 1.9 h-2.2 z M348.5 201.9 l1.1 1.9 h-2.2 z M354.5 204.5 l1.1 1.9 h-2.2 z M354.5 214.6 l1.1 1.9 h-2.2 z M360.6 194.7 l1.1 1.9 h-2.2 z M360.6 224.4 l1.1 1.9 h-2.2 z M366.7 193.5 l1.1 1.9 h-2.2 z M366.7 225.6 l1.1 1.9 h-2.2 z" fill="none" stroke="#4a4aff" stroke-width="0.5"/>
</g>
<rect x="319.8" y="153.5" width="38.4" height="60.8" fill="#fff" stroke="#bbb" stroke-width="0.6"/>
<path d="M321.4 158.4 H330.6" stroke="#ff5050" stroke-width="0.7" stroke-dasharray="2.4 0.8"/>
<circle cx="326.5" cy="158.4" r="1.45" fill="#fff" stroke="#ff5050" stroke-width="0.6"/>
<text x="333.3" y="160.4" class="lg2" textLength="21.2" lengthAdjust="spacingAndGlyphs">Current 1</text>
<path d="M321.4 165.8 H330.6" stroke="#ff5050" stroke-width="0.7" stroke-dasharray="2.4 0.8"/>
<circle cx="326.5" cy="165.8" r="1.45" fill="#fff" stroke="#ff5050" stroke-width="0.6"/>
<text x="333.3" y="167.8" class="lg2" textLength="21.2" lengthAdjust="spacingAndGlyphs">Current 2</text>
<path d="M321.4 173.3 H330.6" stroke="#ff5050" stroke-width="0.7" stroke-dasharray="2.4 0.8"/>
<circle cx="326.5" cy="173.3" r="1.45" fill="#fff" stroke="#ff5050" stroke-width="0.6"/>
<text x="333.3" y="175.3" class="lg2" textLength="21.2" lengthAdjust="spacingAndGlyphs">Current 3</text>
<path d="M321.4 180.8 H330.6" stroke="#ff5050" stroke-width="0.7" stroke-dasharray="2.4 0.8"/>
<circle cx="326.5" cy="180.8" r="1.45" fill="#fff" stroke="#ff5050" stroke-width="0.6"/>
<text x="333.3" y="182.8" class="lg2" textLength="21.2" lengthAdjust="spacingAndGlyphs">Current 4</text>
<path d="M321.4 188.2 H330.6" stroke="#5050ff" stroke-width="0.7" stroke-dasharray="2.4 0.8"/>
<path d="M326.5 186.7 l1.5 2.5 h-3 z" fill="#fff" stroke="#5050ff" stroke-width="0.6"/>
<text x="333.3" y="190.2" class="lg2" textLength="21.2" lengthAdjust="spacingAndGlyphs">Current 5</text>
<path d="M321.4 195.7 H330.6" stroke="#5050ff" stroke-width="0.7" stroke-dasharray="2.4 0.8"/>
<path d="M326.5 194.2 l1.5 2.5 h-3 z" fill="#fff" stroke="#5050ff" stroke-width="0.6"/>
<text x="333.3" y="197.7" class="lg2" textLength="21.2" lengthAdjust="spacingAndGlyphs">Current 6</text>
<path d="M321.4 203.1 H330.6" stroke="#5050ff" stroke-width="0.7" stroke-dasharray="2.4 0.8"/>
<path d="M326.5 204.6 l1.5 -2.5 h-3 z" fill="#fff" stroke="#5050ff" stroke-width="0.6"/>
<text x="333.3" y="205.1" class="lg2" textLength="21.2" lengthAdjust="spacingAndGlyphs">Current 7</text>
<path d="M321.4 210.6 H330.6" stroke="#5050ff" stroke-width="0.7" stroke-dasharray="2.4 0.8"/>
<path d="M326.5 212.1 l1.5 -2.5 h-3 z" fill="#fff" stroke="#5050ff" stroke-width="0.6"/>
<text x="333.3" y="212.6" class="lg2" textLength="21.2" lengthAdjust="spacingAndGlyphs">Current 8</text>
<rect x="224" y="255.8" width="117.3" height="13.2" fill="#fff" stroke="#3a3a3a" stroke-width="1.1"/>
<text x="282.6" y="265.1" text-anchor="middle" class="bx" textLength="100.1" lengthAdjust="spacingAndGlyphs">Upper-bound of Bandwidth : 7 Hz</text>
<rect x="388.7" y="5.3" width="156.9" height="122.7" fill="none" stroke="#a6a6a6" stroke-width="0.8"/>
<path d="M388.7 128 v-1.7 M388.7 5.3 v1.7 M404.4 128 v-1.7 M404.4 5.3 v1.7 M420.1 128 v-1.7 M420.1 5.3 v1.7 M435.8 128 v-1.7 M435.8 5.3 v1.7 M451.5 128 v-1.7 M451.5 5.3 v1.7 M467.1 128 v-1.7 M467.1 5.3 v1.7 M482.8 128 v-1.7 M482.8 5.3 v1.7 M498.5 128 v-1.7 M498.5 5.3 v1.7 M514.2 128 v-1.7 M514.2 5.3 v1.7 M529.9 128 v-1.7 M529.9 5.3 v1.7 M545.6 128 v-1.7 M545.6 5.3 v1.7 M388.7 128 h1.7 M545.6 128 h-1.7 M388.7 107.5 h1.7 M545.6 107.5 h-1.7 M388.7 87.1 h1.7 M545.6 87.1 h-1.7 M388.7 66.7 h1.7 M545.6 66.7 h-1.7 M388.7 46.2 h1.7 M545.6 46.2 h-1.7 M388.7 25.8 h1.7 M545.6 25.8 h-1.7 M388.7 5.3 h1.7 M545.6 5.3 h-1.7" stroke="#8c8c8c" stroke-width="0.7" fill="none"/>
<text x="388.7" y="135.3" text-anchor="middle" class="tk">0</text>
<text x="404.4" y="135.3" text-anchor="middle" class="tk">0.2</text>
<text x="420.1" y="135.3" text-anchor="middle" class="tk">0.4</text>
<text x="435.8" y="135.3" text-anchor="middle" class="tk">0.6</text>
<text x="451.5" y="135.3" text-anchor="middle" class="tk">0.8</text>
<text x="467.1" y="135.3" text-anchor="middle" class="tk">1</text>
<text x="482.8" y="135.3" text-anchor="middle" class="tk">1.2</text>
<text x="498.5" y="135.3" text-anchor="middle" class="tk">1.4</text>
<text x="514.2" y="135.3" text-anchor="middle" class="tk">1.6</text>
<text x="529.9" y="135.3" text-anchor="middle" class="tk">1.8</text>
<text x="545.6" y="135.3" text-anchor="middle" class="tk">2</text>
<text x="386.5" y="130.5" text-anchor="end" class="tk">-1.5</text>
<text x="386.5" y="110" text-anchor="end" class="tk">-1</text>
<text x="386.5" y="89.6" text-anchor="end" class="tk">-0.5</text>
<text x="386.5" y="69.2" text-anchor="end" class="tk">0</text>
<text x="386.5" y="48.7" text-anchor="end" class="tk">0.5</text>
<text x="386.5" y="28.2" text-anchor="end" class="tk">1</text>
<text x="386.5" y="7.8" text-anchor="end" class="tk">1.5</text>
<text x="467.3" y="144.1" text-anchor="middle" class="lab" textLength="27.8" lengthAdjust="spacingAndGlyphs">Time&#160;&#160;(s)</text>
<text transform="translate(375.5 66.7) rotate(-90)" text-anchor="middle" class="lab" textLength="25.3" lengthAdjust="spacingAndGlyphs">X&#160;&#160;(mm)</text>
<g clip-path="url(#ct2)">
<path d="M388.7 66.7 L388.9 64.1 L389.2 61.6 L389.4 59.1 L389.7 56.6 L389.9 54.3 L390.2 52 L390.4 49.8 L390.7 47.7 L390.9 45.7 L391.2 43.9 L391.4 42.2 L391.6 40.7 L391.9 39.4 L392.1 38.2 L392.4 37.2 L392.6 36.5 L392.9 35.9 L393.1 35.5 L393.4 35.4 L393.6 35.6 L393.8 36.5 L394.1 38.2 L394.3 40.6 L394.6 43.6 L394.8 47.2 L395.1 51.2 L395.3 55.7 L395.6 60.4 L395.8 65.3 L396.1 70.2 L396.3 75 L396.5 79.6 L396.8 83.9 L397 87.8 L397.3 91.1 L397.5 93.9 L397.8 96 L398 97.3 L398.3 97.9 L398.5 97.7 L398.8 96.8 L399 95.1 L399.2 92.7 L399.5 89.7 L399.7 86.1 L400 82.1 L400.2 77.6 L400.5 72.9 L400.7 68 L401 63.1 L401.2 58.3 L401.4 53.7 L401.7 49.4 L401.9 45.5 L402.2 42.2 L402.4 39.4 L402.7 37.3 L402.9 36 L403.2 35.4 L403.4 35.6 L403.7 36.5 L403.9 38.2 L404.1 40.6 L404.4 43.6 L404.6 47.2 L404.9 51.2 L405.1 55.7 L405.4 60.4 L405.6 65.3 L405.9 70.2 L406.1 75 L406.4 79.6 L406.6 83.9 L406.8 87.8 L407.1 91.1 L407.3 93.9 L407.6 96 L407.8 97.3 L408.1 97.9 L408.3 97.7 L408.6 96.8 L408.8 95.1 L409 92.7 L409.3 89.7 L409.5 86.1 L409.8 82.1 L410 77.6 L410.3 72.9 L410.5 68 L410.8 63.1 L411 58.3 L411.3 53.7 L411.5 49.4 L411.7 45.5 L412 42.2 L412.2 39.4 L412.5 37.3 L412.7 36 L413 35.4 L413.2 35.6 L413.5 36.5 L413.7 38.2 L414 40.6 L414.2 43.6 L414.4 47.2 L414.7 51.2 L414.9 55.7 L415.2 60.4 L415.4 65.3 L415.7 70.2 L415.9 75 L416.2 79.6 L416.4 83.9 L416.6 87.8 L416.9 91.1 L417.1 93.9 L417.4 96 L417.6 97.3 L417.9 97.9 L418.1 97.7 L418.4 96.8 L418.6 95.1 L418.9 92.7 L419.1 89.7 L419.3 86.1 L419.6 82.1 L419.8 77.6 L420.1 72.9 L420.3 68 L420.6 63.1 L420.8 58.3 L421.1 53.7 L421.3 49.4 L421.6 45.5 L421.8 42.2 L422 39.4 L422.3 37.3 L422.5 36 L422.8 35.4 L423 35.6 L423.3 36.5 L423.5 38.2 L423.8 40.6 L424 43.6 L424.2 47.2 L424.5 51.2 L424.7 55.7 L425 60.4 L425.2 65.3 L425.5 70.2 L425.7 75 L426 79.6 L426.2 83.9 L426.5 87.8 L426.7 91.1 L426.9 93.9 L427.2 96 L427.4 97.3 L427.7 97.9 L427.9 97.7 L428.2 96.8 L428.4 95.1 L428.7 92.7 L428.9 89.7 L429.2 86.1 L429.4 82.1 L429.6 77.6 L429.9 72.9 L430.1 68 L430.4 63.1 L430.6 58.3 L430.9 53.7 L431.1 49.4 L431.4 45.5 L431.6 42.2 L431.8 39.4 L432.1 37.3 L432.3 36 L432.6 35.4 L432.8 35.6 L433.1 36.5 L433.3 38.2 L433.6 40.6 L433.8 43.6 L434.1 47.2 L434.3 51.2 L434.5 55.7 L434.8 60.4 L435 65.3 L435.3 70.2 L435.5 75 L435.8 79.6 L436 83.9 L436.3 87.8 L436.5 91.1 L436.8 93.9 L437 96 L437.2 97.3 L437.5 97.9 L437.7 97.7 L438 96.8 L438.2 95.1 L438.5 92.7 L438.7 89.7 L439 86.1 L439.2 82.1 L439.4 77.6 L439.7 72.9 L439.9 68 L440.2 63.1 L440.4 58.3 L440.7 53.7 L440.9 49.4 L441.2 45.5 L441.4 42.2 L441.7 39.4 L441.9 37.3 L442.1 36 L442.4 35.4 L442.6 35.6 L442.9 36.5 L443.1 38.2 L443.4 40.6 L443.6 43.6 L443.9 47.2 L444.1 51.2 L444.4 55.7 L444.6 60.4 L444.8 65.3 L445.1 70.2 L445.3 75 L445.6 79.6 L445.8 83.9 L446.1 87.8 L446.3 91.1 L446.6 93.9 L446.8 96 L447 97.3 L447.3 97.9 L447.5 97.7 L447.8 96.8 L448 95.1 L448.3 92.7 L448.5 89.7 L448.8 86.1 L449 82.1 L449.3 77.6 L449.5 72.9 L449.7 68 L450 63.1 L450.2 58.3 L450.5 53.7 L450.7 49.4 L451 45.5 L451.2 42.2 L451.5 39.4 L451.7 37.3 L452 36 L452.2 35.4 L452.4 35.6 L452.7 36.5 L452.9 38.2 L453.2 40.6 L453.4 43.6 L453.7 47.2 L453.9 51.2 L454.2 55.7 L454.4 60.4 L454.6 65.3 L454.9 70.2 L455.1 75 L455.4 79.6 L455.6 83.9 L455.9 87.8 L456.1 91.1 L456.4 93.9 L456.6 96 L456.9 97.3 L457.1 97.9 L457.3 97.7 L457.6 96.8 L457.8 95.1 L458.1 92.7 L458.3 89.7 L458.6 86.1 L458.8 82.1 L459.1 77.6 L459.3 72.9 L459.6 68 L459.8 63.1 L460 58.3 L460.3 53.7 L460.5 49.4 L460.8 45.5 L461 42.2 L461.3 39.4 L461.5 37.3 L461.8 36 L462 35.4 L462.2 35.6 L462.5 36.5 L462.7 38.2 L463 40.6 L463.2 43.6 L463.5 47.2 L463.7 51.2 L464 55.7 L464.2 60.4 L464.5 65.3 L464.7 70.2 L464.9 75 L465.2 79.6 L465.4 83.9 L465.7 87.8 L465.9 91.1 L466.2 93.9 L466.4 96 L466.7 97.3 L466.9 97.9 L467.1 97.7 L467.4 96.8 L467.6 95.1 L467.9 92.7 L468.1 89.7 L468.4 86.1 L468.6 82.1 L468.9 77.6 L469.1 72.9 L469.4 68 L469.6 63.1 L469.8 58.3 L470.1 53.7 L470.3 49.4 L470.6 45.5 L470.8 42.2 L471.1 39.4 L471.3 37.3 L471.6 36 L471.8 35.4 L472.1 35.6 L472.3 36.5 L472.5 38.2 L472.8 40.6 L473 43.6 L473.3 47.2 L473.5 51.2 L473.8 55.7 L474 60.4 L474.3 65.3 L474.5 70.2 L474.7 75 L475 79.6 L475.2 83.9 L475.5 87.8 L475.7 91.1 L476 93.9 L476.2 96 L476.5 97.3 L476.7 97.9 L477 97.7 L477.2 96.8 L477.4 95.1 L477.7 92.7 L477.9 89.7 L478.2 86.1 L478.4 82.1 L478.7 77.6 L478.9 72.9 L479.2 68 L479.4 63.1 L479.7 58.3 L479.9 53.7 L480.1 49.4 L480.4 45.5 L480.6 42.2 L480.9 39.4 L481.1 37.3 L481.4 36 L481.6 35.4 L481.9 35.6 L482.1 36.5 L482.3 38.2 L482.6 40.6 L482.8 43.6 L483.1 47.2 L483.3 51.2 L483.6 55.7 L483.8 60.4 L484.1 65.3 L484.3 70.2 L484.6 75 L484.8 79.6 L485 83.9 L485.3 87.8 L485.5 91.1 L485.8 93.9 L486 96 L486.3 97.3 L486.5 97.9 L486.8 97.7 L487 96.8 L487.3 95.1 L487.5 92.7 L487.7 89.7 L488 86.1 L488.2 82.1 L488.5 77.6 L488.7 72.9 L489 68 L489.2 63.1 L489.5 58.3 L489.7 53.7 L489.9 49.4 L490.2 45.5 L490.4 42.2 L490.7 39.4 L490.9 37.3 L491.2 36 L491.4 35.4 L491.7 35.6 L491.9 36.5 L492.2 38.2 L492.4 40.6 L492.6 43.6 L492.9 47.2 L493.1 51.2 L493.4 55.7 L493.6 60.4 L493.9 65.3 L494.1 70.2 L494.4 75 L494.6 79.6 L494.9 83.9 L495.1 87.8 L495.3 91.1 L495.6 93.9 L495.8 96 L496.1 97.3 L496.3 97.9 L496.6 97.7 L496.8 96.8 L497.1 95.1 L497.3 92.7 L497.5 89.7 L497.8 86.1 L498 82.1 L498.3 77.6 L498.5 72.9 L498.8 68 L499 63.1 L499.3 58.3 L499.5 53.7 L499.8 49.4 L500 45.5 L500.2 42.2 L500.5 39.4 L500.7 37.3 L501 36 L501.2 35.4 L501.5 35.6 L501.7 36.5 L502 38.2 L502.2 40.6 L502.5 43.6 L502.7 47.2 L502.9 51.2 L503.2 55.7 L503.4 60.4 L503.7 65.3 L503.9 70.2 L504.2 75 L504.4 79.6 L504.7 83.9 L504.9 87.8 L505.1 91.1 L505.4 93.9 L505.6 96 L505.9 97.3 L506.1 97.9 L506.4 97.7 L506.6 96.8 L506.9 95.1 L507.1 92.7 L507.4 89.7 L507.6 86.1 L507.8 82.1 L508.1 77.6 L508.3 72.9 L508.6 68 L508.8 63.1 L509.1 58.3 L509.3 53.7 L509.6 49.4 L509.8 45.5 L510.1 42.2 L510.3 39.4 L510.5 37.3 L510.8 36 L511 35.4 L511.3 35.6 L511.5 36.5 L511.8 38.2 L512 40.6 L512.3 43.6 L512.5 47.2 L512.7 51.2 L513 55.7 L513.2 60.4 L513.5 65.3 L513.7 70.2 L514 75 L514.2 79.6 L514.5 83.9 L514.7 87.8 L515 91.1 L515.2 93.9 L515.4 96 L515.7 97.3 L515.9 97.9 L516.2 97.7 L516.4 96.8 L516.7 95.1 L516.9 92.7 L517.2 89.7 L517.4 86.1 L517.7 82.1 L517.9 77.6 L518.1 72.9 L518.4 68 L518.6 63.1 L518.9 58.3 L519.1 53.7 L519.4 49.4 L519.6 45.5 L519.9 42.2 L520.1 39.4 L520.3 37.3 L520.6 36 L520.8 35.4 L521.1 35.6 L521.3 36.5 L521.6 38.2 L521.8 40.6 L522.1 43.6 L522.3 47.2 L522.6 51.2 L522.8 55.7 L523 60.4 L523.3 65.3 L523.5 70.2 L523.8 75 L524 79.6 L524.3 83.9 L524.5 87.8 L524.8 91.1 L525 93.9 L525.3 96 L525.5 97.3 L525.7 97.9 L526 97.7 L526.2 96.8 L526.5 95.1 L526.7 92.7 L527 89.7 L527.2 86.1 L527.5 82.1 L527.7 77.6 L527.9 72.9 L528.2 68 L528.4 63.1 L528.7 58.3 L528.9 53.7 L529.2 49.4 L529.4 45.5 L529.7 42.2 L529.9 39.4 L530.2 37.3 L530.4 36 L530.6 35.4 L530.9 35.6 L531.1 36.5 L531.4 38.2 L531.6 40.6 L531.9 43.6 L532.1 47.2 L532.4 51.2 L532.6 55.7 L532.9 60.4 L533.1 65.3 L533.3 70.2 L533.6 75 L533.8 79.6 L534.1 83.9 L534.3 87.8 L534.6 91.1 L534.8 93.9 L535.1 96 L535.3 97.3 L535.5 97.9 L535.8 97.7 L536 96.8 L536.3 95.1 L536.5 92.7 L536.8 89.7 L537 86.1 L537.3 82.1 L537.5 77.6 L537.8 72.9 L538 68 L538.2 63.1 L538.5 58.3 L538.7 53.7 L539 49.4 L539.2 45.5 L539.5 42.2 L539.7 39.4 L540 37.3 L540.2 36 L540.5 35.4 L540.7 35.6 L540.9 36.5 L541.2 38.2 L541.4 40.6 L541.7 43.6 L541.9 47.2 L542.2 51.2 L542.4 55.7 L542.7 60.4 L542.9 65.3 L543.1 70.2 L543.4 75 L543.6 79.6 L543.9 83.9 L544.1 87.8 L544.4 91.1 L544.6 93.9 L544.9 96 L545.1 97.3 L545.4 97.9 L545.6 97.7" stroke="#00ee00" stroke-width="1.8" fill="none" stroke-linejoin="round"/>
<path d="M388.7 66.7 L388.9 64.9 L389.2 63.2 L389.4 61.5 L389.7 59.8 L389.9 58.1 L390.2 56.5 L390.4 54.9 L390.7 53.4 L390.9 51.9 L391.2 50.4 L391.4 49.1 L391.6 47.8 L391.9 46.6 L392.1 45.5 L392.4 44.4 L392.6 43.5 L392.9 42.7 L393.1 41.9 L393.4 41.3 L393.6 40.7 L393.8 40.3 L394.1 40 L394.3 39.8 L394.6 39.7 L394.8 39.8 L395.1 40.5 L395.3 41.9 L395.6 43.9 L395.8 46.4 L396.1 49.4 L396.3 52.9 L396.5 56.7 L396.8 60.8 L397 65 L397.3 69.1 L397.5 73.1 L397.8 76.9 L398 80.5 L398.3 83.7 L398.5 86.5 L398.8 88.8 L399 90.6 L399.2 91.8 L399.5 92.4 L399.7 92.3 L400 91.6 L400.2 90.3 L400.5 88.4 L400.7 86 L401 83.1 L401.2 79.8 L401.4 76.1 L401.7 72.3 L401.9 68.3 L402.2 64 L402.4 59.5 L402.7 55.3 L402.9 51.3 L403.2 47.7 L403.4 44.6 L403.7 42 L403.9 40 L404.1 38.7 L404.4 38.1 L404.6 38.1 L404.9 38.9 L405.1 40.4 L405.4 42.5 L405.6 45.2 L405.9 48.4 L406.1 52.1 L406.4 56.1 L406.6 60.4 L406.8 64.9 L407.1 69.2 L407.3 73.4 L407.6 77.4 L407.8 81.1 L408.1 84.5 L408.3 87.4 L408.6 89.9 L408.8 91.7 L409 93 L409.3 93.6 L409.5 93.5 L409.8 92.8 L410 91.4 L410.3 89.4 L410.5 86.9 L410.8 83.9 L411 80.4 L411.3 76.6 L411.5 72.5 L411.7 68.3 L412 63.9 L412.2 59.4 L412.5 55.1 L412.7 51.1 L413 47.4 L413.2 44.3 L413.5 41.7 L413.7 39.7 L414 38.3 L414.2 37.7 L414.4 37.7 L414.7 38.5 L414.9 40 L415.2 42.1 L415.4 44.9 L415.7 48.1 L415.9 51.9 L416.2 56 L416.4 60.3 L416.6 64.8 L416.9 69.3 L417.1 73.8 L417.4 78 L417.6 82 L417.9 85.6 L418.1 88.7 L418.4 91.3 L418.6 93.3 L418.9 94.6 L419.1 95.2 L419.3 95.2 L419.6 94.4 L419.8 92.9 L420.1 90.8 L420.3 88.1 L420.6 84.9 L420.8 81.2 L421.1 77.2 L421.3 72.9 L421.6 68.4 L421.8 63.8 L422 59.2 L422.3 54.8 L422.5 50.7 L422.8 46.9 L423 43.6 L423.3 41 L423.5 38.9 L423.8 37.5 L424 36.9 L424.2 36.9 L424.5 37.7 L424.7 39.2 L425 41.4 L425.2 44.3 L425.5 47.6 L425.7 51.5 L426 55.7 L426.2 60.1 L426.5 64.8 L426.7 69.4 L426.9 74 L427.2 78.3 L427.4 82.4 L427.7 86.1 L427.9 89.3 L428.2 92 L428.4 94 L428.7 95.4 L428.9 96 L429.2 96 L429.4 95.2 L429.6 93.7 L429.9 91.5 L430.1 88.7 L430.4 85.4 L430.6 81.6 L430.9 77.5 L431.1 73.1 L431.4 68.5 L431.6 63.7 L431.8 58.9 L432.1 54.3 L432.3 50 L432.6 46.1 L432.8 42.7 L433.1 39.9 L433.3 37.7 L433.6 36.3 L433.8 35.6 L434.1 35.7 L434.3 36.5 L434.5 38.1 L434.8 40.4 L435 43.3 L435.3 46.8 L435.5 50.8 L435.8 55.2 L436 59.9 L436.3 64.7 L436.5 69.5 L436.8 74.1 L437 78.5 L437.2 82.6 L437.5 86.4 L437.7 89.7 L438 92.3 L438.2 94.4 L438.5 95.8 L438.7 96.4 L439 96.4 L439.2 95.6 L439.4 94.1 L439.7 91.9 L439.9 89 L440.2 85.7 L440.4 81.8 L440.7 77.6 L440.9 73.2 L441.2 68.5 L441.4 63.8 L441.7 59 L441.9 54.5 L442.1 50.2 L442.4 46.4 L442.6 43 L442.9 40.2 L443.1 38.1 L443.4 36.7 L443.6 36 L443.9 36.1 L444.1 36.9 L444.4 38.5 L444.6 40.8 L444.8 43.6 L445.1 47.1 L445.3 51 L445.6 55.4 L445.8 60 L446.1 64.7 L446.3 69.1 L446.6 73.1 L446.8 76.9 L447 80.5 L447.3 83.7 L447.5 86.5 L447.8 88.8 L448 90.6 L448.3 91.8 L448.5 92.4 L448.8 92.3 L449 91.6 L449.3 90.3 L449.5 88.4 L449.7 86 L450 83.1 L450.2 79.8 L450.5 76.1 L450.7 72.3 L451 68.3 L451.2 64.6 L451.5 61.4 L451.7 58.2 L452 55.3 L452.2 52.6 L452.4 50.3 L452.7 48.3 L452.9 46.9 L453.2 45.9 L453.4 45.4 L453.7 45.5 L453.9 46.1 L454.2 47.1 L454.4 48.7 L454.6 50.7 L454.9 53.1 L455.1 55.8 L455.4 58.8 L455.6 62 L455.9 65.3 L456.1 68.4 L456.4 71.2 L456.6 74 L456.9 76.5 L457.1 78.8 L457.3 80.8 L457.6 82.5 L457.8 83.8 L458.1 84.6 L458.3 85 L458.6 85 L458.8 84.5 L459.1 83.5 L459.3 82.2 L459.6 80.5 L459.8 78.4 L460 76 L460.3 73.4 L460.5 70.7 L460.8 67.8 L461 64.5 L461.3 61.1 L461.5 57.7 L461.8 54.6 L462 51.8 L462.2 49.3 L462.5 47.3 L462.7 45.7 L463 44.7 L463.2 44.2 L463.5 44.3 L463.7 44.9 L464 46 L464.2 47.7 L464.5 49.8 L464.7 52.3 L464.9 55.2 L465.2 58.4 L465.4 61.7 L465.7 65.2 L465.9 68.9 L466.2 72.7 L466.4 76.2 L466.7 79.6 L466.9 82.6 L467.1 85.2 L467.4 87.4 L467.6 89.1 L467.9 90.2 L468.1 90.7 L468.4 90.7 L468.6 90 L468.9 88.8 L469.1 87 L469.4 84.8 L469.6 82 L469.8 78.9 L470.1 75.5 L470.3 71.9 L470.6 68.2 L470.8 64 L471.1 59.7 L471.3 55.6 L471.6 51.7 L471.8 48.3 L472.1 45.2 L472.3 42.7 L472.5 40.8 L472.8 39.5 L473 38.9 L473.3 39 L473.5 39.7 L473.8 41.1 L474 43.2 L474.3 45.8 L474.5 48.9 L474.7 52.5 L475 56.4 L475.2 60.6 L475.5 64.9 L475.7 69.3 L476 73.6 L476.2 77.7 L476.5 81.6 L476.7 85 L477 88.1 L477.2 90.6 L477.4 92.5 L477.7 93.8 L477.9 94.4 L478.2 94.3 L478.4 93.6 L478.7 92.2 L478.9 90.1 L479.2 87.5 L479.4 84.4 L479.7 80.8 L479.9 76.9 L480.1 72.7 L480.4 68.4 L480.6 63.9 L480.9 59.4 L481.1 55.1 L481.4 51.1 L481.6 47.4 L481.9 44.3 L482.1 41.7 L482.3 39.7 L482.6 38.3 L482.8 37.7 L483.1 37.7 L483.3 38.5 L483.6 40 L483.8 42.1 L484.1 44.9 L484.3 48.1 L484.6 51.9 L484.8 56 L485 60.3 L485.3 64.8 L485.5 69.1 L485.8 73.1 L486 76.9 L486.3 80.5 L486.5 83.7 L486.8 86.5 L487 88.8 L487.3 90.6 L487.5 91.8 L487.7 92.4 L488 92.3 L488.2 91.6 L488.5 90.3 L488.7 88.4 L489 86 L489.2 83.1 L489.5 79.8 L489.7 76.1 L489.9 72.3 L490.2 68.3 L490.4 64.4 L490.7 60.6 L490.9 57.1 L491.2 53.7 L491.4 50.7 L491.7 48.1 L491.9 45.9 L492.2 44.2 L492.4 43.1 L492.6 42.6 L492.9 42.6 L493.1 43.3 L493.4 44.5 L493.6 46.3 L493.9 48.5 L494.1 51.3 L494.4 54.4 L494.6 57.8 L494.9 61.4 L495.1 65.1 L495.3 68.5 L495.6 71.5 L495.8 74.4 L496.1 77.2 L496.3 79.6 L496.6 81.8 L496.8 83.5 L497.1 84.9 L497.3 85.8 L497.5 86.2 L497.8 86.2 L498 85.7 L498.3 84.7 L498.5 83.2 L498.8 81.4 L499 79.2 L499.3 76.6 L499.5 73.9 L499.8 70.9 L500 67.9 L500.2 64.6 L500.5 61.4 L500.7 58.2 L501 55.3 L501.2 52.6 L501.5 50.3 L501.7 48.3 L502 46.9 L502.2 45.9 L502.5 45.4 L502.7 45.5 L502.9 46.1 L503.2 47.1 L503.4 48.7 L503.7 50.7 L503.9 53.1 L504.2 55.8 L504.4 58.8 L504.7 62 L504.9 65.3 L505.1 68.8 L505.4 72.3 L505.6 75.7 L505.9 78.9 L506.1 81.8 L506.4 84.3 L506.6 86.4 L506.9 87.9 L507.1 89 L507.4 89.5 L507.6 89.5 L507.8 88.8 L508.1 87.7 L508.3 86 L508.6 83.8 L508.8 81.2 L509.1 78.3 L509.3 75.1 L509.6 71.6 L509.8 68.1 L510.1 64.3 L510.3 60.3 L510.5 56.6 L510.8 53.1 L511 49.9 L511.3 47.1 L511.5 44.8 L511.8 43.1 L512 41.9 L512.3 41.3 L512.5 41.4 L512.7 42.1 L513 43.4 L513.2 45.2 L513.5 47.6 L513.7 50.5 L514 53.7 L514.2 57.3 L514.5 61.1 L514.7 65.1 L515 69.2 L515.2 73.4 L515.4 77.4 L515.7 81.1 L515.9 84.5 L516.2 87.4 L516.4 89.9 L516.7 91.7 L516.9 93 L517.2 93.6 L517.4 93.5 L517.7 92.8 L517.9 91.4 L518.1 89.4 L518.4 86.9 L518.6 83.9 L518.9 80.4 L519.1 76.6 L519.4 72.5 L519.6 68.3 L519.9 64 L520.1 59.7 L520.3 55.6 L520.6 51.7 L520.8 48.3 L521.1 45.2 L521.3 42.7 L521.6 40.8 L521.8 39.5 L522.1 38.9 L522.3 39 L522.6 39.7 L522.8 41.1 L523 43.2 L523.3 45.8 L523.5 48.9 L523.8 52.5 L524 56.4 L524.3 60.6 L524.5 64.9 L524.8 68.9 L525 72.7 L525.3 76.2 L525.5 79.6 L525.7 82.6 L526 85.2 L526.2 87.4 L526.5 89.1 L526.7 90.2 L527 90.7 L527.2 90.7 L527.5 90 L527.7 88.8 L527.9 87 L528.2 84.8 L528.4 82 L528.7 78.9 L528.9 75.5 L529.2 71.9 L529.4 68.2 L529.7 64.2 L529.9 60.1 L530.2 56.3 L530.4 52.6 L530.6 49.3 L530.9 46.5 L531.1 44.1 L531.4 42.3 L531.6 41.1 L531.9 40.5 L532.1 40.6 L532.4 41.3 L532.6 42.6 L532.9 44.5 L533.1 47 L533.3 50 L533.6 53.3 L533.8 57 L534.1 60.9 L534.3 65 L534.6 68.8 L534.8 72.3 L535.1 75.7 L535.3 78.9 L535.5 81.8 L535.8 84.3 L536 86.4 L536.3 87.9 L536.5 89 L536.8 89.5 L537 89.5 L537.3 88.8 L537.5 87.7 L537.8 86 L538 83.8 L538.2 81.2 L538.5 78.3 L538.7 75.1 L539 71.6 L539.2 68.1 L539.5 64.6 L539.7 61.2 L540 57.9 L540.2 54.8 L540.5 52 L540.7 49.6 L540.9 47.6 L541.2 46.1 L541.4 45.1 L541.7 44.6 L541.9 44.7 L542.2 45.3 L542.4 46.4 L542.7 48 L542.9 50.1 L543.1 52.6 L543.4 55.4 L543.6 58.5 L543.9 61.8 L544.1 65.3 L544.4 68.8 L544.6 72.2 L544.9 75.6 L545.1 78.7 L545.4 81.5 L545.6 84" stroke="#6464ff" stroke-width="1.3" fill="none" stroke-linejoin="round"/>
<circle cx="388.7" cy="66.7" r="1.3" fill="#7878ff"/>
<path d="M388.7 66.7 L388.9 60.3 L389.2 54 L389.4 48.1 L389.7 42.6 L389.9 37.7 L390.2 33.6 L390.4 30.2 L390.7 27.8 L390.9 26.3 L391.2 25.8 L391.4 26.3 L391.6 27.8 L391.9 30.2 L392.1 33.6 L392.4 37.7 L392.6 42.6 L392.9 48.1 L393.1 54 L393.4 60.3 L393.6 66.6 L393.8 73 L394.1 79.3 L394.3 85.2 L394.6 90.7 L394.8 95.6 L395.1 99.7 L395.3 103.1 L395.6 105.5 L395.8 107 L396.1 107.5 L396.3 107 L396.5 105.5 L396.8 103.1 L397 99.7 L397.3 95.6 L397.5 90.7 L397.8 85.2 L398 79.3 L398.3 73 L398.5 66.7 L398.8 60.3 L399 54 L399.2 48.1 L399.5 42.6 L399.7 37.7 L400 33.6 L400.2 30.2 L400.5 27.8 L400.7 26.3 L401 25.8 L401.2 26.3 L401.4 27.8 L401.7 30.2 L401.9 33.6 L402.2 37.7 L402.4 42.6 L402.7 48.1 L402.9 54 L403.2 60.3 L403.4 66.6 L403.7 73 L403.9 79.3 L404.1 85.2 L404.4 90.7 L404.6 95.6 L404.9 99.7 L405.1 103.1 L405.4 105.5 L405.6 107 L405.9 107.5 L406.1 107 L406.4 105.5 L406.6 103.1 L406.8 99.7 L407.1 95.6 L407.3 90.7 L407.6 85.2 L407.8 79.3 L408.1 73 L408.3 66.7 L408.6 60.3 L408.8 54 L409 48.1 L409.3 42.6 L409.5 37.7 L409.8 33.6 L410 30.2 L410.3 27.8 L410.5 26.3 L410.8 25.8 L411 26.3 L411.3 27.8 L411.5 30.2 L411.7 33.6 L412 37.7 L412.2 42.6 L412.5 48.1 L412.7 54 L413 60.3 L413.2 66.6 L413.5 73 L413.7 79.3 L414 85.2 L414.2 90.7 L414.4 95.6 L414.7 99.7 L414.9 103.1 L415.2 105.5 L415.4 107 L415.7 107.5 L415.9 107 L416.2 105.5 L416.4 103.1 L416.6 99.7 L416.9 95.6 L417.1 90.7 L417.4 85.2 L417.6 79.3 L417.9 73 L418.1 66.7 L418.4 60.3 L418.6 54 L418.9 48.1 L419.1 42.6 L419.3 37.7 L419.6 33.6 L419.8 30.2 L420.1 27.8 L420.3 26.3 L420.6 25.8 L420.8 26.3 L421.1 27.8 L421.3 30.2 L421.6 33.6 L421.8 37.7 L422 42.6 L422.3 48.1 L422.5 54 L422.8 60.3 L423 66.6 L423.3 73 L423.5 79.3 L423.8 85.2 L424 90.7 L424.2 95.6 L424.5 99.7 L424.7 103.1 L425 105.5 L425.2 107 L425.5 107.5 L425.7 107 L426 105.5 L426.2 103.1 L426.5 99.7 L426.7 95.6 L426.9 90.7 L427.2 85.2 L427.4 79.3 L427.7 73 L427.9 66.7 L428.2 60.3 L428.4 54 L428.7 48.1 L428.9 42.6 L429.2 37.7 L429.4 33.6 L429.6 30.2 L429.9 27.8 L430.1 26.3 L430.4 25.8 L430.6 26.3 L430.9 27.8 L431.1 30.2 L431.4 33.6 L431.6 37.7 L431.8 42.6 L432.1 48.1 L432.3 54 L432.6 60.3 L432.8 66.6 L433.1 73 L433.3 79.3 L433.6 85.2 L433.8 90.7 L434.1 95.6 L434.3 99.7 L434.5 103.1 L434.8 105.5 L435 107 L435.3 107.5 L435.5 107 L435.8 105.5 L436 103.1 L436.3 99.7 L436.5 95.6 L436.8 90.7 L437 85.2 L437.2 79.3 L437.5 73 L437.7 66.7 L438 60.3 L438.2 54 L438.5 48.1 L438.7 42.6 L439 37.7 L439.2 33.6 L439.4 30.2 L439.7 27.8 L439.9 26.3 L440.2 25.8 L440.4 26.3 L440.7 27.8 L440.9 30.2 L441.2 33.6 L441.4 37.7 L441.7 42.6 L441.9 48.1 L442.1 54 L442.4 60.3 L442.6 66.6 L442.9 73 L443.1 79.3 L443.4 85.2 L443.6 90.7 L443.9 95.6 L444.1 99.7 L444.4 103.1 L444.6 105.5 L444.8 107 L445.1 107.5 L445.3 107 L445.6 105.5 L445.8 103.1 L446.1 99.7 L446.3 95.6 L446.6 90.7 L446.8 85.2 L447 79.3 L447.3 73 L447.5 66.7 L447.8 60.3 L448 54 L448.3 48.1 L448.5 42.6 L448.8 37.7 L449 33.6 L449.3 30.2 L449.5 27.8 L449.7 26.3 L450 25.8 L450.2 26.3 L450.5 27.8 L450.7 30.2 L451 33.6 L451.2 37.7 L451.5 42.6 L451.7 48.1 L452 54 L452.2 60.3 L452.4 66.7 L452.7 73 L452.9 79.3 L453.2 85.2 L453.4 90.7 L453.7 95.6 L453.9 99.7 L454.2 103.1 L454.4 105.5 L454.6 107 L454.9 107.5 L455.1 107 L455.4 105.5 L455.6 103.1 L455.9 99.7 L456.1 95.6 L456.4 90.7 L456.6 85.2 L456.9 79.3 L457.1 73 L457.3 66.7 L457.6 60.3 L457.8 54 L458.1 48.1 L458.3 42.6 L458.6 37.7 L458.8 33.6 L459.1 30.2 L459.3 27.8 L459.6 26.3 L459.8 25.8 L460 26.3 L460.3 27.8 L460.5 30.2 L460.8 33.6 L461 37.7 L461.3 42.6 L461.5 48.1 L461.8 54 L462 60.3 L462.2 66.6 L462.5 73 L462.7 79.3 L463 85.2 L463.2 90.7 L463.5 95.6 L463.7 99.7 L464 103.1 L464.2 105.5 L464.5 107 L464.7 107.5 L464.9 107 L465.2 105.5 L465.4 103.1 L465.7 99.7 L465.9 95.6 L466.2 90.7 L466.4 85.2 L466.7 79.3 L466.9 73 L467.1 66.7 L467.4 60.3 L467.6 54 L467.9 48.1 L468.1 42.6 L468.4 37.7 L468.6 33.6 L468.9 30.2 L469.1 27.8 L469.4 26.3 L469.6 25.8 L469.8 26.3 L470.1 27.8 L470.3 30.2 L470.6 33.6 L470.8 37.7 L471.1 42.6 L471.3 48.1 L471.6 54 L471.8 60.3 L472.1 66.7 L472.3 73 L472.5 79.3 L472.8 85.2 L473 90.7 L473.3 95.6 L473.5 99.7 L473.8 103.1 L474 105.5 L474.3 107 L474.5 107.5 L474.7 107 L475 105.5 L475.2 103.1 L475.5 99.7 L475.7 95.6 L476 90.7 L476.2 85.2 L476.5 79.3 L476.7 73 L477 66.7 L477.2 60.3 L477.4 54 L477.7 48.1 L477.9 42.6 L478.2 37.7 L478.4 33.6 L478.7 30.2 L478.9 27.8 L479.2 26.3 L479.4 25.8 L479.7 26.3 L479.9 27.8 L480.1 30.2 L480.4 33.6 L480.6 37.7 L480.9 42.6 L481.1 48.1 L481.4 54 L481.6 60.3 L481.9 66.6 L482.1 73 L482.3 79.3 L482.6 85.2 L482.8 90.7 L483.1 95.6 L483.3 99.7 L483.6 103.1 L483.8 105.5 L484.1 107 L484.3 107.5 L484.6 107 L484.8 105.5 L485 103.1 L485.3 99.7 L485.5 95.6 L485.8 90.7 L486 85.2 L486.3 79.3 L486.5 73 L486.8 66.7 L487 60.3 L487.3 54 L487.5 48.1 L487.7 42.6 L488 37.7 L488.2 33.6 L488.5 30.2 L488.7 27.8 L489 26.3 L489.2 25.8 L489.5 26.3 L489.7 27.8 L489.9 30.2 L490.2 33.6 L490.4 37.7 L490.7 42.6 L490.9 48.1 L491.2 54 L491.4 60.3 L491.7 66.7 L491.9 73 L492.2 79.3 L492.4 85.2 L492.6 90.7 L492.9 95.6 L493.1 99.7 L493.4 103.1 L493.6 105.5 L493.9 107 L494.1 107.5 L494.4 107 L494.6 105.5 L494.9 103.1 L495.1 99.7 L495.3 95.6 L495.6 90.7 L495.8 85.2 L496.1 79.3 L496.3 73 L496.6 66.7 L496.8 60.3 L497.1 54 L497.3 48.1 L497.5 42.6 L497.8 37.7 L498 33.6 L498.3 30.2 L498.5 27.8 L498.8 26.3 L499 25.8 L499.3 26.3 L499.5 27.8 L499.8 30.2 L500 33.6 L500.2 37.7 L500.5 42.6 L500.7 48.1 L501 54 L501.2 60.3 L501.5 66.6 L501.7 73 L502 79.3 L502.2 85.2 L502.5 90.7 L502.7 95.6 L502.9 99.7 L503.2 103.1 L503.4 105.5 L503.7 107 L503.9 107.5 L504.2 107 L504.4 105.5 L504.7 103.1 L504.9 99.7 L505.1 95.6 L505.4 90.7 L505.6 85.2 L505.9 79.3 L506.1 73 L506.4 66.7 L506.6 60.3 L506.9 54 L507.1 48.1 L507.4 42.6 L507.6 37.7 L507.8 33.6 L508.1 30.2 L508.3 27.8 L508.6 26.3 L508.8 25.8 L509.1 26.3 L509.3 27.8 L509.6 30.2 L509.8 33.6 L510.1 37.7 L510.3 42.6 L510.5 48.1 L510.8 54 L511 60.3 L511.3 66.7 L511.5 73 L511.8 79.3 L512 85.2 L512.3 90.7 L512.5 95.6 L512.7 99.7 L513 103.1 L513.2 105.5 L513.5 107 L513.7 107.5 L514 107 L514.2 105.5 L514.5 103.1 L514.7 99.7 L515 95.6 L515.2 90.7 L515.4 85.2 L515.7 79.3 L515.9 73 L516.2 66.6 L516.4 60.3 L516.7 54 L516.9 48.1 L517.2 42.6 L517.4 37.7 L517.7 33.6 L517.9 30.2 L518.1 27.8 L518.4 26.3 L518.6 25.8 L518.9 26.3 L519.1 27.8 L519.4 30.2 L519.6 33.6 L519.9 37.7 L520.1 42.6 L520.3 48.1 L520.6 54 L520.8 60.3 L521.1 66.6 L521.3 73 L521.6 79.3 L521.8 85.2 L522.1 90.7 L522.3 95.6 L522.6 99.7 L522.8 103.1 L523 105.5 L523.3 107 L523.5 107.5 L523.8 107 L524 105.5 L524.3 103.1 L524.5 99.7 L524.8 95.6 L525 90.7 L525.3 85.2 L525.5 79.3 L525.7 73 L526 66.7 L526.2 60.3 L526.5 54 L526.7 48.1 L527 42.6 L527.2 37.7 L527.5 33.6 L527.7 30.2 L527.9 27.8 L528.2 26.3 L528.4 25.8 L528.7 26.3 L528.9 27.8 L529.2 30.2 L529.4 33.6 L529.7 37.7 L529.9 42.6 L530.2 48.1 L530.4 54 L530.6 60.3 L530.9 66.7 L531.1 73 L531.4 79.3 L531.6 85.2 L531.9 90.7 L532.1 95.6 L532.4 99.7 L532.6 103.1 L532.9 105.5 L533.1 107 L533.3 107.5 L533.6 107 L533.8 105.5 L534.1 103.1 L534.3 99.7 L534.6 95.6 L534.8 90.7 L535.1 85.2 L535.3 79.3 L535.5 73 L535.8 66.7 L536 60.3 L536.3 54 L536.5 48.1 L536.8 42.6 L537 37.7 L537.3 33.6 L537.5 30.2 L537.8 27.8 L538 26.3 L538.2 25.8 L538.5 26.3 L538.7 27.8 L539 30.2 L539.2 33.6 L539.5 37.7 L539.7 42.6 L540 48.1 L540.2 54 L540.5 60.3 L540.7 66.6 L540.9 73 L541.2 79.3 L541.4 85.2 L541.7 90.7 L541.9 95.6 L542.2 99.7 L542.4 103.1 L542.7 105.5 L542.9 107 L543.1 107.5 L543.4 107 L543.6 105.5 L543.9 103.1 L544.1 99.7 L544.4 95.6 L544.6 90.7 L544.9 85.2 L545.1 79.3 L545.4 73 L545.6 66.7" stroke="#000" stroke-width="2.2" fill="none" stroke-linecap="round" stroke-dasharray="0 3.7"/>
</g>
<rect x="493.5" y="10.3" width="48" height="23.3" fill="#fff" stroke="#bbb" stroke-width="0.6"/>
<circle cx="496.4" cy="14.5" r="1.1" fill="#000"/>
<circle cx="500.2" cy="14.5" r="1.1" fill="#000"/>
<circle cx="504" cy="14.5" r="1.1" fill="#000"/>
<path d="M495.3 22.5 H506.1" stroke="#00ee00" stroke-width="1.4"/>
<path d="M495.3 30.2 H506.1" stroke="#8080ff" stroke-width="0.6" stroke-dasharray="1.5 0.8"/>
<circle cx="501.3" cy="30.2" r="1.4" fill="#a0a0ff" stroke="#8080ff" stroke-width="0.4"/>
<text x="507.5" y="16.8" class="lg" textLength="26.2" lengthAdjust="spacingAndGlyphs">Command</text>
<text x="507.5" y="24.8" class="lg" textLength="26.2" lengthAdjust="spacingAndGlyphs">Reference</text>
<text x="507.5" y="32.5" class="lg" textLength="31.6" lengthAdjust="spacingAndGlyphs">Adaptive On</text>
<rect x="407.6" y="111.2" width="118.6" height="12.8" fill="#fff" stroke="#3a3a3a" stroke-width="1.1"/>
<text x="466.9" y="120.3" text-anchor="middle" class="bx" textLength="103.6" lengthAdjust="spacingAndGlyphs">Upper-bound of Bandwidth : 11 Hz</text>
<rect x="388.7" y="149.2" width="156.9" height="123.1" fill="none" stroke="#a6a6a6" stroke-width="0.8"/>
<path d="M388.7 272.3 v-1.7 M388.7 149.2 v1.7 M408.3 272.3 v-1.7 M408.3 149.2 v1.7 M427.9 272.3 v-1.7 M427.9 149.2 v1.7 M447.5 272.3 v-1.7 M447.5 149.2 v1.7 M467.1 272.3 v-1.7 M467.1 149.2 v1.7 M486.8 272.3 v-1.7 M486.8 149.2 v1.7 M506.4 272.3 v-1.7 M506.4 149.2 v1.7 M526 272.3 v-1.7 M526 149.2 v1.7 M545.6 272.3 v-1.7 M545.6 149.2 v1.7 M388.7 266.7 h1.7 M545.6 266.7 h-1.7 M388.7 255.5 h1.7 M545.6 255.5 h-1.7 M388.7 244.3 h1.7 M545.6 244.3 h-1.7 M388.7 233.1 h1.7 M545.6 233.1 h-1.7 M388.7 221.9 h1.7 M545.6 221.9 h-1.7 M388.7 210.8 h1.7 M545.6 210.8 h-1.7 M388.7 199.6 h1.7 M545.6 199.6 h-1.7 M388.7 188.4 h1.7 M545.6 188.4 h-1.7 M388.7 177.2 h1.7 M545.6 177.2 h-1.7 M388.7 166 h1.7 M545.6 166 h-1.7 M388.7 154.8 h1.7 M545.6 154.8 h-1.7" stroke="#8c8c8c" stroke-width="0.7" fill="none"/>
<text x="388.7" y="279.6" text-anchor="middle" class="tk">0.1</text>
<text x="408.3" y="279.6" text-anchor="middle" class="tk">0.15</text>
<text x="427.9" y="279.6" text-anchor="middle" class="tk">0.2</text>
<text x="447.5" y="279.6" text-anchor="middle" class="tk">0.25</text>
<text x="467.1" y="279.6" text-anchor="middle" class="tk">0.3</text>
<text x="486.8" y="279.6" text-anchor="middle" class="tk">0.35</text>
<text x="506.4" y="279.6" text-anchor="middle" class="tk">0.4</text>
<text x="526" y="279.6" text-anchor="middle" class="tk">0.45</text>
<text x="545.6" y="279.6" text-anchor="middle" class="tk">0.5</text>
<text x="386.5" y="269.2" text-anchor="end" class="tk">-10</text>
<text x="386.5" y="258" text-anchor="end" class="tk">-8</text>
<text x="386.5" y="246.8" text-anchor="end" class="tk">-6</text>
<text x="386.5" y="235.6" text-anchor="end" class="tk">-4</text>
<text x="386.5" y="224.4" text-anchor="end" class="tk">-2</text>
<text x="386.5" y="213.2" text-anchor="end" class="tk">0</text>
<text x="386.5" y="202.1" text-anchor="end" class="tk">2</text>
<text x="386.5" y="190.9" text-anchor="end" class="tk">4</text>
<text x="386.5" y="179.7" text-anchor="end" class="tk">6</text>
<text x="386.5" y="168.5" text-anchor="end" class="tk">8</text>
<text x="386.5" y="157.3" text-anchor="end" class="tk">10</text>
<text x="467.3" y="288.4" text-anchor="middle" class="lab" textLength="27.8" lengthAdjust="spacingAndGlyphs">Time&#160;&#160;(s)</text>
<text transform="translate(375.5 210.8) rotate(-90)" text-anchor="middle" class="lab" textLength="35.6" lengthAdjust="spacingAndGlyphs">Current&#160;&#160;(A)</text>
<g clip-path="url(#cb2)">
<path d="M388.7 194.2 L389.2 190 L389.7 185.9 L390.2 181.8 L390.7 177.9 L391.2 174.1 L391.6 170.5 L392.1 167 L392.6 163.6 L393.1 160.5 L393.6 158.2 L394.1 158.2 L394.6 158.2 L395.1 158.2 L395.6 158.2 L396.1 158.2 L396.5 158.2 L397 158.2 L397.5 158.2 L398 158.2 L398.5 158.2 L399 158.2 L399.5 158.2 L400 158.2 L400.5 158.2 L401 158.2 L401.4 158.2 L401.9 158.2 L402.4 158.2 L402.9 158.2 L403.4 158.2 L403.9 158.2 L404.4 158.2 L404.9 158.2 L405.4 160.3 L405.9 163.4 L406.4 166.7 L406.8 170.2 L407.3 173.9 L407.8 177.7 L408.3 181.6 L408.8 185.6 L409.3 189.8 L409.8 194 L410.3 198.2 L410.8 202.6 L411.3 206.9 L411.7 211.3 L412.2 215.6 L412.7 220 L413.2 224.3 L413.7 228.6 L414.2 232.7 L414.7 236.9 L415.2 240.9 L415.7 244.7 L416.2 248.5 L416.6 252.1 L417.1 255.6 L417.6 258.9 L418.1 262 L418.6 263.3 L419.1 263.3 L419.6 263.3 L420.1 263.3 L420.6 263.3 L421.1 263.3 L421.6 263.3 L422 263.3 L422.5 263.3 L423 263.3 L423.5 263.3 L424 263.3 L424.5 263.3 L425 263.3 L425.5 263.3 L426 263.3 L426.5 263.3 L426.9 263.3 L427.4 263.3 L427.9 263.3 L428.4 263.3 L428.9 263.3 L429.4 263.3 L429.9 263.3 L430.4 260.3 L430.9 257.1 L431.4 253.7 L431.8 250.2 L432.3 246.5 L432.8 242.7 L433.3 238.7 L433.8 234.6 L434.3 230.5 L434.8 226.3 L435.3 222 L435.8 217.6 L436.3 213.3 L436.8 208.9 L437.2 204.5 L437.7 200.2 L438.2 195.9 L438.7 191.7 L439.2 187.5 L439.7 183.4 L440.2 179.5 L440.7 175.6 L441.2 171.9 L441.7 168.3 L442.1 164.9 L442.6 161.7 L443.1 158.6 L443.6 158.2 L444.1 158.2 L444.6 158.2 L445.1 158.2 L445.6 158.2 L446.1 158.2 L446.6 158.2 L447 158.2 L447.5 158.2 L448 158.2 L448.5 158.2 L449 158.2 L449.5 158.2 L450 158.2 L450.5 158.2 L451 158.2 L451.5 158.2 L452 158.2 L452.4 158.2 L452.9 158.2 L453.4 158.2 L453.9 158.2 L454.4 158.2 L454.9 159.1 L455.4 162.1 L455.9 165.4 L456.4 168.8 L456.9 172.4 L457.3 176.2 L457.8 180 L458.3 184 L458.8 188.1 L459.3 192.3 L459.8 196.5 L460.3 200.8 L460.8 205.2 L461.3 209.6 L461.8 213.9 L462.2 218.3 L462.7 222.6 L463.2 226.9 L463.7 231.1 L464.2 235.2 L464.7 239.3 L465.2 243.2 L465.7 247 L466.2 250.7 L466.7 254.2 L467.1 257.6 L467.6 260.8 L468.1 263.3 L468.6 263.3 L469.1 263.3 L469.6 263.3 L470.1 263.3 L470.6 263.3 L471.1 263.3 L471.6 263.3 L472.1 263.3 L472.5 263.3 L473 263.3 L473.5 263.3 L474 263.3 L474.5 263.3 L475 263.3 L475.5 263.3 L476 263.3 L476.5 263.3 L477 263.3 L477.4 263.3 L477.9 263.3 L478.4 263.3 L478.9 263.3 L479.4 263.3 L479.9 261.5 L480.4 258.4 L480.9 255.1 L481.4 251.6 L481.9 248 L482.3 244.2 L482.8 240.3 L483.3 236.2 L483.8 232.1 L484.3 227.9 L484.8 223.7 L485.3 219.3 L485.8 215 L486.3 210.6 L486.8 206.3 L487.3 201.9 L487.7 197.6 L488.2 193.3 L488.7 189.1 L489.2 185 L489.7 181 L490.2 177.1 L490.7 173.3 L491.2 169.7 L491.7 166.2 L492.2 162.9 L492.6 159.8 L493.1 158.2 L493.6 158.2 L494.1 158.2 L494.6 158.2 L495.1 158.2 L495.6 158.2 L496.1 158.2 L496.6 158.2 L497.1 158.2 L497.5 158.2 L498 158.2 L498.5 158.2 L499 158.2 L499.5 158.2 L500 158.2 L500.5 158.2 L501 158.2 L501.5 158.2 L502 158.2 L502.5 158.2 L502.9 158.2 L503.4 158.2 L503.9 158.2 L504.4 158.2 L504.9 160.9 L505.4 164.1 L505.9 167.5 L506.4 171 L506.9 174.7 L507.4 178.5 L507.8 182.4 L508.3 186.5 L508.8 190.6 L509.3 194.9 L509.8 199.1 L510.3 203.5 L510.8 207.8 L511.3 212.2 L511.8 216.6 L512.3 220.9 L512.7 225.2 L513.2 229.4 L513.7 233.6 L514.2 237.7 L514.7 241.7 L515.2 245.6 L515.7 249.3 L516.2 252.9 L516.7 256.3 L517.2 259.5 L517.7 262.6 L518.1 263.3 L518.6 263.3 L519.1 263.3 L519.6 263.3 L520.1 263.3 L520.6 263.3 L521.1 263.3 L521.6 263.3 L522.1 263.3 L522.6 263.3 L523 263.3 L523.5 263.3 L524 263.3 L524.5 263.3 L525 263.3 L525.5 263.3 L526 263.3 L526.5 263.3 L527 263.3 L527.5 263.3 L527.9 263.3 L528.4 263.3 L528.9 263.3 L529.4 262.7 L529.9 259.6 L530.4 256.4 L530.9 253 L531.4 249.4 L531.9 245.7 L532.4 241.8 L532.9 237.8 L533.3 233.8 L533.8 229.6 L534.3 225.3 L534.8 221 L535.3 216.7 L535.8 212.3 L536.3 208 L536.8 203.6 L537.3 199.3 L537.8 195 L538.2 190.8 L538.7 186.6 L539.2 182.6 L539.7 178.6 L540.2 174.8 L540.7 171.1 L541.2 167.6 L541.7 164.2 L542.2 161 L542.7 158.2 L543.1 158.2 L543.6 158.2 L544.1 158.2 L544.6 158.2 L545.1 158.2 L545.6 158.2" stroke="#ff7070" stroke-width="0.9" fill="none" stroke-dasharray="3 1"/>
<path d="M388.7 227.3 L389.2 231.5 L389.7 235.6 L390.2 239.7 L390.7 243.6 L391.2 247.4 L391.6 251 L392.1 254.5 L392.6 257.9 L393.1 261 L393.6 263.3 L394.1 263.3 L394.6 263.3 L395.1 263.3 L395.6 263.3 L396.1 263.3 L396.5 263.3 L397 263.3 L397.5 263.3 L398 263.3 L398.5 263.3 L399 263.3 L399.5 263.3 L400 263.3 L400.5 263.3 L401 263.3 L401.4 263.3 L401.9 263.3 L402.4 263.3 L402.9 263.3 L403.4 263.3 L403.9 263.3 L404.4 263.3 L404.9 263.3 L405.4 261.2 L405.9 258.1 L406.4 254.8 L406.8 251.3 L407.3 247.6 L407.8 243.8 L408.3 239.9 L408.8 235.9 L409.3 231.7 L409.8 227.5 L410.3 223.3 L410.8 218.9 L411.3 214.6 L411.7 210.2 L412.2 205.9 L412.7 201.5 L413.2 197.2 L413.7 192.9 L414.2 188.8 L414.7 184.6 L415.2 180.6 L415.7 176.8 L416.2 173 L416.6 169.4 L417.1 165.9 L417.6 162.6 L418.1 159.5 L418.6 158.2 L419.1 158.2 L419.6 158.2 L420.1 158.2 L420.6 158.2 L421.1 158.2 L421.6 158.2 L422 158.2 L422.5 158.2 L423 158.2 L423.5 158.2 L424 158.2 L424.5 158.2 L425 158.2 L425.5 158.2 L426 158.2 L426.5 158.2 L426.9 158.2 L427.4 158.2 L427.9 158.2 L428.4 158.2 L428.9 158.2 L429.4 158.2 L429.9 158.2 L430.4 161.2 L430.9 164.4 L431.4 167.8 L431.8 171.3 L432.3 175 L432.8 178.8 L433.3 182.8 L433.8 186.9 L434.3 191 L434.8 195.2 L435.3 199.5 L435.8 203.9 L436.3 208.2 L436.8 212.6 L437.2 217 L437.7 221.3 L438.2 225.6 L438.7 229.8 L439.2 234 L439.7 238.1 L440.2 242 L440.7 245.9 L441.2 249.6 L441.7 253.2 L442.1 256.6 L442.6 259.8 L443.1 262.9 L443.6 263.3 L444.1 263.3 L444.6 263.3 L445.1 263.3 L445.6 263.3 L446.1 263.3 L446.6 263.3 L447 263.3 L447.5 263.3 L448 263.3 L448.5 263.3 L449 263.3 L449.5 263.3 L450 263.3 L450.5 263.3 L451 263.3 L451.5 263.3 L452 263.3 L452.4 263.3 L452.9 263.3 L453.4 263.3 L453.9 263.3 L454.4 263.3 L454.9 262.4 L455.4 259.4 L455.9 256.1 L456.4 252.7 L456.9 249.1 L457.3 245.3 L457.8 241.5 L458.3 237.5 L458.8 233.4 L459.3 229.2 L459.8 225 L460.3 220.7 L460.8 216.3 L461.3 211.9 L461.8 207.6 L462.2 203.2 L462.7 198.9 L463.2 194.6 L463.7 190.4 L464.2 186.3 L464.7 182.2 L465.2 178.3 L465.7 174.5 L466.2 170.8 L466.7 167.3 L467.1 163.9 L467.6 160.7 L468.1 158.2 L468.6 158.2 L469.1 158.2 L469.6 158.2 L470.1 158.2 L470.6 158.2 L471.1 158.2 L471.6 158.2 L472.1 158.2 L472.5 158.2 L473 158.2 L473.5 158.2 L474 158.2 L474.5 158.2 L475 158.2 L475.5 158.2 L476 158.2 L476.5 158.2 L477 158.2 L477.4 158.2 L477.9 158.2 L478.4 158.2 L478.9 158.2 L479.4 158.2 L479.9 160 L480.4 163.1 L480.9 166.4 L481.4 169.9 L481.9 173.5 L482.3 177.3 L482.8 181.2 L483.3 185.3 L483.8 189.4 L484.3 193.6 L484.8 197.8 L485.3 202.2 L485.8 206.5 L486.3 210.9 L486.8 215.2 L487.3 219.6 L487.7 223.9 L488.2 228.2 L488.7 232.4 L489.2 236.5 L489.7 240.5 L490.2 244.4 L490.7 248.2 L491.2 251.8 L491.7 255.3 L492.2 258.6 L492.6 261.7 L493.1 263.3 L493.6 263.3 L494.1 263.3 L494.6 263.3 L495.1 263.3 L495.6 263.3 L496.1 263.3 L496.6 263.3 L497.1 263.3 L497.5 263.3 L498 263.3 L498.5 263.3 L499 263.3 L499.5 263.3 L500 263.3 L500.5 263.3 L501 263.3 L501.5 263.3 L502 263.3 L502.5 263.3 L502.9 263.3 L503.4 263.3 L503.9 263.3 L504.4 263.3 L504.9 260.6 L505.4 257.4 L505.9 254 L506.4 250.5 L506.9 246.8 L507.4 243 L507.8 239.1 L508.3 235 L508.8 230.9 L509.3 226.6 L509.8 222.4 L510.3 218 L510.8 213.7 L511.3 209.3 L511.8 204.9 L512.3 200.6 L512.7 196.3 L513.2 192.1 L513.7 187.9 L514.2 183.8 L514.7 179.8 L515.2 175.9 L515.7 172.2 L516.2 168.6 L516.7 165.2 L517.2 162 L517.7 158.9 L518.1 158.2 L518.6 158.2 L519.1 158.2 L519.6 158.2 L520.1 158.2 L520.6 158.2 L521.1 158.2 L521.6 158.2 L522.1 158.2 L522.6 158.2 L523 158.2 L523.5 158.2 L524 158.2 L524.5 158.2 L525 158.2 L525.5 158.2 L526 158.2 L526.5 158.2 L527 158.2 L527.5 158.2 L527.9 158.2 L528.4 158.2 L528.9 158.2 L529.4 158.8 L529.9 161.9 L530.4 165.1 L530.9 168.5 L531.4 172.1 L531.9 175.8 L532.4 179.7 L532.9 183.7 L533.3 187.7 L533.8 191.9 L534.3 196.2 L534.8 200.5 L535.3 204.8 L535.8 209.2 L536.3 213.5 L536.8 217.9 L537.3 222.2 L537.8 226.5 L538.2 230.7 L538.7 234.9 L539.2 238.9 L539.7 242.9 L540.2 246.7 L540.7 250.4 L541.2 253.9 L541.7 257.3 L542.2 260.5 L542.7 263.3 L543.1 263.3 L543.6 263.3 L544.1 263.3 L544.6 263.3 L545.1 263.3 L545.6 263.3" stroke="#ff7070" stroke-width="0.9" fill="none" stroke-dasharray="3 1"/>
<path d="M388.7 206.3 L389.2 205.2 L389.7 204 L390.2 203 L390.7 201.9 L391.2 200.9 L391.6 199.9 L392.1 198.9 L392.6 198 L393.1 197.2 L393.6 196.4 L394.1 195.6 L394.6 194.9 L395.1 194.3 L395.6 193.8 L396.1 193.3 L396.5 193.1 L397 193.1 L397.5 193.1 L398 193.1 L398.5 193.1 L399 193.1 L399.5 193.1 L400 193.1 L400.5 193.1 L401 193.1 L401.4 193.1 L401.9 193.1 L402.4 193.2 L402.9 193.7 L403.4 194.3 L403.9 194.9 L404.4 195.6 L404.9 196.3 L405.4 197.1 L405.9 198 L406.4 198.9 L406.8 199.8 L407.3 200.8 L407.8 201.8 L408.3 202.9 L408.8 204 L409.3 205.1 L409.8 206.2 L410.3 207.4 L410.8 208.5 L411.3 209.7 L411.7 210.9 L412.2 212.1 L412.7 213.2 L413.2 214.4 L413.7 215.6 L414.2 216.7 L414.7 217.8 L415.2 218.9 L415.7 219.9 L416.2 220.9 L416.6 221.9 L417.1 222.8 L417.6 223.7 L418.1 224.6 L418.6 225.4 L419.1 226.1 L419.6 226.7 L420.1 227.4 L420.6 227.9 L421.1 228.4 L421.6 228.4 L422 228.4 L422.5 228.4 L423 228.4 L423.5 228.4 L424 228.4 L424.5 228.4 L425 228.4 L425.5 228.4 L426 228.4 L426.5 228.4 L426.9 228.4 L427.4 228.1 L427.9 227.6 L428.4 227 L428.9 226.4 L429.4 225.7 L429.9 224.9 L430.4 224.1 L430.9 223.3 L431.4 222.3 L431.8 221.4 L432.3 220.4 L432.8 219.4 L433.3 218.3 L433.8 217.2 L434.3 216.1 L434.8 214.9 L435.3 213.8 L435.8 212.6 L436.3 211.4 L436.8 210.3 L437.2 209.1 L437.7 207.9 L438.2 206.7 L438.7 205.6 L439.2 204.5 L439.7 203.4 L440.2 202.3 L440.7 201.3 L441.2 200.3 L441.7 199.3 L442.1 198.4 L442.6 197.5 L443.1 196.7 L443.6 195.9 L444.1 195.2 L444.6 194.6 L445.1 194 L445.6 193.5 L446.1 193.1 L446.6 193.1 L447 193.1 L447.5 193.1 L448 193.1 L448.5 193.1 L449 193.1 L449.5 193.1 L450 193.1 L450.5 193.1 L451 193.1 L451.5 193.1 L452 193.1 L452.4 193.5 L452.9 194.1 L453.4 194.7 L453.9 195.3 L454.4 196 L454.9 196.8 L455.4 197.6 L455.9 198.5 L456.4 199.4 L456.9 200.4 L457.3 201.4 L457.8 202.5 L458.3 203.5 L458.8 204.6 L459.3 205.8 L459.8 206.9 L460.3 208.1 L460.8 209.2 L461.3 210.4 L461.8 211.6 L462.2 212.8 L462.7 213.9 L463.2 215.1 L463.7 216.2 L464.2 217.4 L464.7 218.5 L465.2 219.5 L465.7 220.5 L466.2 221.5 L466.7 222.5 L467.1 223.4 L467.6 224.2 L468.1 225 L468.6 225.8 L469.1 226.5 L469.6 227.1 L470.1 227.7 L470.6 228.2 L471.1 228.4 L471.6 228.4 L472.1 228.4 L472.5 228.4 L473 228.4 L473.5 228.4 L474 228.4 L474.5 228.4 L475 228.4 L475.5 228.4 L476 228.4 L476.5 228.4 L477 228.3 L477.4 227.8 L477.9 227.3 L478.4 226.7 L478.9 226 L479.4 225.2 L479.9 224.4 L480.4 223.6 L480.9 222.7 L481.4 221.8 L481.9 220.8 L482.3 219.8 L482.8 218.7 L483.3 217.6 L483.8 216.5 L484.3 215.4 L484.8 214.2 L485.3 213.1 L485.8 211.9 L486.3 210.7 L486.8 209.5 L487.3 208.4 L487.7 207.2 L488.2 206 L488.7 204.9 L489.2 203.8 L489.7 202.7 L490.2 201.7 L490.7 200.7 L491.2 199.7 L491.7 198.7 L492.2 197.8 L492.6 197 L493.1 196.2 L493.6 195.5 L494.1 194.8 L494.6 194.2 L495.1 193.6 L495.6 193.2 L496.1 193.1 L496.6 193.1 L497.1 193.1 L497.5 193.1 L498 193.1 L498.5 193.1 L499 193.1 L499.5 193.1 L500 193.1 L500.5 193.1 L501 193.1 L501.5 193.1 L502 193.3 L502.5 193.8 L502.9 194.4 L503.4 195 L503.9 195.7 L504.4 196.5 L504.9 197.3 L505.4 198.2 L505.9 199.1 L506.4 200 L506.9 201 L507.4 202 L507.8 203.1 L508.3 204.2 L508.8 205.3 L509.3 206.5 L509.8 207.6 L510.3 208.8 L510.8 210 L511.3 211.1 L511.8 212.3 L512.3 213.5 L512.7 214.6 L513.2 215.8 L513.7 216.9 L514.2 218 L514.7 219.1 L515.2 220.1 L515.7 221.1 L516.2 222.1 L516.7 223 L517.2 223.9 L517.7 224.7 L518.1 225.5 L518.6 226.2 L519.1 226.9 L519.6 227.5 L520.1 228 L520.6 228.4 L521.1 228.4 L521.6 228.4 L522.1 228.4 L522.6 228.4 L523 228.4 L523.5 228.4 L524 228.4 L524.5 228.4 L525 228.4 L525.5 228.4 L526 228.4 L526.5 228.4 L527 228 L527.5 227.5 L527.9 226.9 L528.4 226.2 L528.9 225.5 L529.4 224.8 L529.9 223.9 L530.4 223.1 L530.9 222.1 L531.4 221.2 L531.9 220.2 L532.4 219.1 L532.9 218.1 L533.3 217 L533.8 215.8 L534.3 214.7 L534.8 213.5 L535.3 212.4 L535.8 211.2 L536.3 210 L536.8 208.8 L537.3 207.7 L537.8 206.5 L538.2 205.4 L538.7 204.2 L539.2 203.1 L539.7 202.1 L540.2 201 L540.7 200.1 L541.2 199.1 L541.7 198.2 L542.2 197.3 L542.7 196.5 L543.1 195.8 L543.6 195.1 L544.1 194.4 L544.6 193.9 L545.1 193.3 L545.6 193.1" stroke="#5a5aff" stroke-width="0.8" fill="none" stroke-dasharray="3 0.9"/>
<path d="M388.7 215.2 L389.2 216.3 L389.7 217.5 L390.2 218.5 L390.7 219.6 L391.2 220.6 L391.6 221.6 L392.1 222.6 L392.6 223.5 L393.1 224.3 L393.6 225.1 L394.1 225.9 L394.6 226.6 L395.1 227.2 L395.6 227.7 L396.1 228.2 L396.5 228.4 L397 228.4 L397.5 228.4 L398 228.4 L398.5 228.4 L399 228.4 L399.5 228.4 L400 228.4 L400.5 228.4 L401 228.4 L401.4 228.4 L401.9 228.4 L402.4 228.3 L402.9 227.8 L403.4 227.2 L403.9 226.6 L404.4 225.9 L404.9 225.2 L405.4 224.4 L405.9 223.5 L406.4 222.6 L406.8 221.7 L407.3 220.7 L407.8 219.7 L408.3 218.6 L408.8 217.5 L409.3 216.4 L409.8 215.3 L410.3 214.1 L410.8 213 L411.3 211.8 L411.7 210.6 L412.2 209.4 L412.7 208.3 L413.2 207.1 L413.7 205.9 L414.2 204.8 L414.7 203.7 L415.2 202.6 L415.7 201.6 L416.2 200.6 L416.6 199.6 L417.1 198.7 L417.6 197.8 L418.1 196.9 L418.6 196.1 L419.1 195.4 L419.6 194.8 L420.1 194.1 L420.6 193.6 L421.1 193.1 L421.6 193.1 L422 193.1 L422.5 193.1 L423 193.1 L423.5 193.1 L424 193.1 L424.5 193.1 L425 193.1 L425.5 193.1 L426 193.1 L426.5 193.1 L426.9 193.1 L427.4 193.4 L427.9 193.9 L428.4 194.5 L428.9 195.1 L429.4 195.8 L429.9 196.6 L430.4 197.4 L430.9 198.2 L431.4 199.2 L431.8 200.1 L432.3 201.1 L432.8 202.1 L433.3 203.2 L433.8 204.3 L434.3 205.4 L434.8 206.6 L435.3 207.7 L435.8 208.9 L436.3 210.1 L436.8 211.2 L437.2 212.4 L437.7 213.6 L438.2 214.8 L438.7 215.9 L439.2 217 L439.7 218.1 L440.2 219.2 L440.7 220.2 L441.2 221.2 L441.7 222.2 L442.1 223.1 L442.6 224 L443.1 224.8 L443.6 225.6 L444.1 226.3 L444.6 226.9 L445.1 227.5 L445.6 228 L446.1 228.4 L446.6 228.4 L447 228.4 L447.5 228.4 L448 228.4 L448.5 228.4 L449 228.4 L449.5 228.4 L450 228.4 L450.5 228.4 L451 228.4 L451.5 228.4 L452 228.4 L452.4 228 L452.9 227.4 L453.4 226.8 L453.9 226.2 L454.4 225.5 L454.9 224.7 L455.4 223.9 L455.9 223 L456.4 222.1 L456.9 221.1 L457.3 220.1 L457.8 219 L458.3 218 L458.8 216.9 L459.3 215.7 L459.8 214.6 L460.3 213.4 L460.8 212.3 L461.3 211.1 L461.8 209.9 L462.2 208.7 L462.7 207.6 L463.2 206.4 L463.7 205.3 L464.2 204.1 L464.7 203 L465.2 202 L465.7 201 L466.2 200 L466.7 199 L467.1 198.1 L467.6 197.3 L468.1 196.5 L468.6 195.7 L469.1 195 L469.6 194.4 L470.1 193.8 L470.6 193.3 L471.1 193.1 L471.6 193.1 L472.1 193.1 L472.5 193.1 L473 193.1 L473.5 193.1 L474 193.1 L474.5 193.1 L475 193.1 L475.5 193.1 L476 193.1 L476.5 193.1 L477 193.2 L477.4 193.7 L477.9 194.2 L478.4 194.8 L478.9 195.5 L479.4 196.3 L479.9 197.1 L480.4 197.9 L480.9 198.8 L481.4 199.7 L481.9 200.7 L482.3 201.7 L482.8 202.8 L483.3 203.9 L483.8 205 L484.3 206.1 L484.8 207.3 L485.3 208.4 L485.8 209.6 L486.3 210.8 L486.8 212 L487.3 213.1 L487.7 214.3 L488.2 215.5 L488.7 216.6 L489.2 217.7 L489.7 218.8 L490.2 219.8 L490.7 220.8 L491.2 221.8 L491.7 222.8 L492.2 223.7 L492.6 224.5 L493.1 225.3 L493.6 226 L494.1 226.7 L494.6 227.3 L495.1 227.9 L495.6 228.3 L496.1 228.4 L496.6 228.4 L497.1 228.4 L497.5 228.4 L498 228.4 L498.5 228.4 L499 228.4 L499.5 228.4 L500 228.4 L500.5 228.4 L501 228.4 L501.5 228.4 L502 228.2 L502.5 227.7 L502.9 227.1 L503.4 226.5 L503.9 225.8 L504.4 225 L504.9 224.2 L505.4 223.3 L505.9 222.4 L506.4 221.5 L506.9 220.5 L507.4 219.5 L507.8 218.4 L508.3 217.3 L508.8 216.2 L509.3 215 L509.8 213.9 L510.3 212.7 L510.8 211.5 L511.3 210.4 L511.8 209.2 L512.3 208 L512.7 206.9 L513.2 205.7 L513.7 204.6 L514.2 203.5 L514.7 202.4 L515.2 201.4 L515.7 200.4 L516.2 199.4 L516.7 198.5 L517.2 197.6 L517.7 196.8 L518.1 196 L518.6 195.3 L519.1 194.6 L519.6 194 L520.1 193.5 L520.6 193.1 L521.1 193.1 L521.6 193.1 L522.1 193.1 L522.6 193.1 L523 193.1 L523.5 193.1 L524 193.1 L524.5 193.1 L525 193.1 L525.5 193.1 L526 193.1 L526.5 193.1 L527 193.5 L527.5 194 L527.9 194.6 L528.4 195.3 L528.9 196 L529.4 196.7 L529.9 197.6 L530.4 198.4 L530.9 199.4 L531.4 200.3 L531.9 201.3 L532.4 202.4 L532.9 203.4 L533.3 204.5 L533.8 205.7 L534.3 206.8 L534.8 208 L535.3 209.1 L535.8 210.3 L536.3 211.5 L536.8 212.7 L537.3 213.8 L537.8 215 L538.2 216.1 L538.7 217.3 L539.2 218.4 L539.7 219.4 L540.2 220.5 L540.7 221.4 L541.2 222.4 L541.7 223.3 L542.2 224.2 L542.7 225 L543.1 225.7 L543.6 226.4 L544.1 227.1 L544.6 227.6 L545.1 228.2 L545.6 228.4" stroke="#5a5aff" stroke-width="0.8" fill="none" stroke-dasharray="3 0.9"/>
<g fill="none" stroke="#ff5050" stroke-width="0.5"><circle cx="390.3" cy="181.1" r="1.1"/><circle cx="390.3" cy="240.4" r="1.1"/><circle cx="396.3" cy="158.2" r="1.1"/><circle cx="396.3" cy="263.3" r="1.1"/><circle cx="402.4" cy="158.2" r="1.1"/><circle cx="402.4" cy="263.3" r="1.1"/><circle cx="408.5" cy="183.2" r="1.1"/><circle cx="408.5" cy="238.3" r="1.1"/><circle cx="414.6" cy="236" r="1.1"/><circle cx="414.6" cy="185.5" r="1.1"/><circle cx="420.7" cy="263.3" r="1.1"/><circle cx="420.7" cy="158.2" r="1.1"/><circle cx="426.7" cy="263.3" r="1.1"/><circle cx="426.7" cy="158.2" r="1.1"/><circle cx="432.8" cy="242.7" r="1.1"/><circle cx="432.8" cy="178.8" r="1.1"/><circle cx="438.9" cy="190" r="1.1"/><circle cx="438.9" cy="231.5" r="1.1"/><circle cx="445" cy="158.2" r="1.1"/><circle cx="445" cy="263.3" r="1.1"/><circle cx="451.1" cy="158.2" r="1.1"/><circle cx="451.1" cy="263.3" r="1.1"/><circle cx="457.1" cy="174.7" r="1.1"/><circle cx="457.1" cy="246.8" r="1.1"/><circle cx="463.2" cy="226.9" r="1.1"/><circle cx="463.2" cy="194.6" r="1.1"/><circle cx="469.3" cy="263.3" r="1.1"/><circle cx="469.3" cy="158.2" r="1.1"/><circle cx="475.4" cy="263.3" r="1.1"/><circle cx="475.4" cy="158.2" r="1.1"/><circle cx="481.5" cy="250.9" r="1.1"/><circle cx="481.5" cy="170.6" r="1.1"/><circle cx="487.5" cy="199.3" r="1.1"/><circle cx="487.5" cy="222.2" r="1.1"/><circle cx="493.6" cy="158.2" r="1.1"/><circle cx="493.6" cy="263.3" r="1.1"/><circle cx="499.7" cy="158.2" r="1.1"/><circle cx="499.7" cy="263.3" r="1.1"/><circle cx="505.8" cy="166.8" r="1.1"/><circle cx="505.8" cy="254.7" r="1.1"/><circle cx="511.9" cy="217.4" r="1.1"/><circle cx="511.9" cy="204.1" r="1.1"/><circle cx="517.9" cy="263.3" r="1.1"/><circle cx="517.9" cy="158.2" r="1.1"/><circle cx="524" cy="263.3" r="1.1"/><circle cx="524" cy="158.2" r="1.1"/><circle cx="530.1" cy="258.4" r="1.1"/><circle cx="530.1" cy="163.1" r="1.1"/><circle cx="536.2" cy="208.9" r="1.1"/><circle cx="536.2" cy="212.6" r="1.1"/><circle cx="542.3" cy="160.4" r="1.1"/><circle cx="542.3" cy="261.1" r="1.1"/><circle cx="548.3" cy="158.2" r="1.1"/><circle cx="548.3" cy="263.3" r="1.1"/></g>
<path d="M392.2 197.5 l1.1 1.9 h-2.2 z M392.2 221.6 l1.1 1.9 h-2.2 z M398.3 191.9 l1.1 1.9 h-2.2 z M398.3 227.2 l1.1 1.9 h-2.2 z M404.4 194.4 l1.1 1.9 h-2.2 z M404.4 224.7 l1.1 1.9 h-2.2 z M410.5 206.6 l1.1 1.9 h-2.2 z M410.5 212.5 l1.1 1.9 h-2.2 z M416.5 220.5 l1.1 1.9 h-2.2 z M416.5 198.6 l1.1 1.9 h-2.2 z M422.6 227.2 l1.1 1.9 h-2.2 z M422.6 191.9 l1.1 1.9 h-2.2 z M428.7 225.5 l1.1 1.9 h-2.2 z M428.7 193.6 l1.1 1.9 h-2.2 z M434.8 213.7 l1.1 1.9 h-2.2 z M434.8 205.4 l1.1 1.9 h-2.2 z M440.9 199.7 l1.1 1.9 h-2.2 z M440.9 219.4 l1.1 1.9 h-2.2 z M446.9 191.9 l1.1 1.9 h-2.2 z M446.9 227.2 l1.1 1.9 h-2.2 z M453 193 l1.1 1.9 h-2.2 z M453 226.1 l1.1 1.9 h-2.2 z M459.1 204.1 l1.1 1.9 h-2.2 z M459.1 215 l1.1 1.9 h-2.2 z M465.2 218.3 l1.1 1.9 h-2.2 z M465.2 200.8 l1.1 1.9 h-2.2 z M471.3 227.2 l1.1 1.9 h-2.2 z M471.3 191.9 l1.1 1.9 h-2.2 z M477.3 226.7 l1.1 1.9 h-2.2 z M477.3 192.4 l1.1 1.9 h-2.2 z M483.4 216.2 l1.1 1.9 h-2.2 z M483.4 202.9 l1.1 1.9 h-2.2 z M489.5 202 l1.1 1.9 h-2.2 z M489.5 217.1 l1.1 1.9 h-2.2 z M495.6 192 l1.1 1.9 h-2.2 z M495.6 227.1 l1.1 1.9 h-2.2 z M501.7 191.9 l1.1 1.9 h-2.2 z M501.7 227.2 l1.1 1.9 h-2.2 z M507.7 201.7 l1.1 1.9 h-2.2 z M507.7 217.4 l1.1 1.9 h-2.2 z M513.8 215.9 l1.1 1.9 h-2.2 z M513.8 203.2 l1.1 1.9 h-2.2 z M519.9 226.6 l1.1 1.9 h-2.2 z M519.9 192.5 l1.1 1.9 h-2.2 z M526 227.2 l1.1 1.9 h-2.2 z M526 191.9 l1.1 1.9 h-2.2 z M532.1 218.6 l1.1 1.9 h-2.2 z M532.1 200.5 l1.1 1.9 h-2.2 z M538.1 204.4 l1.1 1.9 h-2.2 z M538.1 214.7 l1.1 1.9 h-2.2 z M544.2 193.1 l1.1 1.9 h-2.2 z M544.2 226 l1.1 1.9 h-2.2 z M550.3 191.9 l1.1 1.9 h-2.2 z M550.3 227.2 l1.1 1.9 h-2.2 z" fill="none" stroke="#4a4aff" stroke-width="0.5"/>
</g>
<rect x="503.4" y="153.5" width="38.4" height="60.8" fill="#fff" stroke="#bbb" stroke-width="0.6"/>
<path d="M505 158.4 H514.2" stroke="#ff5050" stroke-width="0.7" stroke-dasharray="2.4 0.8"/>
<circle cx="510.1" cy="158.4" r="1.45" fill="#fff" stroke="#ff5050" stroke-width="0.6"/>
<text x="516.9" y="160.4" class="lg2" textLength="21.2" lengthAdjust="spacingAndGlyphs">Current 1</text>
<path d="M505 165.8 H514.2" stroke="#ff5050" stroke-width="0.7" stroke-dasharray="2.4 0.8"/>
<circle cx="510.1" cy="165.8" r="1.45" fill="#fff" stroke="#ff5050" stroke-width="0.6"/>
<text x="516.9" y="167.8" class="lg2" textLength="21.2" lengthAdjust="spacingAndGlyphs">Current 2</text>
<path d="M505 173.3 H514.2" stroke="#ff5050" stroke-width="0.7" stroke-dasharray="2.4 0.8"/>
<circle cx="510.1" cy="173.3" r="1.45" fill="#fff" stroke="#ff5050" stroke-width="0.6"/>
<text x="516.9" y="175.3" class="lg2" textLength="21.2" lengthAdjust="spacingAndGlyphs">Current 3</text>
<path d="M505 180.8 H514.2" stroke="#ff5050" stroke-width="0.7" stroke-dasharray="2.4 0.8"/>
<circle cx="510.1" cy="180.8" r="1.45" fill="#fff" stroke="#ff5050" stroke-width="0.6"/>
<text x="516.9" y="182.8" class="lg2" textLength="21.2" lengthAdjust="spacingAndGlyphs">Current 4</text>
<path d="M505 188.2 H514.2" stroke="#5050ff" stroke-width="0.7" stroke-dasharray="2.4 0.8"/>
<path d="M510.1 186.7 l1.5 2.5 h-3 z" fill="#fff" stroke="#5050ff" stroke-width="0.6"/>
<text x="516.9" y="190.2" class="lg2" textLength="21.2" lengthAdjust="spacingAndGlyphs">Current 5</text>
<path d="M505 195.7 H514.2" stroke="#5050ff" stroke-width="0.7" stroke-dasharray="2.4 0.8"/>
<path d="M510.1 194.2 l1.5 2.5 h-3 z" fill="#fff" stroke="#5050ff" stroke-width="0.6"/>
<text x="516.9" y="197.7" class="lg2" textLength="21.2" lengthAdjust="spacingAndGlyphs">Current 6</text>
<path d="M505 203.1 H514.2" stroke="#5050ff" stroke-width="0.7" stroke-dasharray="2.4 0.8"/>
<path d="M510.1 204.6 l1.5 -2.5 h-3 z" fill="#fff" stroke="#5050ff" stroke-width="0.6"/>
<text x="516.9" y="205.1" class="lg2" textLength="21.2" lengthAdjust="spacingAndGlyphs">Current 7</text>
<path d="M505 210.6 H514.2" stroke="#5050ff" stroke-width="0.7" stroke-dasharray="2.4 0.8"/>
<path d="M510.1 212.1 l1.5 -2.5 h-3 z" fill="#fff" stroke="#5050ff" stroke-width="0.6"/>
<text x="516.9" y="212.6" class="lg2" textLength="21.2" lengthAdjust="spacingAndGlyphs">Current 8</text>
<rect x="407.6" y="255.8" width="118.6" height="13.2" fill="#fff" stroke="#3a3a3a" stroke-width="1.1"/>
<text x="466.9" y="265.1" text-anchor="middle" class="bx" textLength="103.6" lengthAdjust="spacingAndGlyphs">Upper-bound of Bandwidth : 11 Hz</text>
</g>
</svg></body></html>
